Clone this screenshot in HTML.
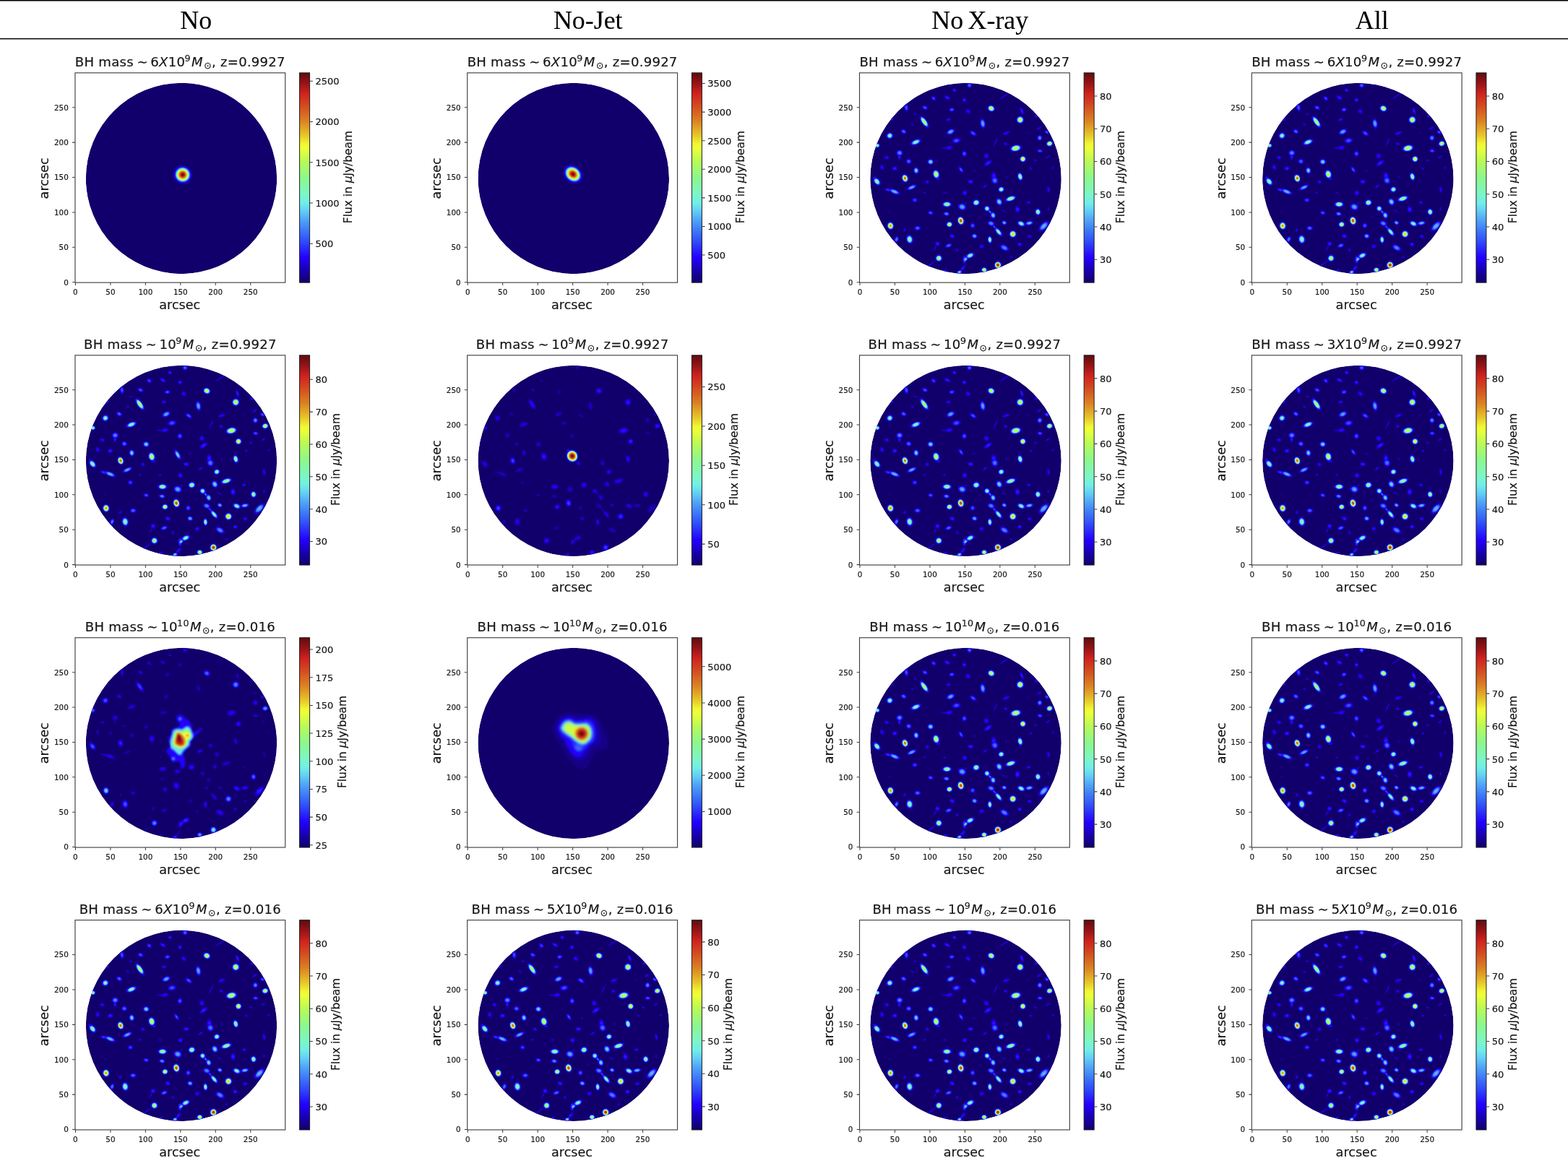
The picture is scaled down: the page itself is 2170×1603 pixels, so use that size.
<!DOCTYPE html>
<html lang="en"><head><meta charset="utf-8"><title>Simulated flux maps</title>
<style>html,body{margin:0;padding:0;background:#fff;width:2170px;height:1603px;overflow:hidden}svg{display:block;position:absolute;left:0;top:0}svg text{font-family:'DejaVu Sans','Liberation Sans',sans-serif;fill:#141414;stroke:#141414;stroke-width:0.17px;stroke-linejoin:round}svg text.hd{font-family:'Liberation Serif','DejaVu Serif',serif;fill:#000;stroke:#000;stroke-width:0.1px;word-spacing:-2.6px}</style>
</head><body>
<svg width="2170" height="1603" viewBox="0 0 2170 1603">
<defs>
<linearGradient id="cbar" x1="0" y1="1" x2="0" y2="0"><stop offset="0" stop-color="#11006c"/><stop offset="0.05" stop-color="#1700a5"/><stop offset="0.11" stop-color="#2100f5"/><stop offset="0.12" stop-color="#2300ff"/><stop offset="0.2" stop-color="#3050fa"/><stop offset="0.25" stop-color="#3e7af8"/><stop offset="0.3" stop-color="#50a5f8"/><stop offset="0.34" stop-color="#62cdf6"/><stop offset="0.38" stop-color="#70eee8"/><stop offset="0.42" stop-color="#7cf6c8"/><stop offset="0.5" stop-color="#8cf88c"/><stop offset="0.58" stop-color="#bafa56"/><stop offset="0.64" stop-color="#ecff38"/><stop offset="0.66" stop-color="#f0f834"/><stop offset="0.7" stop-color="#e8c82a"/><stop offset="0.77" stop-color="#dc8223"/><stop offset="0.85" stop-color="#d24620"/><stop offset="0.9" stop-color="#d0231e"/><stop offset="0.95" stop-color="#961416"/><stop offset="1" stop-color="#5f0c0f"/></linearGradient>
<radialGradient id="g0"><stop offset="0" stop-color="#2100f5" stop-opacity="0.36"/><stop offset="0.07" stop-color="#2100f5" stop-opacity="0.36"/><stop offset="0.14" stop-color="#2100f5" stop-opacity="0.36"/><stop offset="0.21" stop-color="#2100f5" stop-opacity="0.36"/><stop offset="0.29" stop-color="#2100f5" stop-opacity="0.36"/><stop offset="0.36" stop-color="#2100f5" stop-opacity="0.35"/><stop offset="0.43" stop-color="#2100f5" stop-opacity="0.35"/><stop offset="0.5" stop-color="#2100f5" stop-opacity="0.34"/><stop offset="0.57" stop-color="#2100f5" stop-opacity="0.32"/><stop offset="0.64" stop-color="#2100f5" stop-opacity="0.31"/><stop offset="0.71" stop-color="#2100f5" stop-opacity="0.28"/><stop offset="0.79" stop-color="#2100f5" stop-opacity="0.24"/><stop offset="0.86" stop-color="#2100f5" stop-opacity="0.18"/><stop offset="0.93" stop-color="#2100f5" stop-opacity="0.11"/><stop offset="1" stop-color="#2100f5" stop-opacity="0"/></radialGradient><radialGradient id="g1"><stop offset="0" stop-color="#2100f5" stop-opacity="0.45"/><stop offset="0.07" stop-color="#2100f5" stop-opacity="0.45"/><stop offset="0.14" stop-color="#2100f5" stop-opacity="0.45"/><stop offset="0.21" stop-color="#2100f5" stop-opacity="0.45"/><stop offset="0.29" stop-color="#2100f5" stop-opacity="0.44"/><stop offset="0.36" stop-color="#2100f5" stop-opacity="0.44"/><stop offset="0.43" stop-color="#2100f5" stop-opacity="0.42"/><stop offset="0.5" stop-color="#2100f5" stop-opacity="0.4"/><stop offset="0.57" stop-color="#2100f5" stop-opacity="0.38"/><stop offset="0.64" stop-color="#2100f5" stop-opacity="0.34"/><stop offset="0.71" stop-color="#2100f5" stop-opacity="0.3"/><stop offset="0.79" stop-color="#2100f5" stop-opacity="0.25"/><stop offset="0.86" stop-color="#2100f5" stop-opacity="0.18"/><stop offset="0.93" stop-color="#2100f5" stop-opacity="0.1"/><stop offset="1" stop-color="#2100f5" stop-opacity="0"/></radialGradient><radialGradient id="g2"><stop offset="0" stop-color="#2100f5" stop-opacity="0.55"/><stop offset="0.07" stop-color="#2100f5" stop-opacity="0.55"/><stop offset="0.14" stop-color="#2100f5" stop-opacity="0.54"/><stop offset="0.21" stop-color="#2100f5" stop-opacity="0.54"/><stop offset="0.29" stop-color="#2100f5" stop-opacity="0.53"/><stop offset="0.36" stop-color="#2100f5" stop-opacity="0.51"/><stop offset="0.43" stop-color="#2100f5" stop-opacity="0.49"/><stop offset="0.5" stop-color="#2100f5" stop-opacity="0.46"/><stop offset="0.57" stop-color="#2100f5" stop-opacity="0.43"/><stop offset="0.64" stop-color="#2100f5" stop-opacity="0.38"/><stop offset="0.71" stop-color="#2100f5" stop-opacity="0.32"/><stop offset="0.79" stop-color="#2100f5" stop-opacity="0.25"/><stop offset="0.86" stop-color="#2100f5" stop-opacity="0.17"/><stop offset="0.93" stop-color="#2100f5" stop-opacity="0.09"/><stop offset="1" stop-color="#2100f5" stop-opacity="0"/></radialGradient><radialGradient id="g3"><stop offset="0" stop-color="#2100f5" stop-opacity="0.64"/><stop offset="0.07" stop-color="#2100f5" stop-opacity="0.64"/><stop offset="0.14" stop-color="#2100f5" stop-opacity="0.63"/><stop offset="0.21" stop-color="#2100f5" stop-opacity="0.63"/><stop offset="0.29" stop-color="#2100f5" stop-opacity="0.61"/><stop offset="0.36" stop-color="#2100f5" stop-opacity="0.59"/><stop offset="0.43" stop-color="#2100f5" stop-opacity="0.56"/><stop offset="0.5" stop-color="#2100f5" stop-opacity="0.52"/><stop offset="0.57" stop-color="#2100f5" stop-opacity="0.47"/><stop offset="0.64" stop-color="#2100f5" stop-opacity="0.41"/><stop offset="0.71" stop-color="#2100f5" stop-opacity="0.34"/><stop offset="0.79" stop-color="#2100f5" stop-opacity="0.26"/><stop offset="0.86" stop-color="#2100f5" stop-opacity="0.17"/><stop offset="0.93" stop-color="#2100f5" stop-opacity="0.08"/><stop offset="1" stop-color="#2100f5" stop-opacity="0"/></radialGradient><radialGradient id="g4"><stop offset="0" stop-color="#2100f5" stop-opacity="0.73"/><stop offset="0.07" stop-color="#2100f5" stop-opacity="0.73"/><stop offset="0.14" stop-color="#2100f5" stop-opacity="0.72"/><stop offset="0.21" stop-color="#2100f5" stop-opacity="0.71"/><stop offset="0.29" stop-color="#2100f5" stop-opacity="0.7"/><stop offset="0.36" stop-color="#2100f5" stop-opacity="0.67"/><stop offset="0.43" stop-color="#2100f5" stop-opacity="0.63"/><stop offset="0.5" stop-color="#2100f5" stop-opacity="0.58"/><stop offset="0.57" stop-color="#2100f5" stop-opacity="0.52"/><stop offset="0.64" stop-color="#2100f5" stop-opacity="0.44"/><stop offset="0.71" stop-color="#2100f5" stop-opacity="0.35"/><stop offset="0.79" stop-color="#2100f5" stop-opacity="0.26"/><stop offset="0.86" stop-color="#2100f5" stop-opacity="0.17"/><stop offset="0.93" stop-color="#2100f5" stop-opacity="0.08"/><stop offset="1" stop-color="#2100f5" stop-opacity="0"/></radialGradient><radialGradient id="g5"><stop offset="0" stop-color="#2100f5" stop-opacity="0.82"/><stop offset="0.07" stop-color="#2100f5" stop-opacity="0.82"/><stop offset="0.14" stop-color="#2100f5" stop-opacity="0.81"/><stop offset="0.21" stop-color="#2100f5" stop-opacity="0.8"/><stop offset="0.29" stop-color="#2100f5" stop-opacity="0.78"/><stop offset="0.36" stop-color="#2100f5" stop-opacity="0.75"/><stop offset="0.43" stop-color="#2100f5" stop-opacity="0.7"/><stop offset="0.5" stop-color="#2100f5" stop-opacity="0.64"/><stop offset="0.57" stop-color="#2100f5" stop-opacity="0.56"/><stop offset="0.64" stop-color="#2100f5" stop-opacity="0.47"/><stop offset="0.71" stop-color="#2100f5" stop-opacity="0.37"/><stop offset="0.79" stop-color="#2100f5" stop-opacity="0.27"/><stop offset="0.86" stop-color="#2100f5" stop-opacity="0.17"/><stop offset="0.93" stop-color="#2100f5" stop-opacity="0.07"/><stop offset="1" stop-color="#2100f5" stop-opacity="0"/></radialGradient><radialGradient id="g6"><stop offset="0" stop-color="#2100f5" stop-opacity="0.91"/><stop offset="0.07" stop-color="#2100f5" stop-opacity="0.91"/><stop offset="0.14" stop-color="#2100f5" stop-opacity="0.9"/><stop offset="0.21" stop-color="#2100f5" stop-opacity="0.89"/><stop offset="0.29" stop-color="#2100f5" stop-opacity="0.86"/><stop offset="0.36" stop-color="#2100f5" stop-opacity="0.82"/><stop offset="0.43" stop-color="#2100f5" stop-opacity="0.76"/><stop offset="0.5" stop-color="#2100f5" stop-opacity="0.69"/><stop offset="0.57" stop-color="#2100f5" stop-opacity="0.6"/><stop offset="0.64" stop-color="#2100f5" stop-opacity="0.49"/><stop offset="0.71" stop-color="#2100f5" stop-opacity="0.38"/><stop offset="0.79" stop-color="#2100f5" stop-opacity="0.27"/><stop offset="0.86" stop-color="#2100f5" stop-opacity="0.16"/><stop offset="0.93" stop-color="#2100f5" stop-opacity="0.07"/><stop offset="1" stop-color="#2100f5" stop-opacity="0"/></radialGradient><radialGradient id="g7"><stop offset="0" stop-color="#2100f5"/><stop offset="0.07" stop-color="#2100f5"/><stop offset="0.14" stop-color="#2100f5" stop-opacity="0.99"/><stop offset="0.21" stop-color="#2100f5" stop-opacity="0.98"/><stop offset="0.29" stop-color="#2100f5" stop-opacity="0.95"/><stop offset="0.36" stop-color="#2100f5" stop-opacity="0.9"/><stop offset="0.43" stop-color="#2100f5" stop-opacity="0.83"/><stop offset="0.5" stop-color="#2100f5" stop-opacity="0.74"/><stop offset="0.57" stop-color="#2100f5" stop-opacity="0.64"/><stop offset="0.64" stop-color="#2100f5" stop-opacity="0.52"/><stop offset="0.71" stop-color="#2100f5" stop-opacity="0.39"/><stop offset="0.79" stop-color="#2100f5" stop-opacity="0.27"/><stop offset="0.86" stop-color="#2100f5" stop-opacity="0.16"/><stop offset="0.93" stop-color="#2100f5" stop-opacity="0.07"/><stop offset="1" stop-color="#2100f5" stop-opacity="0"/></radialGradient><radialGradient id="g8"><stop offset="0" stop-color="#2200fc"/><stop offset="0.07" stop-color="#2200fc"/><stop offset="0.14" stop-color="#2200fb"/><stop offset="0.21" stop-color="#2200fa"/><stop offset="0.29" stop-color="#2100f7"/><stop offset="0.36" stop-color="#2100f5" stop-opacity="0.97"/><stop offset="0.43" stop-color="#2100f5" stop-opacity="0.89"/><stop offset="0.5" stop-color="#2100f5" stop-opacity="0.79"/><stop offset="0.57" stop-color="#2100f5" stop-opacity="0.67"/><stop offset="0.64" stop-color="#2100f5" stop-opacity="0.54"/><stop offset="0.71" stop-color="#2100f5" stop-opacity="0.41"/><stop offset="0.79" stop-color="#2100f5" stop-opacity="0.28"/><stop offset="0.86" stop-color="#2100f5" stop-opacity="0.16"/><stop offset="0.93" stop-color="#2100f5" stop-opacity="0.07"/><stop offset="1" stop-color="#2100f5" stop-opacity="0"/></radialGradient><radialGradient id="g9"><stop offset="0" stop-color="#2405ff"/><stop offset="0.07" stop-color="#2405ff"/><stop offset="0.14" stop-color="#2404ff"/><stop offset="0.21" stop-color="#2302ff"/><stop offset="0.29" stop-color="#2300fd"/><stop offset="0.36" stop-color="#2200f8"/><stop offset="0.43" stop-color="#2100f5" stop-opacity="0.96"/><stop offset="0.5" stop-color="#2100f5" stop-opacity="0.84"/><stop offset="0.57" stop-color="#2100f5" stop-opacity="0.71"/><stop offset="0.64" stop-color="#2100f5" stop-opacity="0.57"/><stop offset="0.71" stop-color="#2100f5" stop-opacity="0.42"/><stop offset="0.79" stop-color="#2100f5" stop-opacity="0.28"/><stop offset="0.86" stop-color="#2100f5" stop-opacity="0.16"/><stop offset="0.93" stop-color="#2100f5" stop-opacity="0.06"/><stop offset="1" stop-color="#2100f5" stop-opacity="0"/></radialGradient><radialGradient id="g10"><stop offset="0" stop-color="#2610fe"/><stop offset="0.07" stop-color="#2610fe"/><stop offset="0.14" stop-color="#250ffe"/><stop offset="0.21" stop-color="#250cfe"/><stop offset="0.29" stop-color="#2407ff"/><stop offset="0.36" stop-color="#2300fe"/><stop offset="0.43" stop-color="#2100f6"/><stop offset="0.5" stop-color="#2100f5" stop-opacity="0.89"/><stop offset="0.57" stop-color="#2100f5" stop-opacity="0.75"/><stop offset="0.64" stop-color="#2100f5" stop-opacity="0.59"/><stop offset="0.71" stop-color="#2100f5" stop-opacity="0.43"/><stop offset="0.79" stop-color="#2100f5" stop-opacity="0.28"/><stop offset="0.86" stop-color="#2100f5" stop-opacity="0.15"/><stop offset="0.93" stop-color="#2100f5" stop-opacity="0.06"/><stop offset="1" stop-color="#2100f5" stop-opacity="0"/></radialGradient><radialGradient id="g11"><stop offset="0" stop-color="#271bfd"/><stop offset="0.07" stop-color="#271afd"/><stop offset="0.14" stop-color="#2719fd"/><stop offset="0.21" stop-color="#2716fe"/><stop offset="0.29" stop-color="#2610fe"/><stop offset="0.36" stop-color="#2407ff"/><stop offset="0.43" stop-color="#2200fb"/><stop offset="0.5" stop-color="#2100f5" stop-opacity="0.94"/><stop offset="0.57" stop-color="#2100f5" stop-opacity="0.78"/><stop offset="0.64" stop-color="#2100f5" stop-opacity="0.61"/><stop offset="0.71" stop-color="#2100f5" stop-opacity="0.44"/><stop offset="0.79" stop-color="#2100f5" stop-opacity="0.28"/><stop offset="0.86" stop-color="#2100f5" stop-opacity="0.15"/><stop offset="0.93" stop-color="#2100f5" stop-opacity="0.06"/><stop offset="1" stop-color="#2100f5" stop-opacity="0"/></radialGradient><radialGradient id="g12"><stop offset="0" stop-color="#2925fd"/><stop offset="0.07" stop-color="#2925fd"/><stop offset="0.14" stop-color="#2924fd"/><stop offset="0.21" stop-color="#2820fd"/><stop offset="0.29" stop-color="#271afd"/><stop offset="0.36" stop-color="#250ffe"/><stop offset="0.43" stop-color="#2301ff"/><stop offset="0.5" stop-color="#2100f5" stop-opacity="0.99"/><stop offset="0.57" stop-color="#2100f5" stop-opacity="0.82"/><stop offset="0.64" stop-color="#2100f5" stop-opacity="0.63"/><stop offset="0.71" stop-color="#2100f5" stop-opacity="0.45"/><stop offset="0.79" stop-color="#2100f5" stop-opacity="0.28"/><stop offset="0.86" stop-color="#2100f5" stop-opacity="0.15"/><stop offset="0.93" stop-color="#2100f5" stop-opacity="0.06"/><stop offset="1" stop-color="#2100f5" stop-opacity="0"/></radialGradient><radialGradient id="g13"><stop offset="0" stop-color="#2d3bfb"/><stop offset="0.07" stop-color="#2c3afb"/><stop offset="0.14" stop-color="#2c39fb"/><stop offset="0.21" stop-color="#2c35fc"/><stop offset="0.29" stop-color="#2a2dfc"/><stop offset="0.36" stop-color="#2820fd"/><stop offset="0.43" stop-color="#250ffe"/><stop offset="0.5" stop-color="#2200fb"/><stop offset="0.57" stop-color="#2100f5" stop-opacity="0.88"/><stop offset="0.64" stop-color="#2100f5" stop-opacity="0.67"/><stop offset="0.71" stop-color="#2100f5" stop-opacity="0.47"/><stop offset="0.79" stop-color="#2100f5" stop-opacity="0.29"/><stop offset="0.86" stop-color="#2100f5" stop-opacity="0.15"/><stop offset="0.93" stop-color="#2100f5" stop-opacity="0.05"/><stop offset="1" stop-color="#2100f5" stop-opacity="0"/></radialGradient><radialGradient id="g14"><stop offset="0" stop-color="#3050fa"/><stop offset="0.07" stop-color="#3050fa"/><stop offset="0.14" stop-color="#304efa"/><stop offset="0.21" stop-color="#2f49fa"/><stop offset="0.29" stop-color="#2d40fb"/><stop offset="0.36" stop-color="#2b31fc"/><stop offset="0.43" stop-color="#281dfd"/><stop offset="0.5" stop-color="#2405ff"/><stop offset="0.57" stop-color="#2100f5" stop-opacity="0.95"/><stop offset="0.64" stop-color="#2100f5" stop-opacity="0.71"/><stop offset="0.71" stop-color="#2100f5" stop-opacity="0.48"/><stop offset="0.79" stop-color="#2100f5" stop-opacity="0.29"/><stop offset="0.86" stop-color="#2100f5" stop-opacity="0.15"/><stop offset="0.93" stop-color="#2100f5" stop-opacity="0.05"/><stop offset="1" stop-color="#2100f5" stop-opacity="0"/></radialGradient><radialGradient id="g15"><stop offset="0" stop-color="#3661f9"/><stop offset="0.07" stop-color="#3661f9"/><stop offset="0.14" stop-color="#355ff9"/><stop offset="0.21" stop-color="#335afa"/><stop offset="0.29" stop-color="#3152fa"/><stop offset="0.36" stop-color="#2e42fb"/><stop offset="0.43" stop-color="#2a2bfc"/><stop offset="0.5" stop-color="#250ffe"/><stop offset="0.57" stop-color="#2100f5"/><stop offset="0.64" stop-color="#2100f5" stop-opacity="0.74"/><stop offset="0.71" stop-color="#2100f5" stop-opacity="0.5"/><stop offset="0.79" stop-color="#2100f5" stop-opacity="0.3"/><stop offset="0.86" stop-color="#2100f5" stop-opacity="0.15"/><stop offset="0.93" stop-color="#2100f5" stop-opacity="0.05"/><stop offset="1" stop-color="#2100f5" stop-opacity="0"/></radialGradient><radialGradient id="g16"><stop offset="0" stop-color="#3b72f8"/><stop offset="0.07" stop-color="#3b71f8"/><stop offset="0.14" stop-color="#3a6ff9"/><stop offset="0.21" stop-color="#396af9"/><stop offset="0.29" stop-color="#3661f9"/><stop offset="0.36" stop-color="#3152fa"/><stop offset="0.43" stop-color="#2c39fb"/><stop offset="0.5" stop-color="#271afd"/><stop offset="0.57" stop-color="#2200fa"/><stop offset="0.64" stop-color="#2100f5" stop-opacity="0.78"/><stop offset="0.71" stop-color="#2100f5" stop-opacity="0.51"/><stop offset="0.79" stop-color="#2100f5" stop-opacity="0.3"/><stop offset="0.86" stop-color="#2100f5" stop-opacity="0.14"/><stop offset="0.93" stop-color="#2100f5" stop-opacity="0.05"/><stop offset="1" stop-color="#2100f5" stop-opacity="0"/></radialGradient><radialGradient id="g17"><stop offset="0" stop-color="#4283f8"/><stop offset="0.07" stop-color="#4182f8"/><stop offset="0.14" stop-color="#4180f8"/><stop offset="0.21" stop-color="#3e7af8"/><stop offset="0.29" stop-color="#3a6ff9"/><stop offset="0.36" stop-color="#355ff9"/><stop offset="0.43" stop-color="#2e46fb"/><stop offset="0.5" stop-color="#2924fd"/><stop offset="0.57" stop-color="#2300fe"/><stop offset="0.64" stop-color="#2100f5" stop-opacity="0.81"/><stop offset="0.71" stop-color="#2100f5" stop-opacity="0.53"/><stop offset="0.79" stop-color="#2100f5" stop-opacity="0.3"/><stop offset="0.86" stop-color="#2100f5" stop-opacity="0.14"/><stop offset="0.93" stop-color="#2100f5" stop-opacity="0.05"/><stop offset="1" stop-color="#2100f5" stop-opacity="0"/></radialGradient><radialGradient id="g18"><stop offset="0" stop-color="#4994f8"/><stop offset="0.07" stop-color="#4993f8"/><stop offset="0.14" stop-color="#4891f8"/><stop offset="0.21" stop-color="#458af8"/><stop offset="0.29" stop-color="#407ef8"/><stop offset="0.36" stop-color="#396bf9"/><stop offset="0.43" stop-color="#3153fa"/><stop offset="0.5" stop-color="#2a2efc"/><stop offset="0.57" stop-color="#2405ff"/><stop offset="0.64" stop-color="#2100f5" stop-opacity="0.84"/><stop offset="0.71" stop-color="#2100f5" stop-opacity="0.54"/><stop offset="0.79" stop-color="#2100f5" stop-opacity="0.3"/><stop offset="0.86" stop-color="#2100f5" stop-opacity="0.14"/><stop offset="0.93" stop-color="#2100f5" stop-opacity="0.04"/><stop offset="1" stop-color="#2100f5" stop-opacity="0"/></radialGradient><radialGradient id="g19"><stop offset="0" stop-color="#50a5f8"/><stop offset="0.07" stop-color="#50a5f8"/><stop offset="0.14" stop-color="#4fa2f8"/><stop offset="0.21" stop-color="#4c9bf8"/><stop offset="0.29" stop-color="#468df8"/><stop offset="0.36" stop-color="#3d78f8"/><stop offset="0.43" stop-color="#345df9"/><stop offset="0.5" stop-color="#2c38fc"/><stop offset="0.57" stop-color="#250cfe"/><stop offset="0.64" stop-color="#2100f5" stop-opacity="0.87"/><stop offset="0.71" stop-color="#2100f5" stop-opacity="0.55"/><stop offset="0.79" stop-color="#2100f5" stop-opacity="0.31"/><stop offset="0.86" stop-color="#2100f5" stop-opacity="0.14"/><stop offset="0.93" stop-color="#2100f5" stop-opacity="0.04"/><stop offset="1" stop-color="#2100f5" stop-opacity="0"/></radialGradient><radialGradient id="g20"><stop offset="0" stop-color="#59b9f7"/><stop offset="0.07" stop-color="#59b8f7"/><stop offset="0.14" stop-color="#57b5f7"/><stop offset="0.21" stop-color="#53acf8"/><stop offset="0.29" stop-color="#4c9cf8"/><stop offset="0.36" stop-color="#4385f8"/><stop offset="0.43" stop-color="#3867f9"/><stop offset="0.5" stop-color="#2e41fb"/><stop offset="0.57" stop-color="#2612fe"/><stop offset="0.64" stop-color="#2100f5" stop-opacity="0.9"/><stop offset="0.71" stop-color="#2100f5" stop-opacity="0.57"/><stop offset="0.79" stop-color="#2100f5" stop-opacity="0.31"/><stop offset="0.86" stop-color="#2100f5" stop-opacity="0.14"/><stop offset="0.93" stop-color="#2100f5" stop-opacity="0.04"/><stop offset="1" stop-color="#2100f5" stop-opacity="0"/></radialGradient><radialGradient id="g21"><stop offset="0" stop-color="#66d6f2"/><stop offset="0.07" stop-color="#66d6f2"/><stop offset="0.14" stop-color="#64d2f4"/><stop offset="0.21" stop-color="#60c8f6"/><stop offset="0.29" stop-color="#57b4f7"/><stop offset="0.36" stop-color="#4b99f8"/><stop offset="0.43" stop-color="#3d77f8"/><stop offset="0.5" stop-color="#3050fa"/><stop offset="0.57" stop-color="#271bfd"/><stop offset="0.64" stop-color="#2100f5" stop-opacity="0.94"/><stop offset="0.71" stop-color="#2100f5" stop-opacity="0.58"/><stop offset="0.79" stop-color="#2100f5" stop-opacity="0.31"/><stop offset="0.86" stop-color="#2100f5" stop-opacity="0.14"/><stop offset="0.93" stop-color="#2100f5" stop-opacity="0.04"/><stop offset="1" stop-color="#2100f5" stop-opacity="0"/></radialGradient><radialGradient id="g22"><stop offset="0" stop-color="#71efe4"/><stop offset="0.07" stop-color="#71efe5"/><stop offset="0.14" stop-color="#70eee8"/><stop offset="0.21" stop-color="#6be3ed"/><stop offset="0.29" stop-color="#62cef6"/><stop offset="0.36" stop-color="#54adf8"/><stop offset="0.43" stop-color="#4386f8"/><stop offset="0.5" stop-color="#345bf9"/><stop offset="0.57" stop-color="#2924fd"/><stop offset="0.64" stop-color="#2100f5" stop-opacity="0.99"/><stop offset="0.71" stop-color="#2100f5" stop-opacity="0.6"/><stop offset="0.79" stop-color="#2100f5" stop-opacity="0.32"/><stop offset="0.86" stop-color="#2100f5" stop-opacity="0.13"/><stop offset="0.93" stop-color="#2100f5" stop-opacity="0.04"/><stop offset="1" stop-color="#2100f5" stop-opacity="0"/></radialGradient><radialGradient id="g23"><stop offset="0" stop-color="#7cf6c8"/><stop offset="0.07" stop-color="#7cf6c9"/><stop offset="0.14" stop-color="#7af5cc"/><stop offset="0.21" stop-color="#77f3d6"/><stop offset="0.29" stop-color="#70eee8"/><stop offset="0.36" stop-color="#61cbf6"/><stop offset="0.43" stop-color="#4c9af8"/><stop offset="0.5" stop-color="#3869f9"/><stop offset="0.57" stop-color="#2b30fc"/><stop offset="0.64" stop-color="#2200f8"/><stop offset="0.71" stop-color="#2100f5" stop-opacity="0.62"/><stop offset="0.79" stop-color="#2100f5" stop-opacity="0.32"/><stop offset="0.86" stop-color="#2100f5" stop-opacity="0.13"/><stop offset="0.93" stop-color="#2100f5" stop-opacity="0.04"/><stop offset="1" stop-color="#2100f5" stop-opacity="0"/></radialGradient><radialGradient id="g24"><stop offset="0" stop-color="#84f7aa"/><stop offset="0.07" stop-color="#84f7ab"/><stop offset="0.14" stop-color="#83f7af"/><stop offset="0.21" stop-color="#80f6ba"/><stop offset="0.29" stop-color="#79f4cf"/><stop offset="0.36" stop-color="#6de6eb"/><stop offset="0.43" stop-color="#55b0f7"/><stop offset="0.5" stop-color="#3d77f8"/><stop offset="0.57" stop-color="#2d3bfb"/><stop offset="0.64" stop-color="#2200fb"/><stop offset="0.71" stop-color="#2100f5" stop-opacity="0.64"/><stop offset="0.79" stop-color="#2100f5" stop-opacity="0.32"/><stop offset="0.86" stop-color="#2100f5" stop-opacity="0.13"/><stop offset="0.93" stop-color="#2100f5" stop-opacity="0.04"/><stop offset="1" stop-color="#2100f5" stop-opacity="0"/></radialGradient><radialGradient id="g25"><stop offset="0" stop-color="#8cf88c"/><stop offset="0.07" stop-color="#8cf88d"/><stop offset="0.14" stop-color="#8bf892"/><stop offset="0.21" stop-color="#87f79e"/><stop offset="0.29" stop-color="#81f7b6"/><stop offset="0.36" stop-color="#76f2d9"/><stop offset="0.43" stop-color="#5fc7f6"/><stop offset="0.5" stop-color="#4385f8"/><stop offset="0.57" stop-color="#2e46fb"/><stop offset="0.64" stop-color="#2300ff"/><stop offset="0.71" stop-color="#2100f5" stop-opacity="0.66"/><stop offset="0.79" stop-color="#2100f5" stop-opacity="0.33"/><stop offset="0.86" stop-color="#2100f5" stop-opacity="0.13"/><stop offset="0.93" stop-color="#2100f5" stop-opacity="0.03"/><stop offset="1" stop-color="#2100f5" stop-opacity="0"/></radialGradient><radialGradient id="g26"><stop offset="0" stop-color="#a9f96a"/><stop offset="0.07" stop-color="#a8f96b"/><stop offset="0.14" stop-color="#a4f970"/><stop offset="0.21" stop-color="#99f97d"/><stop offset="0.29" stop-color="#89f896"/><stop offset="0.36" stop-color="#7ef6bf"/><stop offset="0.43" stop-color="#6be2ed"/><stop offset="0.5" stop-color="#4a96f8"/><stop offset="0.57" stop-color="#3152fa"/><stop offset="0.64" stop-color="#2407ff"/><stop offset="0.71" stop-color="#2100f5" stop-opacity="0.68"/><stop offset="0.79" stop-color="#2100f5" stop-opacity="0.33"/><stop offset="0.86" stop-color="#2100f5" stop-opacity="0.13"/><stop offset="0.93" stop-color="#2100f5" stop-opacity="0.03"/><stop offset="1" stop-color="#2100f5" stop-opacity="0"/></radialGradient><radialGradient id="g27"><stop offset="0" stop-color="#cbfc4c"/><stop offset="0.07" stop-color="#cafc4d"/><stop offset="0.14" stop-color="#c3fb51"/><stop offset="0.21" stop-color="#b4fa5e"/><stop offset="0.29" stop-color="#9cf979"/><stop offset="0.36" stop-color="#86f7a4"/><stop offset="0.43" stop-color="#74f1dd"/><stop offset="0.5" stop-color="#51a8f8"/><stop offset="0.57" stop-color="#345df9"/><stop offset="0.64" stop-color="#250dfe"/><stop offset="0.71" stop-color="#2100f5" stop-opacity="0.7"/><stop offset="0.79" stop-color="#2100f5" stop-opacity="0.33"/><stop offset="0.86" stop-color="#2100f5" stop-opacity="0.13"/><stop offset="0.93" stop-color="#2100f5" stop-opacity="0.03"/><stop offset="1" stop-color="#2100f5" stop-opacity="0"/></radialGradient><radialGradient id="g28"><stop offset="0" stop-color="#eefc36"/><stop offset="0.07" stop-color="#eefc36"/><stop offset="0.14" stop-color="#ecff38"/><stop offset="0.21" stop-color="#d7fd44"/><stop offset="0.29" stop-color="#b5fa5c"/><stop offset="0.36" stop-color="#8ef889"/><stop offset="0.43" stop-color="#7cf6c9"/><stop offset="0.5" stop-color="#5abbf7"/><stop offset="0.57" stop-color="#3766f9"/><stop offset="0.64" stop-color="#2613fe"/><stop offset="0.71" stop-color="#2100f5" stop-opacity="0.72"/><stop offset="0.79" stop-color="#2100f5" stop-opacity="0.34"/><stop offset="0.86" stop-color="#2100f5" stop-opacity="0.12"/><stop offset="0.93" stop-color="#2100f5" stop-opacity="0.03"/><stop offset="1" stop-color="#2100f5" stop-opacity="0"/></radialGradient><radialGradient id="g29"><stop offset="0" stop-color="#e8c82a"/><stop offset="0.07" stop-color="#e8ca2a"/><stop offset="0.14" stop-color="#ead62d"/><stop offset="0.21" stop-color="#f0f634"/><stop offset="0.29" stop-color="#d5fd46"/><stop offset="0.36" stop-color="#a3f971"/><stop offset="0.43" stop-color="#81f7b5"/><stop offset="0.5" stop-color="#62cef6"/><stop offset="0.57" stop-color="#3b70f8"/><stop offset="0.64" stop-color="#2719fd"/><stop offset="0.71" stop-color="#2100f5" stop-opacity="0.74"/><stop offset="0.79" stop-color="#2100f5" stop-opacity="0.34"/><stop offset="0.86" stop-color="#2100f5" stop-opacity="0.12"/><stop offset="0.93" stop-color="#2100f5" stop-opacity="0.03"/><stop offset="1" stop-color="#2100f5" stop-opacity="0"/></radialGradient><radialGradient id="g30"><stop offset="0" stop-color="#df9625"/><stop offset="0.07" stop-color="#e09825"/><stop offset="0.14" stop-color="#e2a326"/><stop offset="0.21" stop-color="#e7c029"/><stop offset="0.29" stop-color="#effa35"/><stop offset="0.36" stop-color="#b7fa5a"/><stop offset="0.43" stop-color="#87f7a0"/><stop offset="0.5" stop-color="#6ae0ee"/><stop offset="0.57" stop-color="#3e79f8"/><stop offset="0.64" stop-color="#281ffd"/><stop offset="0.71" stop-color="#2100f5" stop-opacity="0.76"/><stop offset="0.79" stop-color="#2100f5" stop-opacity="0.34"/><stop offset="0.86" stop-color="#2100f5" stop-opacity="0.12"/><stop offset="0.93" stop-color="#2100f5" stop-opacity="0.03"/><stop offset="1" stop-color="#2100f5" stop-opacity="0"/></radialGradient><radialGradient id="g31"><stop offset="0" stop-color="#d86b22"/><stop offset="0.07" stop-color="#d86d22"/><stop offset="0.14" stop-color="#da7622"/><stop offset="0.21" stop-color="#df9225"/><stop offset="0.29" stop-color="#e9cd2b"/><stop offset="0.36" stop-color="#d3fc47"/><stop offset="0.43" stop-color="#8cf88c"/><stop offset="0.5" stop-color="#71efe6"/><stop offset="0.57" stop-color="#4283f8"/><stop offset="0.64" stop-color="#2925fd"/><stop offset="0.71" stop-color="#2100f5" stop-opacity="0.77"/><stop offset="0.79" stop-color="#2100f5" stop-opacity="0.34"/><stop offset="0.86" stop-color="#2100f5" stop-opacity="0.12"/><stop offset="0.93" stop-color="#2100f5" stop-opacity="0.03"/><stop offset="1" stop-color="#2100f5" stop-opacity="0"/></radialGradient><radialGradient id="g32"><stop offset="0" stop-color="#d24620"/><stop offset="0.07" stop-color="#d24720"/><stop offset="0.14" stop-color="#d45121"/><stop offset="0.21" stop-color="#d86b22"/><stop offset="0.29" stop-color="#e2a226"/><stop offset="0.36" stop-color="#edfd37"/><stop offset="0.43" stop-color="#9bf97a"/><stop offset="0.5" stop-color="#76f2d9"/><stop offset="0.57" stop-color="#458cf8"/><stop offset="0.64" stop-color="#2a2afc"/><stop offset="0.71" stop-color="#2100f5" stop-opacity="0.79"/><stop offset="0.79" stop-color="#2100f5" stop-opacity="0.35"/><stop offset="0.86" stop-color="#2100f5" stop-opacity="0.12"/><stop offset="0.93" stop-color="#2100f5" stop-opacity="0.03"/><stop offset="1" stop-color="#2100f5" stop-opacity="0"/></radialGradient><radialGradient id="g33"><stop offset="0" stop-color="#d0231e"/><stop offset="0.07" stop-color="#d0241e"/><stop offset="0.14" stop-color="#d12e1f"/><stop offset="0.21" stop-color="#d24820"/><stop offset="0.29" stop-color="#db7b23"/><stop offset="0.36" stop-color="#ece12f"/><stop offset="0.43" stop-color="#aaf968"/><stop offset="0.5" stop-color="#7af5cc"/><stop offset="0.57" stop-color="#4995f8"/><stop offset="0.64" stop-color="#2b2ffc"/><stop offset="0.71" stop-color="#2100f5" stop-opacity="0.8"/><stop offset="0.79" stop-color="#2100f5" stop-opacity="0.35"/><stop offset="0.86" stop-color="#2100f5" stop-opacity="0.12"/><stop offset="0.93" stop-color="#2100f5" stop-opacity="0.03"/><stop offset="1" stop-color="#2100f5" stop-opacity="0"/></radialGradient>
<radialGradient id="gc3"><stop offset="0" stop-color="#5f0c0f"/><stop offset="0.04" stop-color="#700e11"/><stop offset="0.08" stop-color="#821113"/><stop offset="0.12" stop-color="#9c1517"/><stop offset="0.17" stop-color="#b71c1b"/><stop offset="0.21" stop-color="#d1311f"/><stop offset="0.25" stop-color="#d45121"/><stop offset="0.29" stop-color="#d96f22"/><stop offset="0.33" stop-color="#de9024"/><stop offset="0.38" stop-color="#e5b928"/><stop offset="0.42" stop-color="#ede831"/><stop offset="0.46" stop-color="#d9fd43"/><stop offset="0.5" stop-color="#a5f96e"/><stop offset="0.54" stop-color="#86f7a4"/><stop offset="0.58" stop-color="#73f0df"/><stop offset="0.62" stop-color="#56b2f7"/><stop offset="0.67" stop-color="#3b71f8"/><stop offset="0.71" stop-color="#2b32fc"/><stop offset="0.75" stop-color="#2100f7"/><stop offset="0.79" stop-color="#2100f5" stop-opacity="0.78"/><stop offset="0.83" stop-color="#2100f5" stop-opacity="0.53"/><stop offset="0.88" stop-color="#2100f5" stop-opacity="0.34"/><stop offset="0.92" stop-color="#2100f5" stop-opacity="0.17"/><stop offset="0.96" stop-color="#2100f5" stop-opacity="0.08"/><stop offset="1" stop-color="#2100f5" stop-opacity="0"/></radialGradient>
<radialGradient id="gc4"><stop offset="0" stop-color="#5f0c0f"/><stop offset="0.04" stop-color="#6a0e10"/><stop offset="0.08" stop-color="#760f12"/><stop offset="0.12" stop-color="#831114"/><stop offset="0.17" stop-color="#9c1617"/><stop offset="0.21" stop-color="#b61c1a"/><stop offset="0.25" stop-color="#d0231e"/><stop offset="0.29" stop-color="#d13c1f"/><stop offset="0.33" stop-color="#d55521"/><stop offset="0.38" stop-color="#d96f22"/><stop offset="0.42" stop-color="#de8c24"/><stop offset="0.46" stop-color="#e4b028"/><stop offset="0.5" stop-color="#ebd92d"/><stop offset="0.54" stop-color="#edfd37"/><stop offset="0.58" stop-color="#b4fa5e"/><stop offset="0.62" stop-color="#8af894"/><stop offset="0.67" stop-color="#77f3d4"/><stop offset="0.71" stop-color="#52a9f8"/><stop offset="0.75" stop-color="#3256fa"/><stop offset="0.79" stop-color="#2200fb"/><stop offset="0.83" stop-color="#2100f5" stop-opacity="0.7"/><stop offset="0.88" stop-color="#2100f5" stop-opacity="0.43"/><stop offset="0.92" stop-color="#2100f5" stop-opacity="0.24"/><stop offset="0.96" stop-color="#2100f5" stop-opacity="0.12"/><stop offset="1" stop-color="#2100f5" stop-opacity="0"/></radialGradient>
<filter id="bl1" x="-20%" y="-20%" width="140%" height="140%"><feGaussianBlur stdDeviation="0.85"/></filter>
<filter id="bl2" x="-20%" y="-20%" width="140%" height="140%"><feGaussianBlur stdDeviation="1.5"/></filter>
<clipPath id="cc"><circle cx="147.05" cy="146.1" r="132.2"/></clipPath>
</defs>
<rect width="2170" height="1603" fill="#fff"/>
<rect x="0" y="0" width="2170" height="1.5" fill="#000"/>
<rect x="0" y="52.9" width="2170" height="1.5" fill="#000"/>
<text class="hd" x="271.25" y="40.1" font-size="35.9" text-anchor="middle">No</text>
<text class="hd" x="813.75" y="40.1" font-size="35.9" text-anchor="middle">No-Jet</text>
<text class="hd" x="1356.25" y="40.1" font-size="35.9" text-anchor="middle">No X-ray</text>
<text class="hd" x="1898.75" y="40.1" font-size="35.9" text-anchor="middle">All</text>
<g transform="translate(103.95 100.85)">
<g clip-path="url(#cc)">
<circle cx="147.05" cy="146.1" r="132.2" fill="#11006c"/>
<ellipse rx="14.6" ry="14.3" fill="url(#gc3)" transform="translate(148.87 140.98) rotate(30)"/>
</g>
<rect x="0" y="0" width="290.8" height="290.3" fill="none" stroke="#404040" stroke-width="1.15"/>
<path d="M0.48 290.3v3.9M0 289.81h-3.9M48.95 290.3v3.9M0 241.43h-3.9M97.42 290.3v3.9M0 193.05h-3.9M145.89 290.3v3.9M0 144.66h-3.9M194.35 290.3v3.9M0 96.28h-3.9M242.82 290.3v3.9M0 47.9h-3.9" stroke="#404040" stroke-width="1.05" fill="none"/>
<g font-size="10.4" text-anchor="middle">
<text x="0.48" y="306.9">0</text>
<text x="48.95" y="306.9">50</text>
<text x="97.42" y="306.9">100</text>
<text x="145.89" y="306.9">150</text>
<text x="194.35" y="306.9">200</text>
<text x="242.82" y="306.9">250</text>
</g>
<g font-size="10.4" text-anchor="end">
<text x="-9.1" y="293.71">0</text>
<text x="-9.1" y="245.33">50</text>
<text x="-9.1" y="196.95">100</text>
<text x="-9.1" y="148.56">150</text>
<text x="-9.1" y="100.18">200</text>
<text x="-9.1" y="51.8">250</text>
</g>
<text x="144.8" y="327.1" font-size="17.6" text-anchor="middle">arcsec</text>
<text font-size="17.6" text-anchor="middle" transform="translate(-36.7 146.05) rotate(-90)">arcsec</text>
<text x="145.4" y="-8.9" font-size="18.1" text-anchor="middle" letter-spacing="0.23">BH mass<tspan dx="4.6">∼</tspan><tspan dx="3.5">6</tspan><tspan font-style="italic">X</tspan>10<tspan font-size="12.67" dy="-6.6" dx="-0.6">9</tspan><tspan font-style="italic" dy="6.6" dx="1.2">M</tspan><tspan font-size="12.67" dy="2.9" dx="1.3">⊙</tspan><tspan dy="-2.9">, z=0.9927</tspan></text>
<rect x="310.65" y="0" width="14" height="290.3" fill="url(#cbar)" stroke="#161616" stroke-width="0.95"/>
<path d="M325.05 236.35h3.9M325.05 180.1h3.9M325.05 123.85h3.9M325.05 67.6h3.9M325.05 11.35h3.9" stroke="#404040" stroke-width="1.05" fill="none"/>
<g font-size="13">
<text x="332.55" y="241.25">500</text>
<text x="332.55" y="185">1000</text>
<text x="332.55" y="128.75">1500</text>
<text x="332.55" y="72.5">2000</text>
<text x="332.55" y="16.25">2500</text>
</g>
<text font-size="15.4" text-anchor="middle" transform="translate(382.85 144.25) rotate(-90)">Flux in <tspan font-style="italic">μ</tspan>Jy/beam</text>
</g>
<g transform="translate(646.73 100.85)">
<g clip-path="url(#cc)">
<circle cx="147.05" cy="146.1" r="132.2" fill="#11006c"/>
<ellipse rx="16.3" ry="13.2" fill="url(#gc3)" transform="translate(146.2 140.2) rotate(40)"/>
</g>
<rect x="0" y="0" width="290.8" height="290.3" fill="none" stroke="#404040" stroke-width="1.15"/>
<path d="M0.48 290.3v3.9M0 289.81h-3.9M48.95 290.3v3.9M0 241.43h-3.9M97.42 290.3v3.9M0 193.05h-3.9M145.89 290.3v3.9M0 144.66h-3.9M194.35 290.3v3.9M0 96.28h-3.9M242.82 290.3v3.9M0 47.9h-3.9" stroke="#404040" stroke-width="1.05" fill="none"/>
<g font-size="10.4" text-anchor="middle">
<text x="0.48" y="306.9">0</text>
<text x="48.95" y="306.9">50</text>
<text x="97.42" y="306.9">100</text>
<text x="145.89" y="306.9">150</text>
<text x="194.35" y="306.9">200</text>
<text x="242.82" y="306.9">250</text>
</g>
<g font-size="10.4" text-anchor="end">
<text x="-9.1" y="293.71">0</text>
<text x="-9.1" y="245.33">50</text>
<text x="-9.1" y="196.95">100</text>
<text x="-9.1" y="148.56">150</text>
<text x="-9.1" y="100.18">200</text>
<text x="-9.1" y="51.8">250</text>
</g>
<text x="144.8" y="327.1" font-size="17.6" text-anchor="middle">arcsec</text>
<text font-size="17.6" text-anchor="middle" transform="translate(-36.7 146.05) rotate(-90)">arcsec</text>
<text x="145.4" y="-8.9" font-size="18.1" text-anchor="middle" letter-spacing="0.23">BH mass<tspan dx="4.6">∼</tspan><tspan dx="3.5">6</tspan><tspan font-style="italic">X</tspan>10<tspan font-size="12.67" dy="-6.6" dx="-0.6">9</tspan><tspan font-style="italic" dy="6.6" dx="1.2">M</tspan><tspan font-size="12.67" dy="2.9" dx="1.3">⊙</tspan><tspan dy="-2.9">, z=0.9927</tspan></text>
<rect x="310.65" y="0" width="14" height="290.3" fill="url(#cbar)" stroke="#161616" stroke-width="0.95"/>
<path d="M325.05 252.22h3.9M325.05 212.63h3.9M325.05 173.04h3.9M325.05 133.45h3.9M325.05 93.86h3.9M325.05 54.27h3.9M325.05 14.68h3.9" stroke="#404040" stroke-width="1.05" fill="none"/>
<g font-size="13">
<text x="332.55" y="257.12">500</text>
<text x="332.55" y="217.53">1000</text>
<text x="332.55" y="177.94">1500</text>
<text x="332.55" y="138.35">2000</text>
<text x="332.55" y="98.76">2500</text>
<text x="332.55" y="59.17">3000</text>
<text x="332.55" y="19.58">3500</text>
</g>
<text font-size="15.4" text-anchor="middle" transform="translate(382.85 144.25) rotate(-90)">Flux in <tspan font-style="italic">μ</tspan>Jy/beam</text>
</g>
<g transform="translate(1189.51 100.85)">
<g clip-path="url(#cc)">
<circle cx="147.05" cy="146.1" r="132.2" fill="#11006c"/>
<ellipse cx="232.61" cy="83.22" rx="1.48" ry="1.48" fill="url(#g2)"/><ellipse cx="41.43" cy="192.52" rx="1.48" ry="1.48" fill="url(#g2)"/><ellipse rx="1.85" ry="1.48" fill="url(#g2)" transform="translate(166.82 199.54) rotate(40)"/><ellipse rx="3.08" ry="1.48" fill="url(#g3)" transform="translate(203.13 144.05) rotate(80)"/><ellipse rx="3.45" ry="1.73" fill="url(#g4)" transform="translate(76.99 57.02) rotate(10)"/><ellipse rx="3.08" ry="2.22" fill="url(#g4)" transform="translate(72.97 71.25) rotate(40)"/><ellipse cx="117.7" cy="104" rx="6.16" ry="1.48" fill="url(#g4)"/><ellipse cx="267.7" cy="131.42" rx="2.22" ry="2.22" fill="url(#g4)"/><ellipse cx="158.68" cy="136.09" rx="1.85" ry="1.85" fill="url(#g4)"/><ellipse cx="117.51" cy="165.85" rx="2.71" ry="1.97" fill="url(#g4)"/><ellipse rx="3.7" ry="1.48" fill="url(#g4)" transform="translate(146.99 180.82) rotate(-60)"/><ellipse rx="4.93" ry="1.48" fill="url(#g4)" transform="translate(199.57 191.3) rotate(30)"/><ellipse rx="3.45" ry="1.85" fill="url(#g4)" transform="translate(261.33 188.31) rotate(90)"/><ellipse cx="209.68" cy="254.75" rx="2.47" ry="2.47" fill="url(#g4)"/><ellipse rx="9.86" ry="1.48" fill="url(#g5)" transform="translate(200.32 32.23) rotate(-33)"/><ellipse rx="8.63" ry="1.48" fill="url(#g5)" transform="translate(188.16 95.86) rotate(-65)"/><ellipse rx="5.55" ry="1.48" fill="url(#g5)" transform="translate(104.6 242.58) rotate(-60)"/><ellipse rx="11.3" ry="1.51" fill="url(#g5)" transform="translate(98.98 264.57) rotate(-35)"/><ellipse rx="4.93" ry="1.48" fill="url(#g5)" transform="translate(144.83 270.65) rotate(-60)"/><ellipse rx="4.69" ry="2.22" fill="url(#g6)" transform="translate(248.51 76.67) rotate(-35)"/><ellipse rx="4.32" ry="1.73" fill="url(#g6)" transform="translate(260.68 116.44) rotate(-35)"/><ellipse cx="243.37" cy="121.12" rx="2.71" ry="1.97" fill="url(#g6)"/><ellipse cx="236.82" cy="132.35" rx="2.47" ry="2.22" fill="url(#g6)"/><ellipse rx="2.47" ry="1.85" fill="url(#g6)" transform="translate(90.09 165.57) rotate(-20)"/><ellipse rx="3.45" ry="2.71" fill="url(#g6)" transform="translate(62.49 217.5) rotate(-60)"/><ellipse rx="3.45" ry="2.22" fill="url(#g6)" transform="translate(135.2 245.39) rotate(70)"/><ellipse rx="3.08" ry="1.85" fill="url(#g8)" transform="translate(45.18 64.51) rotate(-50)"/><ellipse rx="3.08" ry="2.22" fill="url(#g8)" transform="translate(244.3 60.3) rotate(30)"/><ellipse rx="3.7" ry="2.47" fill="url(#g8)" transform="translate(202.19 98.38) rotate(30)"/><ellipse rx="3.7" ry="1.85" fill="url(#g8)" transform="translate(118.63 273.46) rotate(-10)"/><ellipse rx="4.93" ry="1.85" fill="url(#g8)" transform="translate(173.65 156.96) rotate(-35)"/><ellipse rx="5.55" ry="2.71" fill="url(#g8)" transform="translate(261.61 161.64) rotate(80)"/><ellipse rx="4.32" ry="2.71" fill="url(#g9)" transform="translate(123.03 64.79) rotate(-20)"/><ellipse rx="6.16" ry="3.7" fill="url(#g9)" transform="translate(124.25 103.62) rotate(-15)"/><ellipse rx="4.32" ry="3.08" fill="url(#g9)" transform="translate(37.69 117.19) rotate(10)"/><ellipse rx="4.93" ry="3.45" fill="url(#g9)" transform="translate(31.14 130.67) rotate(70)"/><ellipse rx="3.7" ry="2.47" fill="url(#g9)" transform="translate(21.32 145.45) rotate(20)"/><ellipse rx="4.93" ry="3.7" fill="url(#g9)" transform="translate(150.26 53.28) rotate(40)"/><ellipse rx="6.78" ry="2.71" fill="url(#g9)" transform="translate(202.94 83.41) rotate(-20)"/><ellipse rx="4.93" ry="4.32" fill="url(#g9)" transform="translate(175.53 115.04) rotate(60)"/><ellipse rx="3.7" ry="3.08" fill="url(#g9)" transform="translate(93.65 151.07) rotate(30)"/><ellipse cx="108.81" cy="146.67" rx="3.7" ry="2.47" fill="url(#g9)"/><ellipse cx="234.01" cy="179.42" rx="3.7" ry="2.71" fill="url(#g9)"/><ellipse cx="235.41" cy="226.49" rx="3.95" ry="3.08" fill="url(#g9)"/><ellipse rx="4.32" ry="3.7" fill="url(#g9)" transform="translate(168.98 240.24) rotate(-20)"/><ellipse cx="145.58" cy="166.32" rx="4.36" ry="4.36" fill="url(#g10)"/><ellipse rx="3.77" ry="3.14" fill="url(#g11)" transform="translate(131.27 23.99) rotate(30)"/><ellipse rx="6.03" ry="3.14" fill="url(#g11)" transform="translate(121.44 34.38) rotate(30)"/><ellipse cx="145.02" cy="37.56" rx="3.77" ry="3.77" fill="url(#g11)"/><ellipse cx="55.19" cy="116.44" rx="2.76" ry="5.02" fill="url(#g11)"/><ellipse rx="4.77" ry="3.77" fill="url(#g11)" transform="translate(48.73 132.35) rotate(-10)"/><ellipse rx="6.91" ry="2.76" fill="url(#g11)" transform="translate(224.65 52.81) rotate(70)"/><ellipse rx="8.16" ry="3.77" fill="url(#g11)" transform="translate(177.87 124.87) rotate(-35)"/><ellipse rx="7.53" ry="4.4" fill="url(#g11)" transform="translate(185.82 143.11) rotate(85)"/><ellipse rx="5.02" ry="3.52" fill="url(#g11)" transform="translate(128.27 226.02) rotate(25)"/><ellipse cx="107.87" cy="236.5" rx="4.4" ry="4.02" fill="url(#g11)"/><ellipse rx="5.27" ry="3.52" fill="url(#g11)" transform="translate(153.72 150.69) rotate(5)"/><ellipse rx="6.03" ry="4.4" fill="url(#g11)" transform="translate(218.57 189.06) rotate(85)"/><ellipse cx="221.66" cy="237.44" rx="4.02" ry="3.52" fill="url(#g11)"/><ellipse rx="7.53" ry="1.76" fill="url(#g11)" transform="translate(142.31 270.65) rotate(-55)"/><ellipse rx="5.11" ry="3.58" fill="url(#g13)" transform="translate(102.54 35.31) rotate(40)"/><ellipse rx="7.1" ry="2.84" fill="url(#g13)" transform="translate(40.03 162.11) rotate(15)"/><ellipse cx="76.52" cy="176.14" rx="4.9" ry="4.13" fill="url(#g13)"/><ellipse rx="7.22" ry="3.94" fill="url(#g14)" transform="translate(64.83 48.13) rotate(80)"/><ellipse rx="5.51" ry="3.68" fill="url(#g14)" transform="translate(90.56 48.13) rotate(25)"/><ellipse rx="5.25" ry="3.68" fill="url(#g14)" transform="translate(127.71 50.94) rotate(-10)"/><ellipse rx="7.88" ry="4.99" fill="url(#g14)" transform="translate(134.07 93.8) rotate(-10)"/><ellipse cx="145.02" cy="111.86" rx="4.59" ry="5.25" fill="url(#g14)"/><ellipse rx="7.22" ry="3.68" fill="url(#g14)" transform="translate(157.28 83.69) rotate(35)"/><ellipse rx="4.59" ry="3.28" fill="url(#g14)" transform="translate(259.28 82.1) rotate(30)"/><ellipse rx="5.25" ry="3.28" fill="url(#g14)" transform="translate(249.73 108.02) rotate(5)"/><ellipse rx="5.25" ry="3.68" fill="url(#g14)" transform="translate(98.33 193.74) rotate(15)"/><ellipse rx="7.88" ry="1.97" fill="url(#g14)" transform="translate(186.75 213.57) rotate(50)"/><ellipse rx="4.99" ry="4.59" fill="url(#g14)" transform="translate(156.53 211.42) rotate(90)"/><ellipse rx="5.61" ry="4.01" fill="url(#g15)" transform="translate(61.08 81.17) rotate(30)"/><ellipse rx="5.34" ry="4.67" fill="url(#g15)" transform="translate(68.1 122.53) rotate(20)"/><ellipse cx="152.13" cy="17.25" rx="4.67" ry="4.67" fill="url(#g15)"/><ellipse cx="80.27" cy="214.98" rx="6.01" ry="4.27" fill="url(#g15)"/><ellipse rx="6.68" ry="3.74" fill="url(#g15)" transform="translate(123.31 239.03) rotate(-20)"/><ellipse rx="10.69" ry="2.4" fill="url(#g15)" transform="translate(180.67 192.52) rotate(50)"/><ellipse rx="6.16" ry="3.84" fill="url(#g16)" transform="translate(51.26 230.42) rotate(-70)"/><ellipse rx="6.85" ry="6.16" fill="url(#g16)" transform="translate(187.22 149.01) rotate(60)"/><ellipse rx="5.57" ry="6.27" fill="url(#g17)" transform="translate(55.47 110.83) rotate(90)"/><ellipse rx="5.29" ry="4.87" fill="url(#g17)" transform="translate(249.45 90.06) rotate(90)"/><ellipse rx="5.85" ry="3.9" fill="url(#g17)" transform="translate(120.32 195.14) rotate(10)"/><ellipse rx="6.96" ry="4.87" fill="url(#g17)" transform="translate(182.08 208.43) rotate(20)"/><ellipse rx="9.05" ry="5.29" fill="url(#g17)" transform="translate(200.51 242.11) rotate(30)"/><ellipse rx="8.28" ry="4.99" fill="url(#g19)" transform="translate(126.12 81.54) rotate(-25)"/><ellipse rx="9.28" ry="4.99" fill="url(#g19)" transform="translate(170.57 70.12) rotate(80)"/><ellipse rx="9.7" ry="4" fill="url(#g19)" transform="translate(72.31 158.55) rotate(-25)"/><ellipse rx="7.85" ry="6.42" fill="url(#g19)" transform="translate(142.03 185.5) rotate(20)"/><ellipse rx="7.14" ry="3.57" fill="url(#g19)" transform="translate(145.3 258.49) rotate(90)"/><ellipse rx="4.99" ry="4" fill="url(#g19)" transform="translate(200.32 207.49) rotate(25)"/><ellipse rx="5.42" ry="4.57" fill="url(#g19)" transform="translate(159.15 225.93) rotate(15)"/><ellipse rx="10.7" ry="4.28" fill="url(#g20)" transform="translate(48.45 164.45) rotate(22)"/><ellipse rx="7.85" ry="4" fill="url(#g20)" transform="translate(234.95 207.96) rotate(-10)"/><ellipse rx="12.13" ry="5.99" fill="url(#g20)" transform="translate(255.06 212.17) rotate(-45)"/><ellipse rx="5.99" ry="5.42" fill="url(#g21)" transform="translate(98.33 123.18) rotate(10)"/><ellipse rx="6.42" ry="4.99" fill="url(#g21)" transform="translate(78.4 135.16) rotate(80)"/><ellipse rx="4.99" ry="3.57" fill="url(#g21)" transform="translate(138.28 275.8) rotate(-20)"/><ellipse rx="7.14" ry="5.71" fill="url(#g21)" transform="translate(193.31 178.48) rotate(60)"/><ellipse rx="6.42" ry="4.99" fill="url(#g21)" transform="translate(184.88 197.2) rotate(70)"/><ellipse rx="7.14" ry="3.57" fill="url(#g21)" transform="translate(146.99 257.55) rotate(-50)"/><ellipse rx="10.27" ry="4.99" fill="url(#g23)" transform="translate(77.93 95.86) rotate(-22)"/><ellipse rx="5.71" ry="5.42" fill="url(#g23)" transform="translate(176.46 187.84) rotate(40)"/><ellipse rx="8.56" ry="4.99" fill="url(#g23)" transform="translate(153.07 252.87) rotate(-25)"/><ellipse rx="6.42" ry="5.99" fill="url(#g23)" transform="translate(41.9 86.97) rotate(-30)"/><ellipse rx="9.99" ry="4.28" fill="url(#g23)" transform="translate(192.37 220.12) rotate(50)"/><ellipse rx="7.85" ry="4.99" fill="url(#g23)" transform="translate(223.72 208.71) rotate(25)"/><ellipse rx="8.56" ry="5.42" fill="url(#g24)" transform="translate(24.12 150.41) rotate(50)"/><ellipse rx="8.56" ry="6.42" fill="url(#g24)" transform="translate(69.32 230.42) rotate(80)"/><ellipse rx="7.14" ry="4.28" fill="url(#g24)" transform="translate(180.39 230.88) rotate(85)"/><ellipse rx="5.99" ry="5.42" fill="url(#g24)" transform="translate(196.11 161.36) rotate(-20)"/><ellipse cx="24.59" cy="100.54" rx="4.99" ry="4.28" fill="url(#g25)"/><ellipse rx="7.85" ry="4.99" fill="url(#g25)" transform="translate(222.31 143.58) rotate(75)"/><ellipse cx="120.97" cy="181.95" rx="8.85" ry="5.42" fill="url(#g25)"/><ellipse rx="10.7" ry="4.99" fill="url(#g25)" transform="translate(209.21 174.09) rotate(-18)"/><ellipse rx="6.85" ry="5.99" fill="url(#g25)" transform="translate(161.49 179.61) rotate(-15)"/><ellipse rx="6.42" ry="5.42" fill="url(#g25)" transform="translate(246.92 192.52) rotate(80)"/><ellipse rx="12.84" ry="4.99" fill="url(#g26)" transform="translate(89.62 67.78) rotate(55)"/><ellipse cx="109.74" cy="256.62" rx="6.42" ry="6.42" fill="url(#g26)"/><ellipse rx="7.14" ry="5.99" fill="url(#g27)" transform="translate(182.26 49.26) rotate(25)"/><ellipse rx="5.99" ry="5.42" fill="url(#g27)" transform="translate(124.43 209.83) rotate(-10)"/><ellipse cx="172.53" cy="272.71" rx="5.71" ry="4.99" fill="url(#g27)"/><ellipse rx="8.56" ry="6.42" fill="url(#g27)" transform="translate(106 140.3) rotate(75)"/><ellipse cx="222.31" cy="64.98" rx="7.14" ry="7.14" fill="url(#g27)"/><ellipse rx="6.42" ry="5.42" fill="url(#g27)" transform="translate(263.02 97.92) rotate(-15)"/><ellipse rx="10.7" ry="6.42" fill="url(#g27)" transform="translate(216.23 104.28) rotate(-12)"/><ellipse cx="226.06" cy="119.25" rx="5.99" ry="5.99" fill="url(#g28)"/><ellipse cx="212.21" cy="223.12" rx="6.85" ry="6.85" fill="url(#g29)"/><ellipse rx="7.42" ry="6.42" fill="url(#g30)" transform="translate(42.84 211.7) rotate(80)"/><ellipse rx="7.85" ry="5.99" fill="url(#g31)" transform="translate(62.96 145.92) rotate(70)"/><ellipse rx="8.28" ry="6.42" fill="url(#g32)" transform="translate(140.15 204.68) rotate(75)"/><ellipse cx="191.43" cy="265.98" rx="6.85" ry="7.14" fill="url(#g33)"/>
<ellipse rx="6.83" ry="3.17" fill="url(#g14)" transform="translate(140.5 134) rotate(56)"/>
</g>
<rect x="0" y="0" width="290.8" height="290.3" fill="none" stroke="#404040" stroke-width="1.15"/>
<path d="M0.48 290.3v3.9M0 289.81h-3.9M48.95 290.3v3.9M0 241.43h-3.9M97.42 290.3v3.9M0 193.05h-3.9M145.89 290.3v3.9M0 144.66h-3.9M194.35 290.3v3.9M0 96.28h-3.9M242.82 290.3v3.9M0 47.9h-3.9" stroke="#404040" stroke-width="1.05" fill="none"/>
<g font-size="10.4" text-anchor="middle">
<text x="0.48" y="306.9">0</text>
<text x="48.95" y="306.9">50</text>
<text x="97.42" y="306.9">100</text>
<text x="145.89" y="306.9">150</text>
<text x="194.35" y="306.9">200</text>
<text x="242.82" y="306.9">250</text>
</g>
<g font-size="10.4" text-anchor="end">
<text x="-9.1" y="293.71">0</text>
<text x="-9.1" y="245.33">50</text>
<text x="-9.1" y="196.95">100</text>
<text x="-9.1" y="148.56">150</text>
<text x="-9.1" y="100.18">200</text>
<text x="-9.1" y="51.8">250</text>
</g>
<text x="144.8" y="327.1" font-size="17.6" text-anchor="middle">arcsec</text>
<text font-size="17.6" text-anchor="middle" transform="translate(-36.7 146.05) rotate(-90)">arcsec</text>
<text x="145.4" y="-8.9" font-size="18.1" text-anchor="middle" letter-spacing="0.23">BH mass<tspan dx="4.6">∼</tspan><tspan dx="3.5">6</tspan><tspan font-style="italic">X</tspan>10<tspan font-size="12.67" dy="-6.6" dx="-0.6">9</tspan><tspan font-style="italic" dy="6.6" dx="1.2">M</tspan><tspan font-size="12.67" dy="2.9" dx="1.3">⊙</tspan><tspan dy="-2.9">, z=0.9927</tspan></text>
<rect x="310.65" y="0" width="14" height="290.3" fill="url(#cbar)" stroke="#161616" stroke-width="0.95"/>
<path d="M325.05 258.35h3.9M325.05 213.1h3.9M325.05 167.85h3.9M325.05 122.6h3.9M325.05 77.35h3.9M325.05 32.1h3.9" stroke="#404040" stroke-width="1.05" fill="none"/>
<g font-size="13">
<text x="332.55" y="263.25">30</text>
<text x="332.55" y="218">40</text>
<text x="332.55" y="172.75">50</text>
<text x="332.55" y="127.5">60</text>
<text x="332.55" y="82.25">70</text>
<text x="332.55" y="37">80</text>
</g>
<text font-size="15.4" text-anchor="middle" transform="translate(366.25 144.25) rotate(-90)">Flux in <tspan font-style="italic">μ</tspan>Jy/beam</text>
</g>
<g transform="translate(1732.29 100.85)">
<g clip-path="url(#cc)">
<circle cx="147.05" cy="146.1" r="132.2" fill="#11006c"/>
<ellipse cx="232.61" cy="83.22" rx="1.48" ry="1.48" fill="url(#g2)"/><ellipse cx="41.43" cy="192.52" rx="1.48" ry="1.48" fill="url(#g2)"/><ellipse rx="1.85" ry="1.48" fill="url(#g2)" transform="translate(166.82 199.54) rotate(40)"/><ellipse rx="3.08" ry="1.48" fill="url(#g3)" transform="translate(203.13 144.05) rotate(80)"/><ellipse rx="3.45" ry="1.73" fill="url(#g4)" transform="translate(76.99 57.02) rotate(10)"/><ellipse rx="3.08" ry="2.22" fill="url(#g4)" transform="translate(72.97 71.25) rotate(40)"/><ellipse cx="117.7" cy="104" rx="6.16" ry="1.48" fill="url(#g4)"/><ellipse cx="267.7" cy="131.42" rx="2.22" ry="2.22" fill="url(#g4)"/><ellipse cx="158.68" cy="136.09" rx="1.85" ry="1.85" fill="url(#g4)"/><ellipse cx="117.51" cy="165.85" rx="2.71" ry="1.97" fill="url(#g4)"/><ellipse rx="3.7" ry="1.48" fill="url(#g4)" transform="translate(146.99 180.82) rotate(-60)"/><ellipse rx="4.93" ry="1.48" fill="url(#g4)" transform="translate(199.57 191.3) rotate(30)"/><ellipse rx="3.45" ry="1.85" fill="url(#g4)" transform="translate(261.33 188.31) rotate(90)"/><ellipse cx="209.68" cy="254.75" rx="2.47" ry="2.47" fill="url(#g4)"/><ellipse rx="9.86" ry="1.48" fill="url(#g5)" transform="translate(200.32 32.23) rotate(-33)"/><ellipse rx="8.63" ry="1.48" fill="url(#g5)" transform="translate(188.16 95.86) rotate(-65)"/><ellipse rx="5.55" ry="1.48" fill="url(#g5)" transform="translate(104.6 242.58) rotate(-60)"/><ellipse rx="11.3" ry="1.51" fill="url(#g5)" transform="translate(98.98 264.57) rotate(-35)"/><ellipse rx="4.93" ry="1.48" fill="url(#g5)" transform="translate(144.83 270.65) rotate(-60)"/><ellipse rx="4.69" ry="2.22" fill="url(#g6)" transform="translate(248.51 76.67) rotate(-35)"/><ellipse rx="4.32" ry="1.73" fill="url(#g6)" transform="translate(260.68 116.44) rotate(-35)"/><ellipse cx="243.37" cy="121.12" rx="2.71" ry="1.97" fill="url(#g6)"/><ellipse cx="236.82" cy="132.35" rx="2.47" ry="2.22" fill="url(#g6)"/><ellipse rx="2.47" ry="1.85" fill="url(#g6)" transform="translate(90.09 165.57) rotate(-20)"/><ellipse rx="3.45" ry="2.71" fill="url(#g6)" transform="translate(62.49 217.5) rotate(-60)"/><ellipse rx="3.45" ry="2.22" fill="url(#g6)" transform="translate(135.2 245.39) rotate(70)"/><ellipse rx="3.08" ry="1.85" fill="url(#g8)" transform="translate(45.18 64.51) rotate(-50)"/><ellipse rx="3.08" ry="2.22" fill="url(#g8)" transform="translate(244.3 60.3) rotate(30)"/><ellipse rx="3.7" ry="2.47" fill="url(#g8)" transform="translate(202.19 98.38) rotate(30)"/><ellipse rx="3.7" ry="1.85" fill="url(#g8)" transform="translate(118.63 273.46) rotate(-10)"/><ellipse rx="4.93" ry="1.85" fill="url(#g8)" transform="translate(173.65 156.96) rotate(-35)"/><ellipse rx="5.55" ry="2.71" fill="url(#g8)" transform="translate(261.61 161.64) rotate(80)"/><ellipse rx="4.32" ry="2.71" fill="url(#g9)" transform="translate(123.03 64.79) rotate(-20)"/><ellipse rx="6.16" ry="3.7" fill="url(#g9)" transform="translate(124.25 103.62) rotate(-15)"/><ellipse rx="4.32" ry="3.08" fill="url(#g9)" transform="translate(37.69 117.19) rotate(10)"/><ellipse rx="4.93" ry="3.45" fill="url(#g9)" transform="translate(31.14 130.67) rotate(70)"/><ellipse rx="3.7" ry="2.47" fill="url(#g9)" transform="translate(21.32 145.45) rotate(20)"/><ellipse rx="4.93" ry="3.7" fill="url(#g9)" transform="translate(150.26 53.28) rotate(40)"/><ellipse rx="6.78" ry="2.71" fill="url(#g9)" transform="translate(202.94 83.41) rotate(-20)"/><ellipse rx="4.93" ry="4.32" fill="url(#g9)" transform="translate(175.53 115.04) rotate(60)"/><ellipse rx="3.7" ry="3.08" fill="url(#g9)" transform="translate(93.65 151.07) rotate(30)"/><ellipse cx="108.81" cy="146.67" rx="3.7" ry="2.47" fill="url(#g9)"/><ellipse cx="234.01" cy="179.42" rx="3.7" ry="2.71" fill="url(#g9)"/><ellipse cx="235.41" cy="226.49" rx="3.95" ry="3.08" fill="url(#g9)"/><ellipse rx="4.32" ry="3.7" fill="url(#g9)" transform="translate(168.98 240.24) rotate(-20)"/><ellipse cx="145.58" cy="166.32" rx="4.36" ry="4.36" fill="url(#g10)"/><ellipse rx="3.77" ry="3.14" fill="url(#g11)" transform="translate(131.27 23.99) rotate(30)"/><ellipse rx="6.03" ry="3.14" fill="url(#g11)" transform="translate(121.44 34.38) rotate(30)"/><ellipse cx="145.02" cy="37.56" rx="3.77" ry="3.77" fill="url(#g11)"/><ellipse cx="55.19" cy="116.44" rx="2.76" ry="5.02" fill="url(#g11)"/><ellipse rx="4.77" ry="3.77" fill="url(#g11)" transform="translate(48.73 132.35) rotate(-10)"/><ellipse rx="6.91" ry="2.76" fill="url(#g11)" transform="translate(224.65 52.81) rotate(70)"/><ellipse rx="8.16" ry="3.77" fill="url(#g11)" transform="translate(177.87 124.87) rotate(-35)"/><ellipse rx="7.53" ry="4.4" fill="url(#g11)" transform="translate(185.82 143.11) rotate(85)"/><ellipse rx="5.02" ry="3.52" fill="url(#g11)" transform="translate(128.27 226.02) rotate(25)"/><ellipse cx="107.87" cy="236.5" rx="4.4" ry="4.02" fill="url(#g11)"/><ellipse rx="5.27" ry="3.52" fill="url(#g11)" transform="translate(153.72 150.69) rotate(5)"/><ellipse rx="6.03" ry="4.4" fill="url(#g11)" transform="translate(218.57 189.06) rotate(85)"/><ellipse cx="221.66" cy="237.44" rx="4.02" ry="3.52" fill="url(#g11)"/><ellipse rx="7.53" ry="1.76" fill="url(#g11)" transform="translate(142.31 270.65) rotate(-55)"/><ellipse rx="5.11" ry="3.58" fill="url(#g13)" transform="translate(102.54 35.31) rotate(40)"/><ellipse rx="7.1" ry="2.84" fill="url(#g13)" transform="translate(40.03 162.11) rotate(15)"/><ellipse cx="76.52" cy="176.14" rx="4.9" ry="4.13" fill="url(#g13)"/><ellipse rx="7.22" ry="3.94" fill="url(#g14)" transform="translate(64.83 48.13) rotate(80)"/><ellipse rx="5.51" ry="3.68" fill="url(#g14)" transform="translate(90.56 48.13) rotate(25)"/><ellipse rx="5.25" ry="3.68" fill="url(#g14)" transform="translate(127.71 50.94) rotate(-10)"/><ellipse rx="7.88" ry="4.99" fill="url(#g14)" transform="translate(134.07 93.8) rotate(-10)"/><ellipse cx="145.02" cy="111.86" rx="4.59" ry="5.25" fill="url(#g14)"/><ellipse rx="7.22" ry="3.68" fill="url(#g14)" transform="translate(157.28 83.69) rotate(35)"/><ellipse rx="4.59" ry="3.28" fill="url(#g14)" transform="translate(259.28 82.1) rotate(30)"/><ellipse rx="5.25" ry="3.28" fill="url(#g14)" transform="translate(249.73 108.02) rotate(5)"/><ellipse rx="5.25" ry="3.68" fill="url(#g14)" transform="translate(98.33 193.74) rotate(15)"/><ellipse rx="7.88" ry="1.97" fill="url(#g14)" transform="translate(186.75 213.57) rotate(50)"/><ellipse rx="4.99" ry="4.59" fill="url(#g14)" transform="translate(156.53 211.42) rotate(90)"/><ellipse rx="5.61" ry="4.01" fill="url(#g15)" transform="translate(61.08 81.17) rotate(30)"/><ellipse rx="5.34" ry="4.67" fill="url(#g15)" transform="translate(68.1 122.53) rotate(20)"/><ellipse cx="152.13" cy="17.25" rx="4.67" ry="4.67" fill="url(#g15)"/><ellipse cx="80.27" cy="214.98" rx="6.01" ry="4.27" fill="url(#g15)"/><ellipse rx="6.68" ry="3.74" fill="url(#g15)" transform="translate(123.31 239.03) rotate(-20)"/><ellipse rx="10.69" ry="2.4" fill="url(#g15)" transform="translate(180.67 192.52) rotate(50)"/><ellipse rx="6.16" ry="3.84" fill="url(#g16)" transform="translate(51.26 230.42) rotate(-70)"/><ellipse rx="6.85" ry="6.16" fill="url(#g16)" transform="translate(187.22 149.01) rotate(60)"/><ellipse rx="5.57" ry="6.27" fill="url(#g17)" transform="translate(55.47 110.83) rotate(90)"/><ellipse rx="5.29" ry="4.87" fill="url(#g17)" transform="translate(249.45 90.06) rotate(90)"/><ellipse rx="5.85" ry="3.9" fill="url(#g17)" transform="translate(120.32 195.14) rotate(10)"/><ellipse rx="6.96" ry="4.87" fill="url(#g17)" transform="translate(182.08 208.43) rotate(20)"/><ellipse rx="9.05" ry="5.29" fill="url(#g17)" transform="translate(200.51 242.11) rotate(30)"/><ellipse rx="8.28" ry="4.99" fill="url(#g19)" transform="translate(126.12 81.54) rotate(-25)"/><ellipse rx="9.28" ry="4.99" fill="url(#g19)" transform="translate(170.57 70.12) rotate(80)"/><ellipse rx="9.7" ry="4" fill="url(#g19)" transform="translate(72.31 158.55) rotate(-25)"/><ellipse rx="7.85" ry="6.42" fill="url(#g19)" transform="translate(142.03 185.5) rotate(20)"/><ellipse rx="7.14" ry="3.57" fill="url(#g19)" transform="translate(145.3 258.49) rotate(90)"/><ellipse rx="4.99" ry="4" fill="url(#g19)" transform="translate(200.32 207.49) rotate(25)"/><ellipse rx="5.42" ry="4.57" fill="url(#g19)" transform="translate(159.15 225.93) rotate(15)"/><ellipse rx="10.7" ry="4.28" fill="url(#g20)" transform="translate(48.45 164.45) rotate(22)"/><ellipse rx="7.85" ry="4" fill="url(#g20)" transform="translate(234.95 207.96) rotate(-10)"/><ellipse rx="12.13" ry="5.99" fill="url(#g20)" transform="translate(255.06 212.17) rotate(-45)"/><ellipse rx="5.99" ry="5.42" fill="url(#g21)" transform="translate(98.33 123.18) rotate(10)"/><ellipse rx="6.42" ry="4.99" fill="url(#g21)" transform="translate(78.4 135.16) rotate(80)"/><ellipse rx="4.99" ry="3.57" fill="url(#g21)" transform="translate(138.28 275.8) rotate(-20)"/><ellipse rx="7.14" ry="5.71" fill="url(#g21)" transform="translate(193.31 178.48) rotate(60)"/><ellipse rx="6.42" ry="4.99" fill="url(#g21)" transform="translate(184.88 197.2) rotate(70)"/><ellipse rx="7.14" ry="3.57" fill="url(#g21)" transform="translate(146.99 257.55) rotate(-50)"/><ellipse rx="10.27" ry="4.99" fill="url(#g23)" transform="translate(77.93 95.86) rotate(-22)"/><ellipse rx="5.71" ry="5.42" fill="url(#g23)" transform="translate(176.46 187.84) rotate(40)"/><ellipse rx="8.56" ry="4.99" fill="url(#g23)" transform="translate(153.07 252.87) rotate(-25)"/><ellipse rx="6.42" ry="5.99" fill="url(#g23)" transform="translate(41.9 86.97) rotate(-30)"/><ellipse rx="9.99" ry="4.28" fill="url(#g23)" transform="translate(192.37 220.12) rotate(50)"/><ellipse rx="7.85" ry="4.99" fill="url(#g23)" transform="translate(223.72 208.71) rotate(25)"/><ellipse rx="8.56" ry="5.42" fill="url(#g24)" transform="translate(24.12 150.41) rotate(50)"/><ellipse rx="8.56" ry="6.42" fill="url(#g24)" transform="translate(69.32 230.42) rotate(80)"/><ellipse rx="7.14" ry="4.28" fill="url(#g24)" transform="translate(180.39 230.88) rotate(85)"/><ellipse rx="5.99" ry="5.42" fill="url(#g24)" transform="translate(196.11 161.36) rotate(-20)"/><ellipse cx="24.59" cy="100.54" rx="4.99" ry="4.28" fill="url(#g25)"/><ellipse rx="7.85" ry="4.99" fill="url(#g25)" transform="translate(222.31 143.58) rotate(75)"/><ellipse cx="120.97" cy="181.95" rx="8.85" ry="5.42" fill="url(#g25)"/><ellipse rx="10.7" ry="4.99" fill="url(#g25)" transform="translate(209.21 174.09) rotate(-18)"/><ellipse rx="6.85" ry="5.99" fill="url(#g25)" transform="translate(161.49 179.61) rotate(-15)"/><ellipse rx="6.42" ry="5.42" fill="url(#g25)" transform="translate(246.92 192.52) rotate(80)"/><ellipse rx="12.84" ry="4.99" fill="url(#g26)" transform="translate(89.62 67.78) rotate(55)"/><ellipse cx="109.74" cy="256.62" rx="6.42" ry="6.42" fill="url(#g26)"/><ellipse rx="7.14" ry="5.99" fill="url(#g27)" transform="translate(182.26 49.26) rotate(25)"/><ellipse rx="5.99" ry="5.42" fill="url(#g27)" transform="translate(124.43 209.83) rotate(-10)"/><ellipse cx="172.53" cy="272.71" rx="5.71" ry="4.99" fill="url(#g27)"/><ellipse rx="8.56" ry="6.42" fill="url(#g27)" transform="translate(106 140.3) rotate(75)"/><ellipse cx="222.31" cy="64.98" rx="7.14" ry="7.14" fill="url(#g27)"/><ellipse rx="6.42" ry="5.42" fill="url(#g27)" transform="translate(263.02 97.92) rotate(-15)"/><ellipse rx="10.7" ry="6.42" fill="url(#g27)" transform="translate(216.23 104.28) rotate(-12)"/><ellipse cx="226.06" cy="119.25" rx="5.99" ry="5.99" fill="url(#g28)"/><ellipse cx="212.21" cy="223.12" rx="6.85" ry="6.85" fill="url(#g29)"/><ellipse rx="7.42" ry="6.42" fill="url(#g30)" transform="translate(42.84 211.7) rotate(80)"/><ellipse rx="7.85" ry="5.99" fill="url(#g31)" transform="translate(62.96 145.92) rotate(70)"/><ellipse rx="8.28" ry="6.42" fill="url(#g32)" transform="translate(140.15 204.68) rotate(75)"/><ellipse cx="191.43" cy="265.98" rx="6.85" ry="7.14" fill="url(#g33)"/>
<ellipse rx="6.83" ry="3.17" fill="url(#g14)" transform="translate(140.5 134) rotate(56)"/>
</g>
<rect x="0" y="0" width="290.8" height="290.3" fill="none" stroke="#404040" stroke-width="1.15"/>
<path d="M0.48 290.3v3.9M0 289.81h-3.9M48.95 290.3v3.9M0 241.43h-3.9M97.42 290.3v3.9M0 193.05h-3.9M145.89 290.3v3.9M0 144.66h-3.9M194.35 290.3v3.9M0 96.28h-3.9M242.82 290.3v3.9M0 47.9h-3.9" stroke="#404040" stroke-width="1.05" fill="none"/>
<g font-size="10.4" text-anchor="middle">
<text x="0.48" y="306.9">0</text>
<text x="48.95" y="306.9">50</text>
<text x="97.42" y="306.9">100</text>
<text x="145.89" y="306.9">150</text>
<text x="194.35" y="306.9">200</text>
<text x="242.82" y="306.9">250</text>
</g>
<g font-size="10.4" text-anchor="end">
<text x="-9.1" y="293.71">0</text>
<text x="-9.1" y="245.33">50</text>
<text x="-9.1" y="196.95">100</text>
<text x="-9.1" y="148.56">150</text>
<text x="-9.1" y="100.18">200</text>
<text x="-9.1" y="51.8">250</text>
</g>
<text x="144.8" y="327.1" font-size="17.6" text-anchor="middle">arcsec</text>
<text font-size="17.6" text-anchor="middle" transform="translate(-36.7 146.05) rotate(-90)">arcsec</text>
<text x="145.4" y="-8.9" font-size="18.1" text-anchor="middle" letter-spacing="0.23">BH mass<tspan dx="4.6">∼</tspan><tspan dx="3.5">6</tspan><tspan font-style="italic">X</tspan>10<tspan font-size="12.67" dy="-6.6" dx="-0.6">9</tspan><tspan font-style="italic" dy="6.6" dx="1.2">M</tspan><tspan font-size="12.67" dy="2.9" dx="1.3">⊙</tspan><tspan dy="-2.9">, z=0.9927</tspan></text>
<rect x="310.65" y="0" width="14" height="290.3" fill="url(#cbar)" stroke="#161616" stroke-width="0.95"/>
<path d="M325.05 258.35h3.9M325.05 213.1h3.9M325.05 167.85h3.9M325.05 122.6h3.9M325.05 77.35h3.9M325.05 32.1h3.9" stroke="#404040" stroke-width="1.05" fill="none"/>
<g font-size="13">
<text x="332.55" y="263.25">30</text>
<text x="332.55" y="218">40</text>
<text x="332.55" y="172.75">50</text>
<text x="332.55" y="127.5">60</text>
<text x="332.55" y="82.25">70</text>
<text x="332.55" y="37">80</text>
</g>
<text font-size="15.4" text-anchor="middle" transform="translate(366.25 144.25) rotate(-90)">Flux in <tspan font-style="italic">μ</tspan>Jy/beam</text>
</g>
<g transform="translate(103.95 491.8)">
<g clip-path="url(#cc)">
<circle cx="147.05" cy="146.1" r="132.2" fill="#11006c"/>
<ellipse cx="232.61" cy="83.22" rx="1.48" ry="1.48" fill="url(#g2)"/><ellipse cx="41.43" cy="192.52" rx="1.48" ry="1.48" fill="url(#g2)"/><ellipse rx="1.85" ry="1.48" fill="url(#g2)" transform="translate(166.82 199.54) rotate(40)"/><ellipse rx="3.08" ry="1.48" fill="url(#g3)" transform="translate(203.13 144.05) rotate(80)"/><ellipse rx="3.45" ry="1.73" fill="url(#g4)" transform="translate(76.99 57.02) rotate(10)"/><ellipse rx="3.08" ry="2.22" fill="url(#g4)" transform="translate(72.97 71.25) rotate(40)"/><ellipse cx="117.7" cy="104" rx="6.16" ry="1.48" fill="url(#g4)"/><ellipse cx="267.7" cy="131.42" rx="2.22" ry="2.22" fill="url(#g4)"/><ellipse cx="158.68" cy="136.09" rx="1.85" ry="1.85" fill="url(#g4)"/><ellipse cx="117.51" cy="165.85" rx="2.71" ry="1.97" fill="url(#g4)"/><ellipse rx="3.7" ry="1.48" fill="url(#g4)" transform="translate(146.99 180.82) rotate(-60)"/><ellipse rx="4.93" ry="1.48" fill="url(#g4)" transform="translate(199.57 191.3) rotate(30)"/><ellipse rx="3.45" ry="1.85" fill="url(#g4)" transform="translate(261.33 188.31) rotate(90)"/><ellipse cx="209.68" cy="254.75" rx="2.47" ry="2.47" fill="url(#g4)"/><ellipse rx="9.86" ry="1.48" fill="url(#g5)" transform="translate(200.32 32.23) rotate(-33)"/><ellipse rx="8.63" ry="1.48" fill="url(#g5)" transform="translate(188.16 95.86) rotate(-65)"/><ellipse rx="5.55" ry="1.48" fill="url(#g5)" transform="translate(104.6 242.58) rotate(-60)"/><ellipse rx="11.3" ry="1.51" fill="url(#g5)" transform="translate(98.98 264.57) rotate(-35)"/><ellipse rx="4.93" ry="1.48" fill="url(#g5)" transform="translate(144.83 270.65) rotate(-60)"/><ellipse rx="4.69" ry="2.22" fill="url(#g6)" transform="translate(248.51 76.67) rotate(-35)"/><ellipse rx="4.32" ry="1.73" fill="url(#g6)" transform="translate(260.68 116.44) rotate(-35)"/><ellipse cx="243.37" cy="121.12" rx="2.71" ry="1.97" fill="url(#g6)"/><ellipse cx="236.82" cy="132.35" rx="2.47" ry="2.22" fill="url(#g6)"/><ellipse rx="2.47" ry="1.85" fill="url(#g6)" transform="translate(90.09 165.57) rotate(-20)"/><ellipse rx="3.45" ry="2.71" fill="url(#g6)" transform="translate(62.49 217.5) rotate(-60)"/><ellipse rx="3.45" ry="2.22" fill="url(#g6)" transform="translate(135.2 245.39) rotate(70)"/><ellipse rx="3.08" ry="1.85" fill="url(#g8)" transform="translate(45.18 64.51) rotate(-50)"/><ellipse rx="3.08" ry="2.22" fill="url(#g8)" transform="translate(244.3 60.3) rotate(30)"/><ellipse rx="3.7" ry="2.47" fill="url(#g8)" transform="translate(202.19 98.38) rotate(30)"/><ellipse rx="3.7" ry="1.85" fill="url(#g8)" transform="translate(118.63 273.46) rotate(-10)"/><ellipse rx="4.93" ry="1.85" fill="url(#g8)" transform="translate(173.65 156.96) rotate(-35)"/><ellipse rx="5.55" ry="2.71" fill="url(#g8)" transform="translate(261.61 161.64) rotate(80)"/><ellipse rx="4.32" ry="2.71" fill="url(#g9)" transform="translate(123.03 64.79) rotate(-20)"/><ellipse rx="6.16" ry="3.7" fill="url(#g9)" transform="translate(124.25 103.62) rotate(-15)"/><ellipse rx="4.32" ry="3.08" fill="url(#g9)" transform="translate(37.69 117.19) rotate(10)"/><ellipse rx="4.93" ry="3.45" fill="url(#g9)" transform="translate(31.14 130.67) rotate(70)"/><ellipse rx="3.7" ry="2.47" fill="url(#g9)" transform="translate(21.32 145.45) rotate(20)"/><ellipse rx="4.93" ry="3.7" fill="url(#g9)" transform="translate(150.26 53.28) rotate(40)"/><ellipse rx="6.78" ry="2.71" fill="url(#g9)" transform="translate(202.94 83.41) rotate(-20)"/><ellipse rx="4.93" ry="4.32" fill="url(#g9)" transform="translate(175.53 115.04) rotate(60)"/><ellipse rx="3.7" ry="3.08" fill="url(#g9)" transform="translate(93.65 151.07) rotate(30)"/><ellipse cx="108.81" cy="146.67" rx="3.7" ry="2.47" fill="url(#g9)"/><ellipse cx="234.01" cy="179.42" rx="3.7" ry="2.71" fill="url(#g9)"/><ellipse cx="235.41" cy="226.49" rx="3.95" ry="3.08" fill="url(#g9)"/><ellipse rx="4.32" ry="3.7" fill="url(#g9)" transform="translate(168.98 240.24) rotate(-20)"/><ellipse cx="145.58" cy="166.32" rx="4.36" ry="4.36" fill="url(#g10)"/><ellipse rx="3.77" ry="3.14" fill="url(#g11)" transform="translate(131.27 23.99) rotate(30)"/><ellipse rx="6.03" ry="3.14" fill="url(#g11)" transform="translate(121.44 34.38) rotate(30)"/><ellipse cx="145.02" cy="37.56" rx="3.77" ry="3.77" fill="url(#g11)"/><ellipse cx="55.19" cy="116.44" rx="2.76" ry="5.02" fill="url(#g11)"/><ellipse rx="4.77" ry="3.77" fill="url(#g11)" transform="translate(48.73 132.35) rotate(-10)"/><ellipse rx="6.91" ry="2.76" fill="url(#g11)" transform="translate(224.65 52.81) rotate(70)"/><ellipse rx="8.16" ry="3.77" fill="url(#g11)" transform="translate(177.87 124.87) rotate(-35)"/><ellipse rx="7.53" ry="4.4" fill="url(#g11)" transform="translate(185.82 143.11) rotate(85)"/><ellipse rx="5.02" ry="3.52" fill="url(#g11)" transform="translate(128.27 226.02) rotate(25)"/><ellipse cx="107.87" cy="236.5" rx="4.4" ry="4.02" fill="url(#g11)"/><ellipse rx="5.27" ry="3.52" fill="url(#g11)" transform="translate(153.72 150.69) rotate(5)"/><ellipse rx="6.03" ry="4.4" fill="url(#g11)" transform="translate(218.57 189.06) rotate(85)"/><ellipse cx="221.66" cy="237.44" rx="4.02" ry="3.52" fill="url(#g11)"/><ellipse rx="7.53" ry="1.76" fill="url(#g11)" transform="translate(142.31 270.65) rotate(-55)"/><ellipse rx="5.11" ry="3.58" fill="url(#g13)" transform="translate(102.54 35.31) rotate(40)"/><ellipse rx="7.1" ry="2.84" fill="url(#g13)" transform="translate(40.03 162.11) rotate(15)"/><ellipse cx="76.52" cy="176.14" rx="4.9" ry="4.13" fill="url(#g13)"/><ellipse rx="7.22" ry="3.94" fill="url(#g14)" transform="translate(64.83 48.13) rotate(80)"/><ellipse rx="5.51" ry="3.68" fill="url(#g14)" transform="translate(90.56 48.13) rotate(25)"/><ellipse rx="5.25" ry="3.68" fill="url(#g14)" transform="translate(127.71 50.94) rotate(-10)"/><ellipse rx="7.88" ry="4.99" fill="url(#g14)" transform="translate(134.07 93.8) rotate(-10)"/><ellipse cx="145.02" cy="111.86" rx="4.59" ry="5.25" fill="url(#g14)"/><ellipse rx="7.22" ry="3.68" fill="url(#g14)" transform="translate(157.28 83.69) rotate(35)"/><ellipse rx="4.59" ry="3.28" fill="url(#g14)" transform="translate(259.28 82.1) rotate(30)"/><ellipse rx="5.25" ry="3.28" fill="url(#g14)" transform="translate(249.73 108.02) rotate(5)"/><ellipse rx="5.25" ry="3.68" fill="url(#g14)" transform="translate(98.33 193.74) rotate(15)"/><ellipse rx="7.88" ry="1.97" fill="url(#g14)" transform="translate(186.75 213.57) rotate(50)"/><ellipse rx="4.99" ry="4.59" fill="url(#g14)" transform="translate(156.53 211.42) rotate(90)"/><ellipse rx="5.61" ry="4.01" fill="url(#g15)" transform="translate(61.08 81.17) rotate(30)"/><ellipse rx="5.34" ry="4.67" fill="url(#g15)" transform="translate(68.1 122.53) rotate(20)"/><ellipse cx="152.13" cy="17.25" rx="4.67" ry="4.67" fill="url(#g15)"/><ellipse cx="80.27" cy="214.98" rx="6.01" ry="4.27" fill="url(#g15)"/><ellipse rx="6.68" ry="3.74" fill="url(#g15)" transform="translate(123.31 239.03) rotate(-20)"/><ellipse rx="10.69" ry="2.4" fill="url(#g15)" transform="translate(180.67 192.52) rotate(50)"/><ellipse rx="6.16" ry="3.84" fill="url(#g16)" transform="translate(51.26 230.42) rotate(-70)"/><ellipse rx="6.85" ry="6.16" fill="url(#g16)" transform="translate(187.22 149.01) rotate(60)"/><ellipse rx="5.57" ry="6.27" fill="url(#g17)" transform="translate(55.47 110.83) rotate(90)"/><ellipse rx="5.29" ry="4.87" fill="url(#g17)" transform="translate(249.45 90.06) rotate(90)"/><ellipse rx="5.85" ry="3.9" fill="url(#g17)" transform="translate(120.32 195.14) rotate(10)"/><ellipse rx="6.96" ry="4.87" fill="url(#g17)" transform="translate(182.08 208.43) rotate(20)"/><ellipse rx="9.05" ry="5.29" fill="url(#g17)" transform="translate(200.51 242.11) rotate(30)"/><ellipse rx="8.28" ry="4.99" fill="url(#g19)" transform="translate(126.12 81.54) rotate(-25)"/><ellipse rx="9.28" ry="4.99" fill="url(#g19)" transform="translate(170.57 70.12) rotate(80)"/><ellipse rx="9.7" ry="4" fill="url(#g19)" transform="translate(72.31 158.55) rotate(-25)"/><ellipse rx="7.85" ry="6.42" fill="url(#g19)" transform="translate(142.03 185.5) rotate(20)"/><ellipse rx="7.14" ry="3.57" fill="url(#g19)" transform="translate(145.3 258.49) rotate(90)"/><ellipse rx="4.99" ry="4" fill="url(#g19)" transform="translate(200.32 207.49) rotate(25)"/><ellipse rx="5.42" ry="4.57" fill="url(#g19)" transform="translate(159.15 225.93) rotate(15)"/><ellipse rx="10.7" ry="4.28" fill="url(#g20)" transform="translate(48.45 164.45) rotate(22)"/><ellipse rx="7.85" ry="4" fill="url(#g20)" transform="translate(234.95 207.96) rotate(-10)"/><ellipse rx="12.13" ry="5.99" fill="url(#g20)" transform="translate(255.06 212.17) rotate(-45)"/><ellipse rx="5.99" ry="5.42" fill="url(#g21)" transform="translate(98.33 123.18) rotate(10)"/><ellipse rx="6.42" ry="4.99" fill="url(#g21)" transform="translate(78.4 135.16) rotate(80)"/><ellipse rx="4.99" ry="3.57" fill="url(#g21)" transform="translate(138.28 275.8) rotate(-20)"/><ellipse rx="7.14" ry="5.71" fill="url(#g21)" transform="translate(193.31 178.48) rotate(60)"/><ellipse rx="6.42" ry="4.99" fill="url(#g21)" transform="translate(184.88 197.2) rotate(70)"/><ellipse rx="7.14" ry="3.57" fill="url(#g21)" transform="translate(146.99 257.55) rotate(-50)"/><ellipse rx="10.27" ry="4.99" fill="url(#g23)" transform="translate(77.93 95.86) rotate(-22)"/><ellipse rx="5.71" ry="5.42" fill="url(#g23)" transform="translate(176.46 187.84) rotate(40)"/><ellipse rx="8.56" ry="4.99" fill="url(#g23)" transform="translate(153.07 252.87) rotate(-25)"/><ellipse rx="6.42" ry="5.99" fill="url(#g23)" transform="translate(41.9 86.97) rotate(-30)"/><ellipse rx="9.99" ry="4.28" fill="url(#g23)" transform="translate(192.37 220.12) rotate(50)"/><ellipse rx="7.85" ry="4.99" fill="url(#g23)" transform="translate(223.72 208.71) rotate(25)"/><ellipse rx="8.56" ry="5.42" fill="url(#g24)" transform="translate(24.12 150.41) rotate(50)"/><ellipse rx="8.56" ry="6.42" fill="url(#g24)" transform="translate(69.32 230.42) rotate(80)"/><ellipse rx="7.14" ry="4.28" fill="url(#g24)" transform="translate(180.39 230.88) rotate(85)"/><ellipse rx="5.99" ry="5.42" fill="url(#g24)" transform="translate(196.11 161.36) rotate(-20)"/><ellipse cx="24.59" cy="100.54" rx="4.99" ry="4.28" fill="url(#g25)"/><ellipse rx="7.85" ry="4.99" fill="url(#g25)" transform="translate(222.31 143.58) rotate(75)"/><ellipse cx="120.97" cy="181.95" rx="8.85" ry="5.42" fill="url(#g25)"/><ellipse rx="10.7" ry="4.99" fill="url(#g25)" transform="translate(209.21 174.09) rotate(-18)"/><ellipse rx="6.85" ry="5.99" fill="url(#g25)" transform="translate(161.49 179.61) rotate(-15)"/><ellipse rx="6.42" ry="5.42" fill="url(#g25)" transform="translate(246.92 192.52) rotate(80)"/><ellipse rx="12.84" ry="4.99" fill="url(#g26)" transform="translate(89.62 67.78) rotate(55)"/><ellipse cx="109.74" cy="256.62" rx="6.42" ry="6.42" fill="url(#g26)"/><ellipse rx="7.14" ry="5.99" fill="url(#g27)" transform="translate(182.26 49.26) rotate(25)"/><ellipse rx="5.99" ry="5.42" fill="url(#g27)" transform="translate(124.43 209.83) rotate(-10)"/><ellipse cx="172.53" cy="272.71" rx="5.71" ry="4.99" fill="url(#g27)"/><ellipse rx="8.56" ry="6.42" fill="url(#g27)" transform="translate(106 140.3) rotate(75)"/><ellipse cx="222.31" cy="64.98" rx="7.14" ry="7.14" fill="url(#g27)"/><ellipse rx="6.42" ry="5.42" fill="url(#g27)" transform="translate(263.02 97.92) rotate(-15)"/><ellipse rx="10.7" ry="6.42" fill="url(#g27)" transform="translate(216.23 104.28) rotate(-12)"/><ellipse cx="226.06" cy="119.25" rx="5.99" ry="5.99" fill="url(#g28)"/><ellipse cx="212.21" cy="223.12" rx="6.85" ry="6.85" fill="url(#g29)"/><ellipse rx="7.42" ry="6.42" fill="url(#g30)" transform="translate(42.84 211.7) rotate(80)"/><ellipse rx="7.85" ry="5.99" fill="url(#g31)" transform="translate(62.96 145.92) rotate(70)"/><ellipse rx="8.28" ry="6.42" fill="url(#g32)" transform="translate(140.15 204.68) rotate(75)"/><ellipse cx="191.43" cy="265.98" rx="6.85" ry="7.14" fill="url(#g33)"/>
<ellipse rx="10.25" ry="4.27" fill="url(#g21)" transform="translate(141.9 137.6) rotate(61)"/>
</g>
<rect x="0" y="0" width="290.8" height="290.3" fill="none" stroke="#404040" stroke-width="1.15"/>
<path d="M0.48 290.3v3.9M0 289.81h-3.9M48.95 290.3v3.9M0 241.43h-3.9M97.42 290.3v3.9M0 193.05h-3.9M145.89 290.3v3.9M0 144.66h-3.9M194.35 290.3v3.9M0 96.28h-3.9M242.82 290.3v3.9M0 47.9h-3.9" stroke="#404040" stroke-width="1.05" fill="none"/>
<g font-size="10.4" text-anchor="middle">
<text x="0.48" y="306.9">0</text>
<text x="48.95" y="306.9">50</text>
<text x="97.42" y="306.9">100</text>
<text x="145.89" y="306.9">150</text>
<text x="194.35" y="306.9">200</text>
<text x="242.82" y="306.9">250</text>
</g>
<g font-size="10.4" text-anchor="end">
<text x="-9.1" y="293.71">0</text>
<text x="-9.1" y="245.33">50</text>
<text x="-9.1" y="196.95">100</text>
<text x="-9.1" y="148.56">150</text>
<text x="-9.1" y="100.18">200</text>
<text x="-9.1" y="51.8">250</text>
</g>
<text x="144.8" y="327.1" font-size="17.6" text-anchor="middle">arcsec</text>
<text font-size="17.6" text-anchor="middle" transform="translate(-36.7 146.05) rotate(-90)">arcsec</text>
<text x="145.4" y="-8.9" font-size="18.1" text-anchor="middle" letter-spacing="0.23">BH mass<tspan dx="4.6">∼</tspan><tspan dx="3.5">10</tspan><tspan font-size="12.67" dy="-6.6" dx="-0.6">9</tspan><tspan font-style="italic" dy="6.6" dx="1.2">M</tspan><tspan font-size="12.67" dy="2.9" dx="1.3">⊙</tspan><tspan dy="-2.9">, z=0.9927</tspan></text>
<rect x="310.65" y="0" width="14" height="290.3" fill="url(#cbar)" stroke="#161616" stroke-width="0.95"/>
<path d="M325.05 257.75h3.9M325.05 212.9h3.9M325.05 168.05h3.9M325.05 123.2h3.9M325.05 78.35h3.9M325.05 33.5h3.9" stroke="#404040" stroke-width="1.05" fill="none"/>
<g font-size="13">
<text x="332.55" y="262.65">30</text>
<text x="332.55" y="217.8">40</text>
<text x="332.55" y="172.95">50</text>
<text x="332.55" y="128.1">60</text>
<text x="332.55" y="83.25">70</text>
<text x="332.55" y="38.4">80</text>
</g>
<text font-size="15.4" text-anchor="middle" transform="translate(366.25 144.25) rotate(-90)">Flux in <tspan font-style="italic">μ</tspan>Jy/beam</text>
</g>
<g transform="translate(646.73 491.8)">
<g clip-path="url(#cc)">
<circle cx="147.05" cy="146.1" r="132.2" fill="#11006c"/>
<ellipse rx="2.85" ry="1.99" fill="url(#g0)" transform="translate(102.54 35.31) rotate(40)"/><ellipse rx="4" ry="1.6" fill="url(#g0)" transform="translate(40.03 162.11) rotate(15)"/><ellipse cx="76.52" cy="176.14" rx="2.77" ry="2.33" fill="url(#g0)"/><ellipse rx="4.39" ry="2.4" fill="url(#g1)" transform="translate(64.83 48.13) rotate(80)"/><ellipse rx="3.36" ry="2.24" fill="url(#g1)" transform="translate(90.56 48.13) rotate(25)"/><ellipse rx="3.2" ry="2.24" fill="url(#g1)" transform="translate(127.71 50.94) rotate(-10)"/><ellipse rx="4.79" ry="3.04" fill="url(#g1)" transform="translate(134.07 93.8) rotate(-10)"/><ellipse cx="145.02" cy="111.86" rx="2.8" ry="3.2" fill="url(#g1)"/><ellipse rx="4.39" ry="2.24" fill="url(#g1)" transform="translate(157.28 83.69) rotate(35)"/><ellipse rx="2.8" ry="2" fill="url(#g1)" transform="translate(259.28 82.1) rotate(30)"/><ellipse rx="3.2" ry="2" fill="url(#g1)" transform="translate(249.73 108.02) rotate(5)"/><ellipse rx="3.2" ry="2.24" fill="url(#g1)" transform="translate(98.33 193.74) rotate(15)"/><ellipse rx="4.79" ry="1.2" fill="url(#g1)" transform="translate(186.75 213.57) rotate(50)"/><ellipse rx="3.04" ry="2.8" fill="url(#g1)" transform="translate(156.53 211.42) rotate(90)"/><ellipse rx="3.59" ry="2.57" fill="url(#g1)" transform="translate(61.08 81.17) rotate(30)"/><ellipse rx="3.42" ry="2.99" fill="url(#g1)" transform="translate(68.1 122.53) rotate(20)"/><ellipse cx="152.13" cy="17.25" rx="2.99" ry="2.99" fill="url(#g1)"/><ellipse cx="80.27" cy="214.98" rx="3.85" ry="2.74" fill="url(#g1)"/><ellipse rx="4.28" ry="2.39" fill="url(#g1)" transform="translate(123.31 239.03) rotate(-20)"/><ellipse rx="6.84" ry="1.54" fill="url(#g1)" transform="translate(180.67 192.52) rotate(50)"/><ellipse rx="4.16" ry="2.59" fill="url(#g2)" transform="translate(51.26 230.42) rotate(-70)"/><ellipse rx="4.62" ry="4.16" fill="url(#g2)" transform="translate(187.22 149.01) rotate(60)"/><ellipse rx="3.85" ry="4.34" fill="url(#g2)" transform="translate(55.47 110.83) rotate(90)"/><ellipse rx="3.66" ry="3.37" fill="url(#g2)" transform="translate(249.45 90.06) rotate(90)"/><ellipse rx="4.05" ry="2.7" fill="url(#g2)" transform="translate(120.32 195.14) rotate(10)"/><ellipse rx="4.82" ry="3.37" fill="url(#g2)" transform="translate(182.08 208.43) rotate(20)"/><ellipse rx="6.26" ry="3.66" fill="url(#g2)" transform="translate(200.51 242.11) rotate(30)"/><ellipse rx="5.9" ry="3.56" fill="url(#g3)" transform="translate(126.12 81.54) rotate(-25)"/><ellipse rx="6.61" ry="3.56" fill="url(#g3)" transform="translate(170.57 70.12) rotate(80)"/><ellipse rx="6.91" ry="2.85" fill="url(#g3)" transform="translate(72.31 158.55) rotate(-25)"/><ellipse rx="5.59" ry="4.58" fill="url(#g3)" transform="translate(142.03 185.5) rotate(20)"/><ellipse rx="5.08" ry="2.54" fill="url(#g3)" transform="translate(145.3 258.49) rotate(90)"/><ellipse rx="3.56" ry="2.85" fill="url(#g3)" transform="translate(200.32 207.49) rotate(25)"/><ellipse rx="3.86" ry="3.25" fill="url(#g3)" transform="translate(159.15 225.93) rotate(15)"/><ellipse rx="7.75" ry="3.1" fill="url(#g3)" transform="translate(48.45 164.45) rotate(22)"/><ellipse rx="5.68" ry="2.89" fill="url(#g3)" transform="translate(234.95 207.96) rotate(-10)"/><ellipse rx="8.78" ry="4.34" fill="url(#g3)" transform="translate(255.06 212.17) rotate(-45)"/><ellipse rx="4.42" ry="4" fill="url(#g4)" transform="translate(98.33 123.18) rotate(10)"/><ellipse rx="4.74" ry="3.69" fill="url(#g4)" transform="translate(78.4 135.16) rotate(80)"/><ellipse rx="3.69" ry="2.63" fill="url(#g4)" transform="translate(138.28 275.8) rotate(-20)"/><ellipse rx="5.26" ry="4.21" fill="url(#g4)" transform="translate(193.31 178.48) rotate(60)"/><ellipse rx="4.74" ry="3.69" fill="url(#g4)" transform="translate(184.88 197.2) rotate(70)"/><ellipse rx="5.26" ry="2.63" fill="url(#g4)" transform="translate(146.99 257.55) rotate(-50)"/><ellipse rx="7.77" ry="3.78" fill="url(#g5)" transform="translate(77.93 95.86) rotate(-22)"/><ellipse rx="4.32" ry="4.1" fill="url(#g5)" transform="translate(176.46 187.84) rotate(40)"/><ellipse rx="6.48" ry="3.78" fill="url(#g5)" transform="translate(153.07 252.87) rotate(-25)"/><ellipse rx="4.9" ry="4.57" fill="url(#g6)" transform="translate(41.9 86.97) rotate(-30)"/><ellipse rx="7.62" ry="3.26" fill="url(#g6)" transform="translate(192.37 220.12) rotate(50)"/><ellipse rx="5.98" ry="3.81" fill="url(#g6)" transform="translate(223.72 208.71) rotate(25)"/><ellipse rx="6.6" ry="4.18" fill="url(#g6)" transform="translate(24.12 150.41) rotate(50)"/><ellipse rx="6.6" ry="4.95" fill="url(#g6)" transform="translate(69.32 230.42) rotate(80)"/><ellipse rx="5.5" ry="3.3" fill="url(#g6)" transform="translate(180.39 230.88) rotate(85)"/><ellipse rx="4.66" ry="4.22" fill="url(#g7)" transform="translate(196.11 161.36) rotate(-20)"/><ellipse cx="24.59" cy="100.54" rx="3.9" ry="3.35" fill="url(#g8)"/><ellipse rx="6.14" ry="3.9" fill="url(#g8)" transform="translate(222.31 143.58) rotate(75)"/><ellipse cx="120.97" cy="181.95" rx="6.92" ry="4.24" fill="url(#g8)"/><ellipse rx="8.37" ry="3.9" fill="url(#g8)" transform="translate(209.21 174.09) rotate(-18)"/><ellipse rx="5.35" ry="4.68" fill="url(#g8)" transform="translate(161.49 179.61) rotate(-15)"/><ellipse rx="5.02" ry="4.24" fill="url(#g8)" transform="translate(246.92 192.52) rotate(80)"/><ellipse rx="10.16" ry="3.95" fill="url(#g9)" transform="translate(89.62 67.78) rotate(55)"/><ellipse cx="109.74" cy="256.62" rx="5.08" ry="5.08" fill="url(#g9)"/><ellipse rx="5.7" ry="4.79" fill="url(#g10)" transform="translate(182.26 49.26) rotate(25)"/><ellipse rx="4.79" ry="4.33" fill="url(#g10)" transform="translate(124.43 209.83) rotate(-10)"/><ellipse cx="172.53" cy="272.71" rx="4.56" ry="3.99" fill="url(#g10)"/><ellipse rx="6.86" ry="5.15" fill="url(#g10)" transform="translate(106 140.3) rotate(75)"/><ellipse cx="222.31" cy="64.98" rx="5.72" ry="5.72" fill="url(#g10)"/><ellipse rx="5.15" ry="4.35" fill="url(#g10)" transform="translate(263.02 97.92) rotate(-15)"/><ellipse rx="8.58" ry="5.15" fill="url(#g10)" transform="translate(216.23 104.28) rotate(-12)"/><ellipse cx="226.06" cy="119.25" rx="4.83" ry="4.83" fill="url(#g11)"/><ellipse cx="212.21" cy="223.12" rx="5.57" ry="5.57" fill="url(#g12)"/><ellipse rx="6.06" ry="5.24" fill="url(#g13)" transform="translate(42.84 211.7) rotate(80)"/><ellipse rx="6.43" ry="4.91" fill="url(#g13)" transform="translate(62.96 145.92) rotate(70)"/><ellipse rx="6.72" ry="5.22" fill="url(#g13)" transform="translate(140.15 204.68) rotate(75)"/><ellipse cx="191.43" cy="265.98" rx="5.5" ry="5.73" fill="url(#g13)"/><ellipse rx="4.15" ry="3.17" fill="url(#g5)" transform="translate(153.6 149.6) rotate(45)"/><ellipse rx="3.9" ry="3.42" fill="url(#g7)" transform="translate(140 132.2) rotate(45)"/><ellipse rx="10.3" ry="9.5" fill="url(#gc4)" transform="translate(145.2 139.5) rotate(60)"/>
</g>
<rect x="0" y="0" width="290.8" height="290.3" fill="none" stroke="#404040" stroke-width="1.15"/>
<path d="M0.48 290.3v3.9M0 289.81h-3.9M48.95 290.3v3.9M0 241.43h-3.9M97.42 290.3v3.9M0 193.05h-3.9M145.89 290.3v3.9M0 144.66h-3.9M194.35 290.3v3.9M0 96.28h-3.9M242.82 290.3v3.9M0 47.9h-3.9" stroke="#404040" stroke-width="1.05" fill="none"/>
<g font-size="10.4" text-anchor="middle">
<text x="0.48" y="306.9">0</text>
<text x="48.95" y="306.9">50</text>
<text x="97.42" y="306.9">100</text>
<text x="145.89" y="306.9">150</text>
<text x="194.35" y="306.9">200</text>
<text x="242.82" y="306.9">250</text>
</g>
<g font-size="10.4" text-anchor="end">
<text x="-9.1" y="293.71">0</text>
<text x="-9.1" y="245.33">50</text>
<text x="-9.1" y="196.95">100</text>
<text x="-9.1" y="148.56">150</text>
<text x="-9.1" y="100.18">200</text>
<text x="-9.1" y="51.8">250</text>
</g>
<text x="144.8" y="327.1" font-size="17.6" text-anchor="middle">arcsec</text>
<text font-size="17.6" text-anchor="middle" transform="translate(-36.7 146.05) rotate(-90)">arcsec</text>
<text x="145.4" y="-8.9" font-size="18.1" text-anchor="middle" letter-spacing="0.23">BH mass<tspan dx="4.6">∼</tspan><tspan dx="3.5">10</tspan><tspan font-size="12.67" dy="-6.6" dx="-0.6">9</tspan><tspan font-style="italic" dy="6.6" dx="1.2">M</tspan><tspan font-size="12.67" dy="2.9" dx="1.3">⊙</tspan><tspan dy="-2.9">, z=0.9927</tspan></text>
<rect x="310.65" y="0" width="14" height="290.3" fill="url(#cbar)" stroke="#161616" stroke-width="0.95"/>
<path d="M325.05 261.31h3.9M325.05 206.91h3.9M325.05 152.51h3.9M325.05 98.11h3.9M325.05 43.71h3.9" stroke="#404040" stroke-width="1.05" fill="none"/>
<g font-size="13">
<text x="332.55" y="266.21">50</text>
<text x="332.55" y="211.81">100</text>
<text x="332.55" y="157.41">150</text>
<text x="332.55" y="103.01">200</text>
<text x="332.55" y="48.61">250</text>
</g>
<text font-size="15.4" text-anchor="middle" transform="translate(374.55 144.25) rotate(-90)">Flux in <tspan font-style="italic">μ</tspan>Jy/beam</text>
</g>
<g transform="translate(1189.51 491.8)">
<g clip-path="url(#cc)">
<circle cx="147.05" cy="146.1" r="132.2" fill="#11006c"/>
<ellipse cx="232.61" cy="83.22" rx="1.48" ry="1.48" fill="url(#g2)"/><ellipse cx="41.43" cy="192.52" rx="1.48" ry="1.48" fill="url(#g2)"/><ellipse rx="1.85" ry="1.48" fill="url(#g2)" transform="translate(166.82 199.54) rotate(40)"/><ellipse rx="3.08" ry="1.48" fill="url(#g3)" transform="translate(203.13 144.05) rotate(80)"/><ellipse rx="3.45" ry="1.73" fill="url(#g4)" transform="translate(76.99 57.02) rotate(10)"/><ellipse rx="3.08" ry="2.22" fill="url(#g4)" transform="translate(72.97 71.25) rotate(40)"/><ellipse cx="117.7" cy="104" rx="6.16" ry="1.48" fill="url(#g4)"/><ellipse cx="267.7" cy="131.42" rx="2.22" ry="2.22" fill="url(#g4)"/><ellipse cx="158.68" cy="136.09" rx="1.85" ry="1.85" fill="url(#g4)"/><ellipse cx="117.51" cy="165.85" rx="2.71" ry="1.97" fill="url(#g4)"/><ellipse rx="3.7" ry="1.48" fill="url(#g4)" transform="translate(146.99 180.82) rotate(-60)"/><ellipse rx="4.93" ry="1.48" fill="url(#g4)" transform="translate(199.57 191.3) rotate(30)"/><ellipse rx="3.45" ry="1.85" fill="url(#g4)" transform="translate(261.33 188.31) rotate(90)"/><ellipse cx="209.68" cy="254.75" rx="2.47" ry="2.47" fill="url(#g4)"/><ellipse rx="9.86" ry="1.48" fill="url(#g5)" transform="translate(200.32 32.23) rotate(-33)"/><ellipse rx="8.63" ry="1.48" fill="url(#g5)" transform="translate(188.16 95.86) rotate(-65)"/><ellipse rx="5.55" ry="1.48" fill="url(#g5)" transform="translate(104.6 242.58) rotate(-60)"/><ellipse rx="11.3" ry="1.51" fill="url(#g5)" transform="translate(98.98 264.57) rotate(-35)"/><ellipse rx="4.93" ry="1.48" fill="url(#g5)" transform="translate(144.83 270.65) rotate(-60)"/><ellipse rx="4.69" ry="2.22" fill="url(#g6)" transform="translate(248.51 76.67) rotate(-35)"/><ellipse rx="4.32" ry="1.73" fill="url(#g6)" transform="translate(260.68 116.44) rotate(-35)"/><ellipse cx="243.37" cy="121.12" rx="2.71" ry="1.97" fill="url(#g6)"/><ellipse cx="236.82" cy="132.35" rx="2.47" ry="2.22" fill="url(#g6)"/><ellipse rx="2.47" ry="1.85" fill="url(#g6)" transform="translate(90.09 165.57) rotate(-20)"/><ellipse rx="3.45" ry="2.71" fill="url(#g6)" transform="translate(62.49 217.5) rotate(-60)"/><ellipse rx="3.45" ry="2.22" fill="url(#g6)" transform="translate(135.2 245.39) rotate(70)"/><ellipse rx="3.08" ry="1.85" fill="url(#g8)" transform="translate(45.18 64.51) rotate(-50)"/><ellipse rx="3.08" ry="2.22" fill="url(#g8)" transform="translate(244.3 60.3) rotate(30)"/><ellipse rx="3.7" ry="2.47" fill="url(#g8)" transform="translate(202.19 98.38) rotate(30)"/><ellipse rx="3.7" ry="1.85" fill="url(#g8)" transform="translate(118.63 273.46) rotate(-10)"/><ellipse rx="4.93" ry="1.85" fill="url(#g8)" transform="translate(173.65 156.96) rotate(-35)"/><ellipse rx="5.55" ry="2.71" fill="url(#g8)" transform="translate(261.61 161.64) rotate(80)"/><ellipse rx="4.32" ry="2.71" fill="url(#g9)" transform="translate(123.03 64.79) rotate(-20)"/><ellipse rx="6.16" ry="3.7" fill="url(#g9)" transform="translate(124.25 103.62) rotate(-15)"/><ellipse rx="4.32" ry="3.08" fill="url(#g9)" transform="translate(37.69 117.19) rotate(10)"/><ellipse rx="4.93" ry="3.45" fill="url(#g9)" transform="translate(31.14 130.67) rotate(70)"/><ellipse rx="3.7" ry="2.47" fill="url(#g9)" transform="translate(21.32 145.45) rotate(20)"/><ellipse rx="4.93" ry="3.7" fill="url(#g9)" transform="translate(150.26 53.28) rotate(40)"/><ellipse rx="6.78" ry="2.71" fill="url(#g9)" transform="translate(202.94 83.41) rotate(-20)"/><ellipse rx="4.93" ry="4.32" fill="url(#g9)" transform="translate(175.53 115.04) rotate(60)"/><ellipse rx="3.7" ry="3.08" fill="url(#g9)" transform="translate(93.65 151.07) rotate(30)"/><ellipse cx="108.81" cy="146.67" rx="3.7" ry="2.47" fill="url(#g9)"/><ellipse cx="234.01" cy="179.42" rx="3.7" ry="2.71" fill="url(#g9)"/><ellipse cx="235.41" cy="226.49" rx="3.95" ry="3.08" fill="url(#g9)"/><ellipse rx="4.32" ry="3.7" fill="url(#g9)" transform="translate(168.98 240.24) rotate(-20)"/><ellipse cx="145.58" cy="166.32" rx="4.36" ry="4.36" fill="url(#g10)"/><ellipse rx="3.77" ry="3.14" fill="url(#g11)" transform="translate(131.27 23.99) rotate(30)"/><ellipse rx="6.03" ry="3.14" fill="url(#g11)" transform="translate(121.44 34.38) rotate(30)"/><ellipse cx="145.02" cy="37.56" rx="3.77" ry="3.77" fill="url(#g11)"/><ellipse cx="55.19" cy="116.44" rx="2.76" ry="5.02" fill="url(#g11)"/><ellipse rx="4.77" ry="3.77" fill="url(#g11)" transform="translate(48.73 132.35) rotate(-10)"/><ellipse rx="6.91" ry="2.76" fill="url(#g11)" transform="translate(224.65 52.81) rotate(70)"/><ellipse rx="8.16" ry="3.77" fill="url(#g11)" transform="translate(177.87 124.87) rotate(-35)"/><ellipse rx="7.53" ry="4.4" fill="url(#g11)" transform="translate(185.82 143.11) rotate(85)"/><ellipse rx="5.02" ry="3.52" fill="url(#g11)" transform="translate(128.27 226.02) rotate(25)"/><ellipse cx="107.87" cy="236.5" rx="4.4" ry="4.02" fill="url(#g11)"/><ellipse rx="5.27" ry="3.52" fill="url(#g11)" transform="translate(153.72 150.69) rotate(5)"/><ellipse rx="6.03" ry="4.4" fill="url(#g11)" transform="translate(218.57 189.06) rotate(85)"/><ellipse cx="221.66" cy="237.44" rx="4.02" ry="3.52" fill="url(#g11)"/><ellipse rx="7.53" ry="1.76" fill="url(#g11)" transform="translate(142.31 270.65) rotate(-55)"/><ellipse rx="5.11" ry="3.58" fill="url(#g13)" transform="translate(102.54 35.31) rotate(40)"/><ellipse rx="7.1" ry="2.84" fill="url(#g13)" transform="translate(40.03 162.11) rotate(15)"/><ellipse cx="76.52" cy="176.14" rx="4.9" ry="4.13" fill="url(#g13)"/><ellipse rx="7.22" ry="3.94" fill="url(#g14)" transform="translate(64.83 48.13) rotate(80)"/><ellipse rx="5.51" ry="3.68" fill="url(#g14)" transform="translate(90.56 48.13) rotate(25)"/><ellipse rx="5.25" ry="3.68" fill="url(#g14)" transform="translate(127.71 50.94) rotate(-10)"/><ellipse rx="7.88" ry="4.99" fill="url(#g14)" transform="translate(134.07 93.8) rotate(-10)"/><ellipse cx="145.02" cy="111.86" rx="4.59" ry="5.25" fill="url(#g14)"/><ellipse rx="7.22" ry="3.68" fill="url(#g14)" transform="translate(157.28 83.69) rotate(35)"/><ellipse rx="4.59" ry="3.28" fill="url(#g14)" transform="translate(259.28 82.1) rotate(30)"/><ellipse rx="5.25" ry="3.28" fill="url(#g14)" transform="translate(249.73 108.02) rotate(5)"/><ellipse rx="5.25" ry="3.68" fill="url(#g14)" transform="translate(98.33 193.74) rotate(15)"/><ellipse rx="7.88" ry="1.97" fill="url(#g14)" transform="translate(186.75 213.57) rotate(50)"/><ellipse rx="4.99" ry="4.59" fill="url(#g14)" transform="translate(156.53 211.42) rotate(90)"/><ellipse rx="5.61" ry="4.01" fill="url(#g15)" transform="translate(61.08 81.17) rotate(30)"/><ellipse rx="5.34" ry="4.67" fill="url(#g15)" transform="translate(68.1 122.53) rotate(20)"/><ellipse cx="152.13" cy="17.25" rx="4.67" ry="4.67" fill="url(#g15)"/><ellipse cx="80.27" cy="214.98" rx="6.01" ry="4.27" fill="url(#g15)"/><ellipse rx="6.68" ry="3.74" fill="url(#g15)" transform="translate(123.31 239.03) rotate(-20)"/><ellipse rx="10.69" ry="2.4" fill="url(#g15)" transform="translate(180.67 192.52) rotate(50)"/><ellipse rx="6.16" ry="3.84" fill="url(#g16)" transform="translate(51.26 230.42) rotate(-70)"/><ellipse rx="6.85" ry="6.16" fill="url(#g16)" transform="translate(187.22 149.01) rotate(60)"/><ellipse rx="5.57" ry="6.27" fill="url(#g17)" transform="translate(55.47 110.83) rotate(90)"/><ellipse rx="5.29" ry="4.87" fill="url(#g17)" transform="translate(249.45 90.06) rotate(90)"/><ellipse rx="5.85" ry="3.9" fill="url(#g17)" transform="translate(120.32 195.14) rotate(10)"/><ellipse rx="6.96" ry="4.87" fill="url(#g17)" transform="translate(182.08 208.43) rotate(20)"/><ellipse rx="9.05" ry="5.29" fill="url(#g17)" transform="translate(200.51 242.11) rotate(30)"/><ellipse rx="8.28" ry="4.99" fill="url(#g19)" transform="translate(126.12 81.54) rotate(-25)"/><ellipse rx="9.28" ry="4.99" fill="url(#g19)" transform="translate(170.57 70.12) rotate(80)"/><ellipse rx="9.7" ry="4" fill="url(#g19)" transform="translate(72.31 158.55) rotate(-25)"/><ellipse rx="7.85" ry="6.42" fill="url(#g19)" transform="translate(142.03 185.5) rotate(20)"/><ellipse rx="7.14" ry="3.57" fill="url(#g19)" transform="translate(145.3 258.49) rotate(90)"/><ellipse rx="4.99" ry="4" fill="url(#g19)" transform="translate(200.32 207.49) rotate(25)"/><ellipse rx="5.42" ry="4.57" fill="url(#g19)" transform="translate(159.15 225.93) rotate(15)"/><ellipse rx="10.7" ry="4.28" fill="url(#g20)" transform="translate(48.45 164.45) rotate(22)"/><ellipse rx="7.85" ry="4" fill="url(#g20)" transform="translate(234.95 207.96) rotate(-10)"/><ellipse rx="12.13" ry="5.99" fill="url(#g20)" transform="translate(255.06 212.17) rotate(-45)"/><ellipse rx="5.99" ry="5.42" fill="url(#g21)" transform="translate(98.33 123.18) rotate(10)"/><ellipse rx="6.42" ry="4.99" fill="url(#g21)" transform="translate(78.4 135.16) rotate(80)"/><ellipse rx="4.99" ry="3.57" fill="url(#g21)" transform="translate(138.28 275.8) rotate(-20)"/><ellipse rx="7.14" ry="5.71" fill="url(#g21)" transform="translate(193.31 178.48) rotate(60)"/><ellipse rx="6.42" ry="4.99" fill="url(#g21)" transform="translate(184.88 197.2) rotate(70)"/><ellipse rx="7.14" ry="3.57" fill="url(#g21)" transform="translate(146.99 257.55) rotate(-50)"/><ellipse rx="10.27" ry="4.99" fill="url(#g23)" transform="translate(77.93 95.86) rotate(-22)"/><ellipse rx="5.71" ry="5.42" fill="url(#g23)" transform="translate(176.46 187.84) rotate(40)"/><ellipse rx="8.56" ry="4.99" fill="url(#g23)" transform="translate(153.07 252.87) rotate(-25)"/><ellipse rx="6.42" ry="5.99" fill="url(#g23)" transform="translate(41.9 86.97) rotate(-30)"/><ellipse rx="9.99" ry="4.28" fill="url(#g23)" transform="translate(192.37 220.12) rotate(50)"/><ellipse rx="7.85" ry="4.99" fill="url(#g23)" transform="translate(223.72 208.71) rotate(25)"/><ellipse rx="8.56" ry="5.42" fill="url(#g24)" transform="translate(24.12 150.41) rotate(50)"/><ellipse rx="8.56" ry="6.42" fill="url(#g24)" transform="translate(69.32 230.42) rotate(80)"/><ellipse rx="7.14" ry="4.28" fill="url(#g24)" transform="translate(180.39 230.88) rotate(85)"/><ellipse rx="5.99" ry="5.42" fill="url(#g24)" transform="translate(196.11 161.36) rotate(-20)"/><ellipse cx="24.59" cy="100.54" rx="4.99" ry="4.28" fill="url(#g25)"/><ellipse rx="7.85" ry="4.99" fill="url(#g25)" transform="translate(222.31 143.58) rotate(75)"/><ellipse cx="120.97" cy="181.95" rx="8.85" ry="5.42" fill="url(#g25)"/><ellipse rx="10.7" ry="4.99" fill="url(#g25)" transform="translate(209.21 174.09) rotate(-18)"/><ellipse rx="6.85" ry="5.99" fill="url(#g25)" transform="translate(161.49 179.61) rotate(-15)"/><ellipse rx="6.42" ry="5.42" fill="url(#g25)" transform="translate(246.92 192.52) rotate(80)"/><ellipse rx="12.84" ry="4.99" fill="url(#g26)" transform="translate(89.62 67.78) rotate(55)"/><ellipse cx="109.74" cy="256.62" rx="6.42" ry="6.42" fill="url(#g26)"/><ellipse rx="7.14" ry="5.99" fill="url(#g27)" transform="translate(182.26 49.26) rotate(25)"/><ellipse rx="5.99" ry="5.42" fill="url(#g27)" transform="translate(124.43 209.83) rotate(-10)"/><ellipse cx="172.53" cy="272.71" rx="5.71" ry="4.99" fill="url(#g27)"/><ellipse rx="8.56" ry="6.42" fill="url(#g27)" transform="translate(106 140.3) rotate(75)"/><ellipse cx="222.31" cy="64.98" rx="7.14" ry="7.14" fill="url(#g27)"/><ellipse rx="6.42" ry="5.42" fill="url(#g27)" transform="translate(263.02 97.92) rotate(-15)"/><ellipse rx="10.7" ry="6.42" fill="url(#g27)" transform="translate(216.23 104.28) rotate(-12)"/><ellipse cx="226.06" cy="119.25" rx="5.99" ry="5.99" fill="url(#g28)"/><ellipse cx="212.21" cy="223.12" rx="6.85" ry="6.85" fill="url(#g29)"/><ellipse rx="7.42" ry="6.42" fill="url(#g30)" transform="translate(42.84 211.7) rotate(80)"/><ellipse rx="7.85" ry="5.99" fill="url(#g31)" transform="translate(62.96 145.92) rotate(70)"/><ellipse rx="8.28" ry="6.42" fill="url(#g32)" transform="translate(140.15 204.68) rotate(75)"/><ellipse cx="191.43" cy="265.98" rx="6.85" ry="7.14" fill="url(#g33)"/>
<ellipse rx="6.83" ry="3.17" fill="url(#g14)" transform="translate(140.5 134) rotate(56)"/>
</g>
<rect x="0" y="0" width="290.8" height="290.3" fill="none" stroke="#404040" stroke-width="1.15"/>
<path d="M0.48 290.3v3.9M0 289.81h-3.9M48.95 290.3v3.9M0 241.43h-3.9M97.42 290.3v3.9M0 193.05h-3.9M145.89 290.3v3.9M0 144.66h-3.9M194.35 290.3v3.9M0 96.28h-3.9M242.82 290.3v3.9M0 47.9h-3.9" stroke="#404040" stroke-width="1.05" fill="none"/>
<g font-size="10.4" text-anchor="middle">
<text x="0.48" y="306.9">0</text>
<text x="48.95" y="306.9">50</text>
<text x="97.42" y="306.9">100</text>
<text x="145.89" y="306.9">150</text>
<text x="194.35" y="306.9">200</text>
<text x="242.82" y="306.9">250</text>
</g>
<g font-size="10.4" text-anchor="end">
<text x="-9.1" y="293.71">0</text>
<text x="-9.1" y="245.33">50</text>
<text x="-9.1" y="196.95">100</text>
<text x="-9.1" y="148.56">150</text>
<text x="-9.1" y="100.18">200</text>
<text x="-9.1" y="51.8">250</text>
</g>
<text x="144.8" y="327.1" font-size="17.6" text-anchor="middle">arcsec</text>
<text font-size="17.6" text-anchor="middle" transform="translate(-36.7 146.05) rotate(-90)">arcsec</text>
<text x="145.4" y="-8.9" font-size="18.1" text-anchor="middle" letter-spacing="0.23">BH mass<tspan dx="4.6">∼</tspan><tspan dx="3.5">10</tspan><tspan font-size="12.67" dy="-6.6" dx="-0.6">9</tspan><tspan font-style="italic" dy="6.6" dx="1.2">M</tspan><tspan font-size="12.67" dy="2.9" dx="1.3">⊙</tspan><tspan dy="-2.9">, z=0.9927</tspan></text>
<rect x="310.65" y="0" width="14" height="290.3" fill="url(#cbar)" stroke="#161616" stroke-width="0.95"/>
<path d="M325.05 258.35h3.9M325.05 213.1h3.9M325.05 167.85h3.9M325.05 122.6h3.9M325.05 77.35h3.9M325.05 32.1h3.9" stroke="#404040" stroke-width="1.05" fill="none"/>
<g font-size="13">
<text x="332.55" y="263.25">30</text>
<text x="332.55" y="218">40</text>
<text x="332.55" y="172.75">50</text>
<text x="332.55" y="127.5">60</text>
<text x="332.55" y="82.25">70</text>
<text x="332.55" y="37">80</text>
</g>
<text font-size="15.4" text-anchor="middle" transform="translate(366.25 144.25) rotate(-90)">Flux in <tspan font-style="italic">μ</tspan>Jy/beam</text>
</g>
<g transform="translate(1732.29 491.8)">
<g clip-path="url(#cc)">
<circle cx="147.05" cy="146.1" r="132.2" fill="#11006c"/>
<ellipse cx="232.61" cy="83.22" rx="1.48" ry="1.48" fill="url(#g2)"/><ellipse cx="41.43" cy="192.52" rx="1.48" ry="1.48" fill="url(#g2)"/><ellipse rx="1.85" ry="1.48" fill="url(#g2)" transform="translate(166.82 199.54) rotate(40)"/><ellipse rx="3.08" ry="1.48" fill="url(#g3)" transform="translate(203.13 144.05) rotate(80)"/><ellipse rx="3.45" ry="1.73" fill="url(#g4)" transform="translate(76.99 57.02) rotate(10)"/><ellipse rx="3.08" ry="2.22" fill="url(#g4)" transform="translate(72.97 71.25) rotate(40)"/><ellipse cx="117.7" cy="104" rx="6.16" ry="1.48" fill="url(#g4)"/><ellipse cx="267.7" cy="131.42" rx="2.22" ry="2.22" fill="url(#g4)"/><ellipse cx="158.68" cy="136.09" rx="1.85" ry="1.85" fill="url(#g4)"/><ellipse cx="117.51" cy="165.85" rx="2.71" ry="1.97" fill="url(#g4)"/><ellipse rx="3.7" ry="1.48" fill="url(#g4)" transform="translate(146.99 180.82) rotate(-60)"/><ellipse rx="4.93" ry="1.48" fill="url(#g4)" transform="translate(199.57 191.3) rotate(30)"/><ellipse rx="3.45" ry="1.85" fill="url(#g4)" transform="translate(261.33 188.31) rotate(90)"/><ellipse cx="209.68" cy="254.75" rx="2.47" ry="2.47" fill="url(#g4)"/><ellipse rx="9.86" ry="1.48" fill="url(#g5)" transform="translate(200.32 32.23) rotate(-33)"/><ellipse rx="8.63" ry="1.48" fill="url(#g5)" transform="translate(188.16 95.86) rotate(-65)"/><ellipse rx="5.55" ry="1.48" fill="url(#g5)" transform="translate(104.6 242.58) rotate(-60)"/><ellipse rx="11.3" ry="1.51" fill="url(#g5)" transform="translate(98.98 264.57) rotate(-35)"/><ellipse rx="4.93" ry="1.48" fill="url(#g5)" transform="translate(144.83 270.65) rotate(-60)"/><ellipse rx="4.69" ry="2.22" fill="url(#g6)" transform="translate(248.51 76.67) rotate(-35)"/><ellipse rx="4.32" ry="1.73" fill="url(#g6)" transform="translate(260.68 116.44) rotate(-35)"/><ellipse cx="243.37" cy="121.12" rx="2.71" ry="1.97" fill="url(#g6)"/><ellipse cx="236.82" cy="132.35" rx="2.47" ry="2.22" fill="url(#g6)"/><ellipse rx="2.47" ry="1.85" fill="url(#g6)" transform="translate(90.09 165.57) rotate(-20)"/><ellipse rx="3.45" ry="2.71" fill="url(#g6)" transform="translate(62.49 217.5) rotate(-60)"/><ellipse rx="3.45" ry="2.22" fill="url(#g6)" transform="translate(135.2 245.39) rotate(70)"/><ellipse rx="3.08" ry="1.85" fill="url(#g8)" transform="translate(45.18 64.51) rotate(-50)"/><ellipse rx="3.08" ry="2.22" fill="url(#g8)" transform="translate(244.3 60.3) rotate(30)"/><ellipse rx="3.7" ry="2.47" fill="url(#g8)" transform="translate(202.19 98.38) rotate(30)"/><ellipse rx="3.7" ry="1.85" fill="url(#g8)" transform="translate(118.63 273.46) rotate(-10)"/><ellipse rx="4.93" ry="1.85" fill="url(#g8)" transform="translate(173.65 156.96) rotate(-35)"/><ellipse rx="5.55" ry="2.71" fill="url(#g8)" transform="translate(261.61 161.64) rotate(80)"/><ellipse rx="4.32" ry="2.71" fill="url(#g9)" transform="translate(123.03 64.79) rotate(-20)"/><ellipse rx="6.16" ry="3.7" fill="url(#g9)" transform="translate(124.25 103.62) rotate(-15)"/><ellipse rx="4.32" ry="3.08" fill="url(#g9)" transform="translate(37.69 117.19) rotate(10)"/><ellipse rx="4.93" ry="3.45" fill="url(#g9)" transform="translate(31.14 130.67) rotate(70)"/><ellipse rx="3.7" ry="2.47" fill="url(#g9)" transform="translate(21.32 145.45) rotate(20)"/><ellipse rx="4.93" ry="3.7" fill="url(#g9)" transform="translate(150.26 53.28) rotate(40)"/><ellipse rx="6.78" ry="2.71" fill="url(#g9)" transform="translate(202.94 83.41) rotate(-20)"/><ellipse rx="4.93" ry="4.32" fill="url(#g9)" transform="translate(175.53 115.04) rotate(60)"/><ellipse rx="3.7" ry="3.08" fill="url(#g9)" transform="translate(93.65 151.07) rotate(30)"/><ellipse cx="108.81" cy="146.67" rx="3.7" ry="2.47" fill="url(#g9)"/><ellipse cx="234.01" cy="179.42" rx="3.7" ry="2.71" fill="url(#g9)"/><ellipse cx="235.41" cy="226.49" rx="3.95" ry="3.08" fill="url(#g9)"/><ellipse rx="4.32" ry="3.7" fill="url(#g9)" transform="translate(168.98 240.24) rotate(-20)"/><ellipse cx="145.58" cy="166.32" rx="4.36" ry="4.36" fill="url(#g10)"/><ellipse rx="3.77" ry="3.14" fill="url(#g11)" transform="translate(131.27 23.99) rotate(30)"/><ellipse rx="6.03" ry="3.14" fill="url(#g11)" transform="translate(121.44 34.38) rotate(30)"/><ellipse cx="145.02" cy="37.56" rx="3.77" ry="3.77" fill="url(#g11)"/><ellipse cx="55.19" cy="116.44" rx="2.76" ry="5.02" fill="url(#g11)"/><ellipse rx="4.77" ry="3.77" fill="url(#g11)" transform="translate(48.73 132.35) rotate(-10)"/><ellipse rx="6.91" ry="2.76" fill="url(#g11)" transform="translate(224.65 52.81) rotate(70)"/><ellipse rx="8.16" ry="3.77" fill="url(#g11)" transform="translate(177.87 124.87) rotate(-35)"/><ellipse rx="7.53" ry="4.4" fill="url(#g11)" transform="translate(185.82 143.11) rotate(85)"/><ellipse rx="5.02" ry="3.52" fill="url(#g11)" transform="translate(128.27 226.02) rotate(25)"/><ellipse cx="107.87" cy="236.5" rx="4.4" ry="4.02" fill="url(#g11)"/><ellipse rx="5.27" ry="3.52" fill="url(#g11)" transform="translate(153.72 150.69) rotate(5)"/><ellipse rx="6.03" ry="4.4" fill="url(#g11)" transform="translate(218.57 189.06) rotate(85)"/><ellipse cx="221.66" cy="237.44" rx="4.02" ry="3.52" fill="url(#g11)"/><ellipse rx="7.53" ry="1.76" fill="url(#g11)" transform="translate(142.31 270.65) rotate(-55)"/><ellipse rx="5.11" ry="3.58" fill="url(#g13)" transform="translate(102.54 35.31) rotate(40)"/><ellipse rx="7.1" ry="2.84" fill="url(#g13)" transform="translate(40.03 162.11) rotate(15)"/><ellipse cx="76.52" cy="176.14" rx="4.9" ry="4.13" fill="url(#g13)"/><ellipse rx="7.22" ry="3.94" fill="url(#g14)" transform="translate(64.83 48.13) rotate(80)"/><ellipse rx="5.51" ry="3.68" fill="url(#g14)" transform="translate(90.56 48.13) rotate(25)"/><ellipse rx="5.25" ry="3.68" fill="url(#g14)" transform="translate(127.71 50.94) rotate(-10)"/><ellipse rx="7.88" ry="4.99" fill="url(#g14)" transform="translate(134.07 93.8) rotate(-10)"/><ellipse cx="145.02" cy="111.86" rx="4.59" ry="5.25" fill="url(#g14)"/><ellipse rx="7.22" ry="3.68" fill="url(#g14)" transform="translate(157.28 83.69) rotate(35)"/><ellipse rx="4.59" ry="3.28" fill="url(#g14)" transform="translate(259.28 82.1) rotate(30)"/><ellipse rx="5.25" ry="3.28" fill="url(#g14)" transform="translate(249.73 108.02) rotate(5)"/><ellipse rx="5.25" ry="3.68" fill="url(#g14)" transform="translate(98.33 193.74) rotate(15)"/><ellipse rx="7.88" ry="1.97" fill="url(#g14)" transform="translate(186.75 213.57) rotate(50)"/><ellipse rx="4.99" ry="4.59" fill="url(#g14)" transform="translate(156.53 211.42) rotate(90)"/><ellipse rx="5.61" ry="4.01" fill="url(#g15)" transform="translate(61.08 81.17) rotate(30)"/><ellipse rx="5.34" ry="4.67" fill="url(#g15)" transform="translate(68.1 122.53) rotate(20)"/><ellipse cx="152.13" cy="17.25" rx="4.67" ry="4.67" fill="url(#g15)"/><ellipse cx="80.27" cy="214.98" rx="6.01" ry="4.27" fill="url(#g15)"/><ellipse rx="6.68" ry="3.74" fill="url(#g15)" transform="translate(123.31 239.03) rotate(-20)"/><ellipse rx="10.69" ry="2.4" fill="url(#g15)" transform="translate(180.67 192.52) rotate(50)"/><ellipse rx="6.16" ry="3.84" fill="url(#g16)" transform="translate(51.26 230.42) rotate(-70)"/><ellipse rx="6.85" ry="6.16" fill="url(#g16)" transform="translate(187.22 149.01) rotate(60)"/><ellipse rx="5.57" ry="6.27" fill="url(#g17)" transform="translate(55.47 110.83) rotate(90)"/><ellipse rx="5.29" ry="4.87" fill="url(#g17)" transform="translate(249.45 90.06) rotate(90)"/><ellipse rx="5.85" ry="3.9" fill="url(#g17)" transform="translate(120.32 195.14) rotate(10)"/><ellipse rx="6.96" ry="4.87" fill="url(#g17)" transform="translate(182.08 208.43) rotate(20)"/><ellipse rx="9.05" ry="5.29" fill="url(#g17)" transform="translate(200.51 242.11) rotate(30)"/><ellipse rx="8.28" ry="4.99" fill="url(#g19)" transform="translate(126.12 81.54) rotate(-25)"/><ellipse rx="9.28" ry="4.99" fill="url(#g19)" transform="translate(170.57 70.12) rotate(80)"/><ellipse rx="9.7" ry="4" fill="url(#g19)" transform="translate(72.31 158.55) rotate(-25)"/><ellipse rx="7.85" ry="6.42" fill="url(#g19)" transform="translate(142.03 185.5) rotate(20)"/><ellipse rx="7.14" ry="3.57" fill="url(#g19)" transform="translate(145.3 258.49) rotate(90)"/><ellipse rx="4.99" ry="4" fill="url(#g19)" transform="translate(200.32 207.49) rotate(25)"/><ellipse rx="5.42" ry="4.57" fill="url(#g19)" transform="translate(159.15 225.93) rotate(15)"/><ellipse rx="10.7" ry="4.28" fill="url(#g20)" transform="translate(48.45 164.45) rotate(22)"/><ellipse rx="7.85" ry="4" fill="url(#g20)" transform="translate(234.95 207.96) rotate(-10)"/><ellipse rx="12.13" ry="5.99" fill="url(#g20)" transform="translate(255.06 212.17) rotate(-45)"/><ellipse rx="5.99" ry="5.42" fill="url(#g21)" transform="translate(98.33 123.18) rotate(10)"/><ellipse rx="6.42" ry="4.99" fill="url(#g21)" transform="translate(78.4 135.16) rotate(80)"/><ellipse rx="4.99" ry="3.57" fill="url(#g21)" transform="translate(138.28 275.8) rotate(-20)"/><ellipse rx="7.14" ry="5.71" fill="url(#g21)" transform="translate(193.31 178.48) rotate(60)"/><ellipse rx="6.42" ry="4.99" fill="url(#g21)" transform="translate(184.88 197.2) rotate(70)"/><ellipse rx="7.14" ry="3.57" fill="url(#g21)" transform="translate(146.99 257.55) rotate(-50)"/><ellipse rx="10.27" ry="4.99" fill="url(#g23)" transform="translate(77.93 95.86) rotate(-22)"/><ellipse rx="5.71" ry="5.42" fill="url(#g23)" transform="translate(176.46 187.84) rotate(40)"/><ellipse rx="8.56" ry="4.99" fill="url(#g23)" transform="translate(153.07 252.87) rotate(-25)"/><ellipse rx="6.42" ry="5.99" fill="url(#g23)" transform="translate(41.9 86.97) rotate(-30)"/><ellipse rx="9.99" ry="4.28" fill="url(#g23)" transform="translate(192.37 220.12) rotate(50)"/><ellipse rx="7.85" ry="4.99" fill="url(#g23)" transform="translate(223.72 208.71) rotate(25)"/><ellipse rx="8.56" ry="5.42" fill="url(#g24)" transform="translate(24.12 150.41) rotate(50)"/><ellipse rx="8.56" ry="6.42" fill="url(#g24)" transform="translate(69.32 230.42) rotate(80)"/><ellipse rx="7.14" ry="4.28" fill="url(#g24)" transform="translate(180.39 230.88) rotate(85)"/><ellipse rx="5.99" ry="5.42" fill="url(#g24)" transform="translate(196.11 161.36) rotate(-20)"/><ellipse cx="24.59" cy="100.54" rx="4.99" ry="4.28" fill="url(#g25)"/><ellipse rx="7.85" ry="4.99" fill="url(#g25)" transform="translate(222.31 143.58) rotate(75)"/><ellipse cx="120.97" cy="181.95" rx="8.85" ry="5.42" fill="url(#g25)"/><ellipse rx="10.7" ry="4.99" fill="url(#g25)" transform="translate(209.21 174.09) rotate(-18)"/><ellipse rx="6.85" ry="5.99" fill="url(#g25)" transform="translate(161.49 179.61) rotate(-15)"/><ellipse rx="6.42" ry="5.42" fill="url(#g25)" transform="translate(246.92 192.52) rotate(80)"/><ellipse rx="12.84" ry="4.99" fill="url(#g26)" transform="translate(89.62 67.78) rotate(55)"/><ellipse cx="109.74" cy="256.62" rx="6.42" ry="6.42" fill="url(#g26)"/><ellipse rx="7.14" ry="5.99" fill="url(#g27)" transform="translate(182.26 49.26) rotate(25)"/><ellipse rx="5.99" ry="5.42" fill="url(#g27)" transform="translate(124.43 209.83) rotate(-10)"/><ellipse cx="172.53" cy="272.71" rx="5.71" ry="4.99" fill="url(#g27)"/><ellipse rx="8.56" ry="6.42" fill="url(#g27)" transform="translate(106 140.3) rotate(75)"/><ellipse cx="222.31" cy="64.98" rx="7.14" ry="7.14" fill="url(#g27)"/><ellipse rx="6.42" ry="5.42" fill="url(#g27)" transform="translate(263.02 97.92) rotate(-15)"/><ellipse rx="10.7" ry="6.42" fill="url(#g27)" transform="translate(216.23 104.28) rotate(-12)"/><ellipse cx="226.06" cy="119.25" rx="5.99" ry="5.99" fill="url(#g28)"/><ellipse cx="212.21" cy="223.12" rx="6.85" ry="6.85" fill="url(#g29)"/><ellipse rx="7.42" ry="6.42" fill="url(#g30)" transform="translate(42.84 211.7) rotate(80)"/><ellipse rx="7.85" ry="5.99" fill="url(#g31)" transform="translate(62.96 145.92) rotate(70)"/><ellipse rx="8.28" ry="6.42" fill="url(#g32)" transform="translate(140.15 204.68) rotate(75)"/><ellipse cx="191.43" cy="265.98" rx="6.85" ry="7.14" fill="url(#g33)"/>
<ellipse rx="6.83" ry="3.17" fill="url(#g14)" transform="translate(140.5 134) rotate(56)"/>
</g>
<rect x="0" y="0" width="290.8" height="290.3" fill="none" stroke="#404040" stroke-width="1.15"/>
<path d="M0.48 290.3v3.9M0 289.81h-3.9M48.95 290.3v3.9M0 241.43h-3.9M97.42 290.3v3.9M0 193.05h-3.9M145.89 290.3v3.9M0 144.66h-3.9M194.35 290.3v3.9M0 96.28h-3.9M242.82 290.3v3.9M0 47.9h-3.9" stroke="#404040" stroke-width="1.05" fill="none"/>
<g font-size="10.4" text-anchor="middle">
<text x="0.48" y="306.9">0</text>
<text x="48.95" y="306.9">50</text>
<text x="97.42" y="306.9">100</text>
<text x="145.89" y="306.9">150</text>
<text x="194.35" y="306.9">200</text>
<text x="242.82" y="306.9">250</text>
</g>
<g font-size="10.4" text-anchor="end">
<text x="-9.1" y="293.71">0</text>
<text x="-9.1" y="245.33">50</text>
<text x="-9.1" y="196.95">100</text>
<text x="-9.1" y="148.56">150</text>
<text x="-9.1" y="100.18">200</text>
<text x="-9.1" y="51.8">250</text>
</g>
<text x="144.8" y="327.1" font-size="17.6" text-anchor="middle">arcsec</text>
<text font-size="17.6" text-anchor="middle" transform="translate(-36.7 146.05) rotate(-90)">arcsec</text>
<text x="145.4" y="-8.9" font-size="18.1" text-anchor="middle" letter-spacing="0.23">BH mass<tspan dx="4.6">∼</tspan><tspan dx="3.5">3</tspan><tspan font-style="italic">X</tspan>10<tspan font-size="12.67" dy="-6.6" dx="-0.6">9</tspan><tspan font-style="italic" dy="6.6" dx="1.2">M</tspan><tspan font-size="12.67" dy="2.9" dx="1.3">⊙</tspan><tspan dy="-2.9">, z=0.9927</tspan></text>
<rect x="310.65" y="0" width="14" height="290.3" fill="url(#cbar)" stroke="#161616" stroke-width="0.95"/>
<path d="M325.05 258.35h3.9M325.05 213.1h3.9M325.05 167.85h3.9M325.05 122.6h3.9M325.05 77.35h3.9M325.05 32.1h3.9" stroke="#404040" stroke-width="1.05" fill="none"/>
<g font-size="13">
<text x="332.55" y="263.25">30</text>
<text x="332.55" y="218">40</text>
<text x="332.55" y="172.75">50</text>
<text x="332.55" y="127.5">60</text>
<text x="332.55" y="82.25">70</text>
<text x="332.55" y="37">80</text>
</g>
<text font-size="15.4" text-anchor="middle" transform="translate(366.25 144.25) rotate(-90)">Flux in <tspan font-style="italic">μ</tspan>Jy/beam</text>
</g>
<g transform="translate(103.95 882.75)">
<g clip-path="url(#cc)">
<circle cx="147.05" cy="146.1" r="132.2" fill="#11006c"/>
<ellipse cx="267.7" cy="131.42" rx="1.5" ry="1.5" fill="url(#g0)"/><ellipse rx="2.33" ry="1.25" fill="url(#g0)" transform="translate(261.33 188.31) rotate(90)"/><ellipse cx="209.68" cy="254.75" rx="1.66" ry="1.66" fill="url(#g0)"/><ellipse rx="6.51" ry="0.98" fill="url(#g0)" transform="translate(200.32 32.23) rotate(-33)"/><ellipse rx="7.46" ry="0.99" fill="url(#g0)" transform="translate(98.98 264.57) rotate(-35)"/><ellipse rx="3.26" ry="0.98" fill="url(#g0)" transform="translate(144.83 270.65) rotate(-60)"/><ellipse rx="3.3" ry="1.56" fill="url(#g1)" transform="translate(248.51 76.67) rotate(-35)"/><ellipse rx="3.04" ry="1.21" fill="url(#g1)" transform="translate(260.68 116.44) rotate(-35)"/><ellipse rx="2.32" ry="1.82" fill="url(#g0)" transform="translate(62.49 217.5) rotate(-60)"/><ellipse rx="2.34" ry="1.4" fill="url(#g1)" transform="translate(45.18 64.51) rotate(-50)"/><ellipse rx="2.34" ry="1.68" fill="url(#g1)" transform="translate(244.3 60.3) rotate(30)"/><ellipse rx="2.8" ry="1.4" fill="url(#g1)" transform="translate(118.63 273.46) rotate(-10)"/><ellipse rx="4.18" ry="2.05" fill="url(#g1)" transform="translate(261.61 161.64) rotate(80)"/><ellipse rx="3.3" ry="2.36" fill="url(#g2)" transform="translate(37.69 117.19) rotate(10)"/><ellipse rx="3.82" ry="2.67" fill="url(#g2)" transform="translate(31.14 130.67) rotate(70)"/><ellipse rx="2.87" ry="1.91" fill="url(#g2)" transform="translate(21.32 145.45) rotate(20)"/><ellipse cx="234.01" cy="179.42" rx="2.18" ry="1.6" fill="url(#g0)"/><ellipse cx="235.41" cy="226.49" rx="3.06" ry="2.39" fill="url(#g2)"/><ellipse rx="2.56" ry="2.2" fill="url(#g0)" transform="translate(168.98 240.24) rotate(-20)"/><ellipse rx="3.02" ry="2.51" fill="url(#g3)" transform="translate(131.27 23.99) rotate(30)"/><ellipse rx="4.8" ry="2.5" fill="url(#g3)" transform="translate(121.44 34.38) rotate(30)"/><ellipse cx="145.02" cy="37.56" rx="2.91" ry="2.91" fill="url(#g2)"/><ellipse cx="55.19" cy="116.44" rx="1.8" ry="3.28" fill="url(#g1)"/><ellipse rx="3.29" ry="2.6" fill="url(#g1)" transform="translate(48.73 132.35) rotate(-10)"/><ellipse rx="5.53" ry="2.21" fill="url(#g3)" transform="translate(224.65 52.81) rotate(70)"/><ellipse cx="107.87" cy="236.5" rx="2.99" ry="2.73" fill="url(#g1)"/><ellipse cx="221.66" cy="237.44" rx="3.22" ry="2.82" fill="url(#g3)"/><ellipse rx="6.03" ry="1.41" fill="url(#g3)" transform="translate(142.31 270.65) rotate(-55)"/><ellipse rx="4.19" ry="2.93" fill="url(#g4)" transform="translate(102.54 35.31) rotate(40)"/><ellipse rx="5.67" ry="2.27" fill="url(#g3)" transform="translate(40.03 162.11) rotate(15)"/><ellipse rx="6.05" ry="3.3" fill="url(#g5)" transform="translate(64.83 48.13) rotate(80)"/><ellipse rx="4.58" ry="3.05" fill="url(#g5)" transform="translate(90.56 48.13) rotate(25)"/><ellipse rx="3.86" ry="2.7" fill="url(#g2)" transform="translate(127.71 50.94) rotate(-10)"/><ellipse rx="3.85" ry="2.75" fill="url(#g5)" transform="translate(259.28 82.1) rotate(30)"/><ellipse rx="4.3" ry="2.69" fill="url(#g5)" transform="translate(249.73 108.02) rotate(5)"/><ellipse rx="4.61" ry="3.3" fill="url(#g5)" transform="translate(61.08 81.17) rotate(30)"/><ellipse rx="2.88" ry="2.52" fill="url(#g0)" transform="translate(68.1 122.53) rotate(20)"/><ellipse cx="152.13" cy="17.25" rx="3.96" ry="3.96" fill="url(#g6)"/><ellipse cx="80.27" cy="214.98" rx="4.45" ry="3.17" fill="url(#g3)"/><ellipse rx="4.95" ry="2.77" fill="url(#g3)" transform="translate(123.31 239.03) rotate(-20)"/><ellipse rx="5.29" ry="3.29" fill="url(#g7)" transform="translate(51.26 230.42) rotate(-70)"/><ellipse rx="3.57" ry="3.21" fill="url(#g0)" transform="translate(187.22 149.01) rotate(60)"/><ellipse rx="4.4" ry="4.95" fill="url(#g5)" transform="translate(55.47 110.83) rotate(90)"/><ellipse rx="4.57" ry="4.21" fill="url(#g8)" transform="translate(249.45 90.06) rotate(90)"/><ellipse rx="3.04" ry="2.03" fill="url(#g0)" transform="translate(120.32 195.14) rotate(10)"/><ellipse rx="3.62" ry="2.53" fill="url(#g0)" transform="translate(182.08 208.43) rotate(20)"/><ellipse rx="7.69" ry="4.5" fill="url(#g8)" transform="translate(200.51 242.11) rotate(30)"/><ellipse rx="4.67" ry="2.82" fill="url(#g1)" transform="translate(126.12 81.54) rotate(-25)"/><ellipse rx="5.68" ry="3.06" fill="url(#g1)" transform="translate(170.57 70.12) rotate(80)"/><ellipse rx="5.59" ry="2.3" fill="url(#g1)" transform="translate(72.31 158.55) rotate(-25)"/><ellipse rx="4.43" ry="3.62" fill="url(#g1)" transform="translate(142.03 185.5) rotate(20)"/><ellipse rx="6.16" ry="3.08" fill="url(#g9)" transform="translate(145.3 258.49) rotate(90)"/><ellipse rx="3.16" ry="2.53" fill="url(#g1)" transform="translate(200.32 207.49) rotate(25)"/><ellipse rx="3.4" ry="2.86" fill="url(#g1)" transform="translate(159.15 225.93) rotate(15)"/><ellipse rx="8.8" ry="3.52" fill="url(#g7)" transform="translate(48.45 164.45) rotate(22)"/><ellipse rx="6.71" ry="3.42" fill="url(#g9)" transform="translate(234.95 207.96) rotate(-10)"/><ellipse rx="10.61" ry="5.24" fill="url(#g11)" transform="translate(255.06 212.17) rotate(-45)"/><ellipse rx="3.68" ry="3.33" fill="url(#g1)" transform="translate(98.33 123.18) rotate(10)"/><ellipse rx="3.94" ry="3.06" fill="url(#g1)" transform="translate(78.4 135.16) rotate(80)"/><ellipse rx="4.4" ry="3.14" fill="url(#g12)" transform="translate(138.28 275.8) rotate(-20)"/><ellipse rx="4.38" ry="3.5" fill="url(#g1)" transform="translate(193.31 178.48) rotate(60)"/><ellipse rx="3.94" ry="3.06" fill="url(#g1)" transform="translate(184.88 197.2) rotate(70)"/><ellipse rx="6.22" ry="3.11" fill="url(#g11)" transform="translate(146.99 257.55) rotate(-50)"/><ellipse rx="7.54" ry="3.67" fill="url(#g4)" transform="translate(77.93 95.86) rotate(-22)"/><ellipse rx="3.69" ry="3.51" fill="url(#g2)" transform="translate(176.46 187.84) rotate(40)"/><ellipse rx="7.43" ry="4.33" fill="url(#g12)" transform="translate(153.07 252.87) rotate(-25)"/><ellipse rx="5.71" ry="5.33" fill="url(#g14)" transform="translate(41.9 86.97) rotate(-30)"/><ellipse rx="7.52" ry="3.22" fill="url(#g5)" transform="translate(192.37 220.12) rotate(50)"/><ellipse rx="6.57" ry="4.18" fill="url(#g10)" transform="translate(223.72 208.71) rotate(25)"/><ellipse rx="7.64" ry="4.84" fill="url(#g14)" transform="translate(24.12 150.41) rotate(50)"/><ellipse rx="7.62" ry="5.72" fill="url(#g14)" transform="translate(69.32 230.42) rotate(80)"/><ellipse rx="5.67" ry="3.4" fill="url(#g8)" transform="translate(180.39 230.88) rotate(85)"/><ellipse rx="4.09" ry="3.7" fill="url(#g3)" transform="translate(196.11 161.36) rotate(-20)"/><ellipse cx="24.59" cy="100.54" rx="4.48" ry="3.84" fill="url(#g15)"/><ellipse rx="5.45" ry="3.47" fill="url(#g4)" transform="translate(222.31 143.58) rotate(75)"/><ellipse cx="120.97" cy="181.95" rx="6.1" ry="3.74" fill="url(#g4)"/><ellipse rx="7.38" ry="3.45" fill="url(#g4)" transform="translate(209.21 174.09) rotate(-18)"/><ellipse rx="4.73" ry="4.14" fill="url(#g4)" transform="translate(161.49 179.61) rotate(-15)"/><ellipse rx="5.7" ry="4.81" fill="url(#g15)" transform="translate(246.92 192.52) rotate(80)"/><ellipse rx="10.87" ry="4.23" fill="url(#g13)" transform="translate(89.62 67.78) rotate(55)"/><ellipse cx="109.74" cy="256.62" rx="5.78" ry="5.78" fill="url(#g17)"/><ellipse rx="6.25" ry="5.25" fill="url(#g15)" transform="translate(182.26 49.26) rotate(25)"/><ellipse rx="4.3" ry="3.89" fill="url(#g5)" transform="translate(124.43 209.83) rotate(-10)"/><ellipse cx="172.53" cy="272.71" rx="5.16" ry="4.52" fill="url(#g18)"/><ellipse rx="6.18" ry="4.64" fill="url(#g5)" transform="translate(106 140.3) rotate(75)"/><ellipse cx="222.31" cy="64.98" rx="6.4" ry="6.4" fill="url(#g17)"/><ellipse rx="5.81" ry="4.91" fill="url(#g18)" transform="translate(263.02 97.92) rotate(-15)"/><ellipse rx="8.07" ry="4.84" fill="url(#g7)" transform="translate(216.23 104.28) rotate(-12)"/><ellipse cx="226.06" cy="119.25" rx="4.65" ry="4.65" fill="url(#g9)"/><ellipse cx="212.21" cy="223.12" rx="6.01" ry="6.01" fill="url(#g17)"/><ellipse rx="6.76" ry="5.85" fill="url(#g21)" transform="translate(42.84 211.7) rotate(80)"/><ellipse rx="6.25" ry="4.77" fill="url(#g11)" transform="translate(62.96 145.92) rotate(70)"/><ellipse rx="6.27" ry="4.87" fill="url(#g9)" transform="translate(140.15 204.68) rotate(75)"/><ellipse cx="191.43" cy="265.98" rx="6.18" ry="6.44" fill="url(#g22)"/><ellipse rx="6.85" ry="2.4" fill="url(#g2)" transform="translate(122.02 103.71) rotate(-8)"/><ellipse rx="3.08" ry="4.11" fill="url(#g8)" transform="translate(106.3 140.2) rotate(80)"/><ellipse rx="3.42" ry="2.74" fill="url(#g2)" transform="translate(187.71 149.75) rotate(20)"/><ellipse rx="5.14" ry="3.08" fill="url(#g6)" transform="translate(172.83 157.04) rotate(-25)"/><ellipse cx="161.04" cy="178.94" rx="5.14" ry="4.45" fill="url(#g9)"/><ellipse rx="4.79" ry="2.74" fill="url(#g8)" transform="translate(121.74 181.19) rotate(5)"/><ellipse cx="141.11" cy="184.84" rx="4.11" ry="3.42" fill="url(#g4)"/><ellipse cx="118.09" cy="165.19" rx="2.05" ry="1.71" fill="url(#g0)"/><ellipse cx="193.32" cy="178.66" rx="2.05" ry="2.74" fill="url(#g2)"/><g filter="url(#bl1)"><path d="M140.54 108.48C141.29 107.54 143.07 106.33 144.47 106.23C145.88 106.14 147.47 106.98 148.97 107.92C150.46 108.85 151.96 110.54 153.46 111.85C154.95 113.16 156.73 114.47 157.95 115.78C159.17 117.09 160.10 118.30 160.76 119.71C161.41 121.11 161.50 122.70 161.88 124.20C162.25 125.70 162.35 127.66 163.00 128.69C163.66 129.72 164.59 130.52 165.81 130.38C167.03 130.24 168.85 128.74 170.30 127.85C171.75 126.96 173.58 125.32 174.51 125.04C175.45 124.76 176.43 125.18 175.92 126.16C175.40 127.15 172.92 129.39 171.42 130.94C169.93 132.48 168.15 134.02 166.93 135.43C165.72 136.83 165.15 138.05 164.12 139.36C163.10 140.67 161.41 141.89 160.76 143.29C160.10 144.69 160.48 146.47 160.19 147.78C159.91 149.09 160.01 150.03 159.07 151.15C158.14 152.27 155.80 153.39 154.58 154.52C153.36 155.64 152.52 156.67 151.77 157.89C151.02 159.10 150.09 160.23 150.09 161.82C150.09 163.41 151.40 165.09 151.77 167.43C152.15 169.77 152.62 173.70 152.33 175.85C152.05 178.00 150.98 179.41 150.09 180.34C149.20 181.28 147.70 182.03 147.00 181.47C146.30 180.91 146.30 178.47 145.88 176.98C145.46 175.48 145.46 173.37 144.47 172.48C143.49 171.59 141.48 171.64 139.98 171.64C138.49 171.64 136.80 172.91 135.49 172.48C134.18 172.06 132.78 170.43 132.12 169.12C131.47 167.81 132.22 166.03 131.56 164.62C130.91 163.22 129.13 162.00 128.19 160.69C127.26 159.38 125.95 157.98 125.95 156.76C125.95 155.55 127.16 154.42 128.19 153.39C129.22 152.37 131.56 151.71 132.12 150.59C132.68 149.46 132.12 147.87 131.56 146.66C131.00 145.44 129.13 144.60 128.75 143.29C128.38 141.98 128.66 140.39 129.32 138.80C129.97 137.21 132.03 135.43 132.68 133.74C133.34 132.06 132.40 130.19 133.25 128.69C134.09 127.19 136.05 125.70 137.74 124.76C139.42 123.83 142.13 123.92 143.35 123.08C144.57 122.23 145.41 120.92 145.04 119.71C144.66 118.49 141.95 117.09 141.11 115.78C140.26 114.47 140.08 113.06 139.98 111.85C139.89 110.63 139.80 109.41 140.54 108.48Z" fill="#2200fa"/><path d="M135.49 127.57C136.80 126.59 140.17 125.84 142.23 125.60C144.29 125.37 146.25 126.49 147.84 126.16C149.43 125.84 150.42 124.34 151.77 123.64C153.13 122.94 154.58 121.67 155.98 121.95C157.39 122.23 159.21 123.83 160.19 125.32C161.18 126.82 161.32 129.25 161.88 130.94C162.44 132.62 163.56 133.84 163.56 135.43C163.56 137.02 162.63 139.08 161.88 140.48C161.13 141.89 159.63 142.54 159.07 143.85C158.51 145.16 159.12 146.98 158.51 148.34C157.90 149.70 156.59 150.82 155.42 151.99C154.25 153.16 152.57 154.19 151.49 155.36C150.42 156.53 149.76 157.75 148.97 159.01C148.17 160.27 147.75 162.47 146.72 162.94C145.69 163.41 144.29 162.80 142.79 161.82C141.29 160.83 139.37 158.40 137.74 157.04C136.10 155.69 134.09 155.22 132.96 153.68C131.84 152.13 131.23 149.70 131.00 147.78C130.77 145.86 131.19 144.04 131.56 142.17C131.94 140.29 132.78 138.33 133.25 136.55C133.71 134.77 133.99 133.00 134.37 131.50C134.74 130.00 134.18 128.55 135.49 127.57Z" fill="#3050fa"/><path d="M137.18 128.69C138.30 127.85 140.45 127.19 142.23 127.01C144.01 126.82 146.25 127.85 147.84 127.57C149.43 127.29 150.46 125.98 151.77 125.32C153.08 124.67 154.49 123.45 155.70 123.64C156.92 123.83 158.23 125.23 159.07 126.45C159.91 127.66 160.19 129.44 160.76 130.94C161.32 132.43 162.44 133.93 162.44 135.43C162.44 136.93 161.50 138.61 160.76 139.92C160.01 141.23 158.51 141.98 157.95 143.29C157.39 144.60 157.95 146.47 157.39 147.78C156.83 149.09 155.70 150.03 154.58 151.15C153.46 152.27 151.77 153.39 150.65 154.52C149.53 155.64 148.69 156.76 147.84 157.89C147.00 159.01 146.53 160.88 145.60 161.25C144.66 161.63 143.54 161.07 142.23 160.13C140.92 159.20 139.14 156.86 137.74 155.64C136.33 154.42 134.74 154.14 133.81 152.83C132.87 151.52 132.31 149.56 132.12 147.78C131.94 146.00 132.31 144.04 132.68 142.17C133.06 140.29 133.90 138.24 134.37 136.55C134.84 134.87 135.02 133.37 135.49 132.06C135.96 130.75 136.05 129.53 137.18 128.69Z" fill="#6ae0ee"/><path d="M138.86 130.38C139.89 129.53 141.76 129.35 143.35 129.25C144.94 129.16 146.81 130.19 148.40 129.81C150.00 129.44 151.59 127.66 152.90 127.01C154.21 126.35 155.33 125.51 156.26 125.88C157.20 126.26 157.86 127.85 158.51 129.25C159.17 130.66 160.01 132.71 160.19 134.31C160.38 135.90 160.19 137.49 159.63 138.80C159.07 140.11 157.48 140.86 156.83 142.17C156.17 143.48 156.36 145.35 155.70 146.66C155.05 147.97 154.02 149.00 152.90 150.03C151.77 151.06 150.37 152.18 148.97 152.83C147.56 153.49 145.97 153.96 144.47 153.96C142.98 153.96 141.39 153.58 139.98 152.83C138.58 152.08 136.89 150.77 136.05 149.46C135.21 148.15 134.93 146.66 134.93 144.97C134.93 143.29 135.68 141.14 136.05 139.36C136.43 137.58 136.71 135.80 137.18 134.31C137.64 132.81 137.83 131.22 138.86 130.38Z" fill="#98f87e"/><path d="M139.98 131.50C140.73 130.80 142.04 130.56 143.35 130.66C144.66 130.75 146.35 132.01 147.84 132.06C149.34 132.11 151.02 131.22 152.33 130.94C153.64 130.66 154.67 130.00 155.70 130.38C156.73 130.75 158.00 132.15 158.51 133.18C159.03 134.21 159.17 135.43 158.79 136.55C158.42 137.67 157.06 138.98 156.26 139.92C155.47 140.86 154.49 141.04 154.02 142.17C153.55 143.29 153.93 145.35 153.46 146.66C152.99 147.97 152.33 149.23 151.21 150.03C150.09 150.82 148.22 151.29 146.72 151.43C145.22 151.57 143.63 151.38 142.23 150.87C140.82 150.35 139.19 149.42 138.30 148.34C137.41 147.27 136.99 145.91 136.89 144.41C136.80 142.91 137.41 140.95 137.74 139.36C138.06 137.77 138.49 136.18 138.86 134.87C139.23 133.56 139.23 132.20 139.98 131.50Z" fill="#ecff38"/><path d="M140.43 132.06C141.13 131.15 142.26 130.99 143.35 131.11C144.45 131.22 145.88 132.01 147.00 132.73C148.12 133.45 149.20 134.42 150.09 135.43C150.98 136.44 151.89 137.39 152.33 138.80C152.78 140.20 152.83 142.31 152.78 143.85C152.74 145.39 152.69 146.96 152.05 148.06C151.42 149.17 150.23 150.04 148.97 150.48C147.70 150.92 145.90 150.92 144.47 150.70C143.05 150.48 141.55 149.93 140.43 149.18C139.31 148.44 138.17 147.47 137.74 146.21C137.31 144.94 137.62 143.21 137.85 141.60C138.08 139.99 138.71 138.14 139.14 136.55C139.57 134.96 139.73 132.97 140.43 132.06Z" fill="#e5b428"/><path d="M140.82 132.73C141.40 131.92 142.39 131.78 143.35 131.95C144.32 132.12 145.63 132.84 146.61 133.74C147.59 134.65 148.48 136.27 149.25 137.39C150.01 138.52 150.81 139.36 151.21 140.48C151.61 141.60 151.68 142.96 151.66 144.13C151.64 145.30 151.60 146.61 151.10 147.50C150.60 148.39 149.79 149.09 148.69 149.46C147.58 149.84 145.78 149.93 144.47 149.75C143.16 149.56 141.78 148.97 140.82 148.34C139.87 147.71 139.09 147.11 138.75 145.98C138.40 144.86 138.56 143.13 138.75 141.60C138.93 140.08 139.52 138.31 139.87 136.83C140.22 135.35 140.24 133.55 140.82 132.73Z" fill="#d86b22"/><path d="M141.39 133.74C142.04 133.00 143.02 132.90 143.91 133.18C144.80 133.46 145.88 134.31 146.72 135.43C147.56 136.55 148.40 138.42 148.97 139.92C149.53 141.42 150.00 143.10 150.09 144.41C150.18 145.72 150.09 147.03 149.53 147.78C148.97 148.53 147.84 148.81 146.72 148.90C145.60 149.00 143.91 148.81 142.79 148.34C141.67 147.87 140.59 147.13 139.98 146.10C139.37 145.07 139.14 143.57 139.14 142.17C139.14 140.76 139.61 139.08 139.98 137.67C140.36 136.27 140.73 134.49 141.39 133.74Z" fill="#d1311f"/><path d="M142.12 134.59C142.67 133.65 143.44 133.93 144.14 134.31C144.83 134.68 145.67 135.71 146.27 136.83C146.87 137.95 147.38 139.83 147.73 141.04C148.09 142.26 148.43 143.24 148.40 144.13C148.38 145.02 148.12 145.91 147.56 146.38C147.00 146.84 145.83 147.00 145.04 146.94C144.24 146.87 143.44 146.59 142.79 145.98C142.13 145.38 141.43 144.30 141.11 143.29C140.78 142.28 140.66 141.37 140.82 139.92C140.99 138.47 141.56 135.52 142.12 134.59Z" fill="#ad1a19"/><path d="M142.79 135.43C143.16 134.68 143.96 134.87 144.47 135.43C144.99 135.99 145.60 137.67 145.88 138.80C146.16 139.92 146.30 141.23 146.16 142.17C146.02 143.10 145.50 144.22 145.04 144.41C144.57 144.60 143.82 144.04 143.35 143.29C142.88 142.54 142.32 141.23 142.23 139.92C142.13 138.61 142.42 136.18 142.79 135.43Z" fill="#6a0e10"/></g><g filter="url(#bl1)"><path d="M157.11 135.43C157.11 135.83 156.89 136.34 156.61 136.62C156.33 136.90 155.82 137.11 155.42 137.11C155.03 137.11 154.51 136.90 154.23 136.62C153.95 136.34 153.74 135.83 153.74 135.43C153.74 135.03 153.95 134.52 154.23 134.24C154.51 133.96 155.03 133.74 155.42 133.74C155.82 133.74 156.33 133.96 156.61 134.24C156.89 134.52 157.11 135.03 157.11 135.43Z" fill="#de8c24"/><path d="M147.67 112.41C147.67 112.96 147.38 113.68 146.98 114.08C146.59 114.47 145.87 114.77 145.32 114.77C144.76 114.77 144.04 114.47 143.65 114.08C143.26 113.68 142.96 112.96 142.96 112.41C142.96 111.85 143.26 111.13 143.65 110.74C144.04 110.35 144.76 110.05 145.32 110.05C145.87 110.05 146.59 110.35 146.98 110.74C147.38 111.13 147.67 111.85 147.67 112.41Z" fill="#3b72f8"/><path d="M138.41 167.43C138.41 167.99 138.11 168.71 137.72 169.10C137.33 169.49 136.61 169.79 136.05 169.79C135.50 169.79 134.78 169.49 134.39 169.10C133.99 168.71 133.69 167.99 133.69 167.43C133.69 166.88 133.99 166.16 134.39 165.76C134.78 165.37 135.50 165.07 136.05 165.07C136.61 165.07 137.33 165.37 137.72 165.76C138.11 166.16 138.41 166.88 138.41 167.43Z" fill="#4283f8"/></g>
</g>
<rect x="0" y="0" width="290.8" height="290.3" fill="none" stroke="#404040" stroke-width="1.15"/>
<path d="M0.48 290.3v3.9M0 289.81h-3.9M48.95 290.3v3.9M0 241.43h-3.9M97.42 290.3v3.9M0 193.05h-3.9M145.89 290.3v3.9M0 144.66h-3.9M194.35 290.3v3.9M0 96.28h-3.9M242.82 290.3v3.9M0 47.9h-3.9" stroke="#404040" stroke-width="1.05" fill="none"/>
<g font-size="10.4" text-anchor="middle">
<text x="0.48" y="306.9">0</text>
<text x="48.95" y="306.9">50</text>
<text x="97.42" y="306.9">100</text>
<text x="145.89" y="306.9">150</text>
<text x="194.35" y="306.9">200</text>
<text x="242.82" y="306.9">250</text>
</g>
<g font-size="10.4" text-anchor="end">
<text x="-9.1" y="293.71">0</text>
<text x="-9.1" y="245.33">50</text>
<text x="-9.1" y="196.95">100</text>
<text x="-9.1" y="148.56">150</text>
<text x="-9.1" y="100.18">200</text>
<text x="-9.1" y="51.8">250</text>
</g>
<text x="144.8" y="327.1" font-size="17.6" text-anchor="middle">arcsec</text>
<text font-size="17.6" text-anchor="middle" transform="translate(-36.7 146.05) rotate(-90)">arcsec</text>
<text x="145.4" y="-8.9" font-size="18.1" text-anchor="middle" letter-spacing="0.23">BH mass<tspan dx="4.6">∼</tspan><tspan dx="3.5">10</tspan><tspan font-size="12.67" dy="-6.6" dx="-0.6">10</tspan><tspan font-style="italic" dy="6.6" dx="1.2">M</tspan><tspan font-size="12.67" dy="2.9" dx="1.3">⊙</tspan><tspan dy="-2.9">, z=0.016</tspan></text>
<rect x="310.65" y="0" width="14" height="290.3" fill="url(#cbar)" stroke="#161616" stroke-width="0.95"/>
<path d="M325.05 287.06h3.9M325.05 248.38h3.9M325.05 209.7h3.9M325.05 171.02h3.9M325.05 132.34h3.9M325.05 93.66h3.9M325.05 54.98h3.9M325.05 16.3h3.9" stroke="#404040" stroke-width="1.05" fill="none"/>
<g font-size="13">
<text x="332.55" y="291.96">25</text>
<text x="332.55" y="253.28">50</text>
<text x="332.55" y="214.6">75</text>
<text x="332.55" y="175.92">100</text>
<text x="332.55" y="137.24">125</text>
<text x="332.55" y="98.56">150</text>
<text x="332.55" y="59.88">175</text>
<text x="332.55" y="21.2">200</text>
</g>
<text font-size="15.4" text-anchor="middle" transform="translate(374.55 144.25) rotate(-90)">Flux in <tspan font-style="italic">μ</tspan>Jy/beam</text>
</g>
<g transform="translate(646.73 882.75)">
<g clip-path="url(#cc)">
<circle cx="147.05" cy="146.1" r="132.2" fill="#11006c"/>
<g filter="url(#bl2)"><path d="M119.71 119.17C121.21 115.55 123.70 110.56 127.20 107.94C130.69 105.32 135.93 103.83 140.67 103.45C145.41 103.08 150.65 105.20 155.64 105.70C160.63 106.20 166.25 105.20 170.62 106.45C174.98 107.69 178.97 110.31 181.84 113.18C184.71 116.05 185.96 119.67 187.83 123.66C189.70 127.66 191.70 133.27 193.07 137.14C194.45 141.01 196.32 144.12 196.07 146.87C195.82 149.61 193.95 151.98 191.58 153.61C189.21 155.23 184.71 154.98 181.84 156.60C178.97 158.22 176.48 160.34 174.36 163.34C172.24 166.33 171.24 171.45 169.12 174.57C167.00 177.69 164.38 181.18 161.63 182.05C158.89 182.93 155.39 181.30 152.65 179.81C149.90 178.31 147.66 175.19 145.16 173.07C142.67 170.95 139.67 169.58 137.68 167.08C135.68 164.59 134.68 161.22 133.19 158.10C131.69 154.98 130.57 151.61 128.69 148.37C126.82 145.12 123.70 141.75 121.96 138.63C120.21 135.52 118.59 132.90 118.21 129.65C117.84 126.41 118.21 122.79 119.71 119.17Z" fill="#130083"/><path d="M123.45 119.92C124.76 117.30 127.20 112.37 130.19 110.19C133.19 108.00 137.80 106.82 141.42 106.82C145.04 106.82 148.28 109.75 151.90 110.19C155.52 110.62 159.89 109.69 163.13 109.44C166.37 109.19 168.62 107.69 171.36 108.69C174.11 109.69 177.73 112.68 179.60 115.43C181.47 118.17 181.72 121.79 182.59 125.16C183.47 128.53 184.46 132.40 184.84 135.64C185.21 138.88 185.96 142.25 184.84 144.62C183.72 146.99 180.47 148.24 178.10 149.86C175.73 151.49 172.61 152.11 170.62 154.36C168.62 156.60 168.00 160.84 166.12 163.34C164.25 165.83 161.76 168.33 159.39 169.33C157.02 170.33 154.27 170.20 151.90 169.33C149.53 168.45 147.28 166.21 145.16 164.09C143.04 161.97 140.80 159.22 139.17 156.60C137.55 153.98 136.80 150.99 135.43 148.37C134.06 145.75 132.81 143.50 130.94 140.88C129.07 138.26 125.64 135.14 124.20 132.65C122.77 130.15 122.46 128.03 122.33 125.91C122.21 123.79 122.14 122.54 123.45 119.92Z" fill="#1700a5"/><path d="M127.20 119.17C128.44 117.30 130.69 113.93 133.19 112.43C135.68 110.94 139.42 109.94 142.17 110.19C144.91 110.44 146.79 113.43 149.65 113.93C152.52 114.43 156.14 113.43 159.39 113.18C162.63 112.93 166.37 111.69 169.12 112.43C171.86 113.18 174.36 115.43 175.86 117.67C177.35 119.92 177.60 123.16 178.10 125.91C178.60 128.65 179.10 131.52 178.85 134.14C178.60 136.76 177.98 139.26 176.60 141.63C175.23 144.00 172.61 146.25 170.62 148.37C168.62 150.49 166.25 152.36 164.63 154.36C163.00 156.35 162.38 158.60 160.88 160.34C159.39 162.09 157.52 164.21 155.64 164.84C153.77 165.46 151.65 165.21 149.65 164.09C147.66 162.96 145.41 160.34 143.67 158.10C141.92 155.85 140.42 153.11 139.17 150.61C137.93 148.12 137.55 145.37 136.18 143.13C134.81 140.88 132.56 139.38 130.94 137.14C129.32 134.89 127.32 131.90 126.45 129.65C125.58 127.41 125.58 125.41 125.70 123.66C125.82 121.92 125.95 121.04 127.20 119.17Z" fill="#2200fa"/><path d="M129.07 121.04C130.12 118.88 131.90 115.87 134.08 114.46C136.27 113.05 139.64 112.27 142.17 112.58C144.70 112.90 146.60 115.77 149.28 116.33C151.96 116.89 155.21 116.08 158.26 115.95C161.32 115.83 165.06 114.77 167.62 115.58C170.18 116.39 172.26 118.63 173.61 120.82C174.96 123.00 175.33 126.08 175.71 128.68C176.08 131.27 176.11 133.98 175.86 136.39C175.61 138.80 175.33 141.44 174.21 143.13C173.09 144.81 170.84 145.12 169.12 146.50C167.40 147.87 165.38 149.93 163.88 151.36C162.38 152.80 161.63 154.04 160.14 155.10C158.64 156.16 156.64 157.72 154.90 157.72C153.15 157.72 151.15 156.54 149.65 155.10C148.16 153.67 146.91 151.36 145.91 149.12C144.91 146.87 145.16 143.63 143.67 141.63C142.17 139.63 138.95 138.57 136.93 137.14C134.91 135.70 133.06 134.64 131.54 133.02C130.02 131.40 128.21 129.40 127.80 127.41C127.38 125.41 128.02 123.20 129.07 121.04Z" fill="#2925fd"/></g><g filter="url(#bl2)"><path d="M159.99 150.99C159.99 152.01 159.53 153.24 158.84 154.07C158.15 154.90 156.96 155.65 155.85 155.97C154.73 156.29 153.26 156.29 152.15 155.97C151.03 155.65 149.84 154.90 149.15 154.07C148.46 153.24 148.01 152.01 148.01 150.99C148.01 149.96 148.46 148.74 149.15 147.91C149.84 147.08 151.03 146.32 152.15 146.00C153.26 145.69 154.73 145.69 155.85 146.00C156.96 146.32 158.15 147.08 158.84 147.91C159.53 148.74 159.99 149.96 159.99 150.99Z" fill="#3050fa"/><path d="M157.07 153.23C157.07 153.89 156.81 154.68 156.42 155.21C156.03 155.75 155.37 156.23 154.74 156.44C154.11 156.64 153.28 156.64 152.66 156.44C152.03 156.23 151.36 155.75 150.97 155.21C150.58 154.68 150.33 153.89 150.33 153.23C150.33 152.57 150.58 151.79 150.97 151.25C151.36 150.72 152.03 150.23 152.66 150.03C153.28 149.82 154.11 149.82 154.74 150.03C155.37 150.23 156.03 150.72 156.42 151.25C156.81 151.79 157.07 152.57 157.07 153.23Z" fill="#3869f9"/></g><g filter="url(#bl2)"><path d="M130.19 122.17C131.06 120.54 132.69 117.42 134.68 116.18C136.68 114.93 139.80 114.31 142.17 114.68C144.54 115.05 146.41 117.80 148.91 118.42C151.40 119.05 154.27 118.42 157.14 118.42C160.01 118.42 163.75 117.55 166.12 118.42C168.49 119.30 170.18 121.54 171.36 123.66C172.55 125.78 173.11 128.65 173.24 131.15C173.36 133.64 173.05 136.39 172.11 138.63C171.18 140.88 169.37 143.00 167.62 144.62C165.87 146.25 163.63 147.87 161.63 148.37C159.64 148.87 157.64 148.37 155.64 147.62C153.65 146.87 151.65 145.37 149.65 143.88C147.66 142.38 145.79 140.26 143.67 138.63C141.55 137.01 138.93 135.64 136.93 134.14C134.93 132.65 132.94 131.02 131.69 129.65C130.44 128.28 129.69 127.16 129.44 125.91C129.19 124.66 129.32 123.79 130.19 122.17Z" fill="#5ec3f6"/><path d="M132.44 122.91C133.12 121.67 134.56 119.42 136.18 118.42C137.80 117.42 140.17 116.68 142.17 116.93C144.17 117.18 145.91 119.30 148.16 119.92C150.40 120.54 152.90 120.54 155.64 120.67C158.39 120.79 162.32 119.92 164.63 120.67C166.94 121.42 168.43 123.29 169.49 125.16C170.55 127.03 170.93 129.78 170.99 131.90C171.05 134.02 170.68 136.01 169.87 137.89C169.06 139.76 167.62 141.75 166.12 143.13C164.63 144.50 162.63 145.81 160.88 146.12C159.14 146.43 157.39 145.75 155.64 145.00C153.90 144.25 152.27 142.94 150.40 141.63C148.53 140.32 146.41 138.63 144.41 137.14C142.42 135.64 140.17 134.02 138.43 132.65C136.68 131.27 134.99 130.03 133.93 128.90C132.87 127.78 132.31 126.91 132.06 125.91C131.81 124.91 131.75 124.16 132.44 122.91Z" fill="#8cf88c"/><path d="M134.68 123.66C134.93 122.35 136.43 120.98 137.68 120.29C138.93 119.61 140.55 119.23 142.17 119.55C143.79 119.86 145.41 121.60 147.41 122.17C149.41 122.73 151.53 122.79 154.15 122.91C156.77 123.04 160.88 122.29 163.13 122.91C165.38 123.54 166.69 125.16 167.62 126.66C168.56 128.15 168.74 130.15 168.74 131.90C168.74 133.64 168.37 135.52 167.62 137.14C166.87 138.76 165.50 140.51 164.25 141.63C163.00 142.75 161.57 143.69 160.14 143.88C158.70 144.06 157.14 143.50 155.64 142.75C154.15 142.00 152.77 140.57 151.15 139.38C149.53 138.20 147.66 137.01 145.91 135.64C144.17 134.27 142.29 132.40 140.67 131.15C139.05 129.90 137.18 129.40 136.18 128.15C135.18 126.91 134.43 124.97 134.68 123.66Z" fill="#cbfc4c"/><path d="M148.16 125.53C149.26 124.29 151.90 124.04 154.15 123.81C156.39 123.59 159.64 123.56 161.63 124.19C163.63 124.81 165.19 126.15 166.12 127.56C167.06 128.97 167.25 130.92 167.25 132.65C167.25 134.37 166.94 136.39 166.12 137.89C165.31 139.38 163.75 140.88 162.38 141.63C161.01 142.38 159.39 142.60 157.89 142.38C156.39 142.15 154.75 141.25 153.40 140.28C152.05 139.31 150.78 138.04 149.80 136.54C148.83 135.04 147.83 133.13 147.56 131.30C147.28 129.46 147.06 126.78 148.16 125.53Z" fill="#eeec31"/><path d="M167.62 132.80C167.62 134.36 167.15 136.12 166.37 137.47C165.59 138.83 164.29 140.12 162.94 140.90C161.59 141.68 159.82 142.15 158.26 142.15C156.70 142.15 154.94 141.68 153.59 140.90C152.23 140.12 150.94 138.83 150.16 137.47C149.38 136.12 148.91 134.36 148.91 132.80C148.91 131.24 149.38 129.47 150.16 128.12C150.94 126.77 152.23 125.47 153.59 124.69C154.94 123.91 156.70 123.44 158.26 123.44C159.82 123.44 161.59 123.91 162.94 124.69C164.29 125.47 165.59 126.77 166.37 128.12C167.15 129.47 167.62 131.24 167.62 132.80Z" fill="#df9625"/><path d="M166.35 132.80C166.35 134.14 165.94 135.67 165.27 136.84C164.59 138.01 163.47 139.12 162.31 139.80C161.14 140.47 159.61 140.88 158.26 140.88C156.92 140.88 155.39 140.47 154.22 139.80C153.05 139.12 151.94 138.01 151.26 136.84C150.59 135.67 150.18 134.14 150.18 132.80C150.18 131.45 150.59 129.92 151.26 128.75C151.94 127.59 153.05 126.47 154.22 125.79C155.39 125.12 156.92 124.71 158.26 124.71C159.61 124.71 161.14 125.12 162.31 125.79C163.47 126.47 164.59 127.59 165.27 128.75C165.94 129.92 166.35 131.45 166.35 132.80Z" fill="#d76422"/><path d="M165.15 132.80C165.15 133.94 164.80 135.25 164.23 136.24C163.65 137.23 162.70 138.19 161.71 138.76C160.71 139.33 159.41 139.68 158.26 139.68C157.12 139.68 155.81 139.33 154.82 138.76C153.83 138.19 152.87 137.23 152.30 136.24C151.73 135.25 151.38 133.94 151.38 132.80C151.38 131.65 151.73 130.35 152.30 129.35C152.87 128.36 153.83 127.41 154.82 126.83C155.81 126.26 157.12 125.91 158.26 125.91C159.41 125.91 160.71 126.26 161.71 126.83C162.70 127.41 163.65 128.36 164.23 129.35C164.80 130.35 165.15 131.65 165.15 132.80Z" fill="#d1381f"/><path d="M163.65 132.80C163.65 133.69 163.38 134.71 162.93 135.49C162.48 136.27 161.74 137.01 160.96 137.46C160.18 137.91 159.16 138.19 158.26 138.19C157.37 138.19 156.35 137.91 155.57 137.46C154.79 137.01 154.05 136.27 153.60 135.49C153.15 134.71 152.87 133.69 152.87 132.80C152.87 131.90 153.15 130.88 153.60 130.10C154.05 129.32 154.79 128.58 155.57 128.13C156.35 127.68 157.37 127.41 158.26 127.41C159.16 127.41 160.18 127.68 160.96 128.13C161.74 128.58 162.48 129.32 162.93 130.10C163.38 130.88 163.65 131.90 163.65 132.80Z" fill="#b91d1b"/><path d="M162.16 132.87C162.16 133.52 161.96 134.26 161.63 134.82C161.31 135.38 160.77 135.92 160.21 136.24C159.65 136.57 158.91 136.76 158.26 136.76C157.61 136.76 156.88 136.57 156.32 136.24C155.76 135.92 155.22 135.38 154.89 134.82C154.57 134.26 154.37 133.52 154.37 132.87C154.37 132.22 154.57 131.49 154.89 130.92C155.22 130.36 155.76 129.82 156.32 129.50C156.88 129.18 157.61 128.98 158.26 128.98C158.91 128.98 159.65 129.18 160.21 129.50C160.77 129.82 161.31 130.36 161.63 130.92C161.96 131.49 162.16 132.22 162.16 132.87Z" fill="#8b1215"/><path d="M160.81 132.95C160.81 133.37 160.68 133.85 160.47 134.22C160.26 134.59 159.90 134.94 159.54 135.15C159.17 135.36 158.69 135.49 158.26 135.49C157.84 135.49 157.36 135.36 156.99 135.15C156.62 134.94 156.27 134.59 156.06 134.22C155.85 133.85 155.72 133.37 155.72 132.95C155.72 132.52 155.85 132.04 156.06 131.67C156.27 131.31 156.62 130.95 156.99 130.74C157.36 130.53 157.84 130.40 158.26 130.40C158.69 130.40 159.17 130.53 159.54 130.74C159.90 130.95 160.26 131.31 160.47 131.67C160.68 132.04 160.81 132.52 160.81 132.95Z" fill="#5f0c0f"/></g>
</g>
<rect x="0" y="0" width="290.8" height="290.3" fill="none" stroke="#404040" stroke-width="1.15"/>
<path d="M0.48 290.3v3.9M0 289.81h-3.9M48.95 290.3v3.9M0 241.43h-3.9M97.42 290.3v3.9M0 193.05h-3.9M145.89 290.3v3.9M0 144.66h-3.9M194.35 290.3v3.9M0 96.28h-3.9M242.82 290.3v3.9M0 47.9h-3.9" stroke="#404040" stroke-width="1.05" fill="none"/>
<g font-size="10.4" text-anchor="middle">
<text x="0.48" y="306.9">0</text>
<text x="48.95" y="306.9">50</text>
<text x="97.42" y="306.9">100</text>
<text x="145.89" y="306.9">150</text>
<text x="194.35" y="306.9">200</text>
<text x="242.82" y="306.9">250</text>
</g>
<g font-size="10.4" text-anchor="end">
<text x="-9.1" y="293.71">0</text>
<text x="-9.1" y="245.33">50</text>
<text x="-9.1" y="196.95">100</text>
<text x="-9.1" y="148.56">150</text>
<text x="-9.1" y="100.18">200</text>
<text x="-9.1" y="51.8">250</text>
</g>
<text x="144.8" y="327.1" font-size="17.6" text-anchor="middle">arcsec</text>
<text font-size="17.6" text-anchor="middle" transform="translate(-36.7 146.05) rotate(-90)">arcsec</text>
<text x="145.4" y="-8.9" font-size="18.1" text-anchor="middle" letter-spacing="0.23">BH mass<tspan dx="4.6">∼</tspan><tspan dx="3.5">10</tspan><tspan font-size="12.67" dy="-6.6" dx="-0.6">10</tspan><tspan font-style="italic" dy="6.6" dx="1.2">M</tspan><tspan font-size="12.67" dy="2.9" dx="1.3">⊙</tspan><tspan dy="-2.9">, z=0.016</tspan></text>
<rect x="310.65" y="0" width="14" height="290.3" fill="url(#cbar)" stroke="#161616" stroke-width="0.95"/>
<path d="M325.05 240.69h3.9M325.05 190.54h3.9M325.05 140.39h3.9M325.05 90.24h3.9M325.05 40.09h3.9" stroke="#404040" stroke-width="1.05" fill="none"/>
<g font-size="13">
<text x="332.55" y="245.59">1000</text>
<text x="332.55" y="195.44">2000</text>
<text x="332.55" y="145.29">3000</text>
<text x="332.55" y="95.14">4000</text>
<text x="332.55" y="44.99">5000</text>
</g>
<text font-size="15.4" text-anchor="middle" transform="translate(382.85 144.25) rotate(-90)">Flux in <tspan font-style="italic">μ</tspan>Jy/beam</text>
</g>
<g transform="translate(1189.51 882.75)">
<g clip-path="url(#cc)">
<circle cx="147.05" cy="146.1" r="132.2" fill="#11006c"/>
<ellipse cx="232.61" cy="83.22" rx="1.48" ry="1.48" fill="url(#g2)"/><ellipse cx="41.43" cy="192.52" rx="1.48" ry="1.48" fill="url(#g2)"/><ellipse rx="1.85" ry="1.48" fill="url(#g2)" transform="translate(166.82 199.54) rotate(40)"/><ellipse rx="3.08" ry="1.48" fill="url(#g3)" transform="translate(203.13 144.05) rotate(80)"/><ellipse rx="3.45" ry="1.73" fill="url(#g4)" transform="translate(76.99 57.02) rotate(10)"/><ellipse rx="3.08" ry="2.22" fill="url(#g4)" transform="translate(72.97 71.25) rotate(40)"/><ellipse cx="117.7" cy="104" rx="6.16" ry="1.48" fill="url(#g4)"/><ellipse cx="267.7" cy="131.42" rx="2.22" ry="2.22" fill="url(#g4)"/><ellipse cx="158.68" cy="136.09" rx="1.85" ry="1.85" fill="url(#g4)"/><ellipse cx="117.51" cy="165.85" rx="2.71" ry="1.97" fill="url(#g4)"/><ellipse rx="3.7" ry="1.48" fill="url(#g4)" transform="translate(146.99 180.82) rotate(-60)"/><ellipse rx="4.93" ry="1.48" fill="url(#g4)" transform="translate(199.57 191.3) rotate(30)"/><ellipse rx="3.45" ry="1.85" fill="url(#g4)" transform="translate(261.33 188.31) rotate(90)"/><ellipse cx="209.68" cy="254.75" rx="2.47" ry="2.47" fill="url(#g4)"/><ellipse rx="9.86" ry="1.48" fill="url(#g5)" transform="translate(200.32 32.23) rotate(-33)"/><ellipse rx="8.63" ry="1.48" fill="url(#g5)" transform="translate(188.16 95.86) rotate(-65)"/><ellipse rx="5.55" ry="1.48" fill="url(#g5)" transform="translate(104.6 242.58) rotate(-60)"/><ellipse rx="11.3" ry="1.51" fill="url(#g5)" transform="translate(98.98 264.57) rotate(-35)"/><ellipse rx="4.93" ry="1.48" fill="url(#g5)" transform="translate(144.83 270.65) rotate(-60)"/><ellipse rx="4.69" ry="2.22" fill="url(#g6)" transform="translate(248.51 76.67) rotate(-35)"/><ellipse rx="4.32" ry="1.73" fill="url(#g6)" transform="translate(260.68 116.44) rotate(-35)"/><ellipse cx="243.37" cy="121.12" rx="2.71" ry="1.97" fill="url(#g6)"/><ellipse cx="236.82" cy="132.35" rx="2.47" ry="2.22" fill="url(#g6)"/><ellipse rx="2.47" ry="1.85" fill="url(#g6)" transform="translate(90.09 165.57) rotate(-20)"/><ellipse rx="3.45" ry="2.71" fill="url(#g6)" transform="translate(62.49 217.5) rotate(-60)"/><ellipse rx="3.45" ry="2.22" fill="url(#g6)" transform="translate(135.2 245.39) rotate(70)"/><ellipse rx="3.08" ry="1.85" fill="url(#g8)" transform="translate(45.18 64.51) rotate(-50)"/><ellipse rx="3.08" ry="2.22" fill="url(#g8)" transform="translate(244.3 60.3) rotate(30)"/><ellipse rx="3.7" ry="2.47" fill="url(#g8)" transform="translate(202.19 98.38) rotate(30)"/><ellipse rx="3.7" ry="1.85" fill="url(#g8)" transform="translate(118.63 273.46) rotate(-10)"/><ellipse rx="4.93" ry="1.85" fill="url(#g8)" transform="translate(173.65 156.96) rotate(-35)"/><ellipse rx="5.55" ry="2.71" fill="url(#g8)" transform="translate(261.61 161.64) rotate(80)"/><ellipse rx="4.32" ry="2.71" fill="url(#g9)" transform="translate(123.03 64.79) rotate(-20)"/><ellipse rx="6.16" ry="3.7" fill="url(#g9)" transform="translate(124.25 103.62) rotate(-15)"/><ellipse rx="4.32" ry="3.08" fill="url(#g9)" transform="translate(37.69 117.19) rotate(10)"/><ellipse rx="4.93" ry="3.45" fill="url(#g9)" transform="translate(31.14 130.67) rotate(70)"/><ellipse rx="3.7" ry="2.47" fill="url(#g9)" transform="translate(21.32 145.45) rotate(20)"/><ellipse rx="4.93" ry="3.7" fill="url(#g9)" transform="translate(150.26 53.28) rotate(40)"/><ellipse rx="6.78" ry="2.71" fill="url(#g9)" transform="translate(202.94 83.41) rotate(-20)"/><ellipse rx="4.93" ry="4.32" fill="url(#g9)" transform="translate(175.53 115.04) rotate(60)"/><ellipse rx="3.7" ry="3.08" fill="url(#g9)" transform="translate(93.65 151.07) rotate(30)"/><ellipse cx="108.81" cy="146.67" rx="3.7" ry="2.47" fill="url(#g9)"/><ellipse cx="234.01" cy="179.42" rx="3.7" ry="2.71" fill="url(#g9)"/><ellipse cx="235.41" cy="226.49" rx="3.95" ry="3.08" fill="url(#g9)"/><ellipse rx="4.32" ry="3.7" fill="url(#g9)" transform="translate(168.98 240.24) rotate(-20)"/><ellipse cx="145.58" cy="166.32" rx="4.36" ry="4.36" fill="url(#g10)"/><ellipse rx="3.77" ry="3.14" fill="url(#g11)" transform="translate(131.27 23.99) rotate(30)"/><ellipse rx="6.03" ry="3.14" fill="url(#g11)" transform="translate(121.44 34.38) rotate(30)"/><ellipse cx="145.02" cy="37.56" rx="3.77" ry="3.77" fill="url(#g11)"/><ellipse cx="55.19" cy="116.44" rx="2.76" ry="5.02" fill="url(#g11)"/><ellipse rx="4.77" ry="3.77" fill="url(#g11)" transform="translate(48.73 132.35) rotate(-10)"/><ellipse rx="6.91" ry="2.76" fill="url(#g11)" transform="translate(224.65 52.81) rotate(70)"/><ellipse rx="8.16" ry="3.77" fill="url(#g11)" transform="translate(177.87 124.87) rotate(-35)"/><ellipse rx="7.53" ry="4.4" fill="url(#g11)" transform="translate(185.82 143.11) rotate(85)"/><ellipse rx="5.02" ry="3.52" fill="url(#g11)" transform="translate(128.27 226.02) rotate(25)"/><ellipse cx="107.87" cy="236.5" rx="4.4" ry="4.02" fill="url(#g11)"/><ellipse rx="5.27" ry="3.52" fill="url(#g11)" transform="translate(153.72 150.69) rotate(5)"/><ellipse rx="6.03" ry="4.4" fill="url(#g11)" transform="translate(218.57 189.06) rotate(85)"/><ellipse cx="221.66" cy="237.44" rx="4.02" ry="3.52" fill="url(#g11)"/><ellipse rx="7.53" ry="1.76" fill="url(#g11)" transform="translate(142.31 270.65) rotate(-55)"/><ellipse rx="5.11" ry="3.58" fill="url(#g13)" transform="translate(102.54 35.31) rotate(40)"/><ellipse rx="7.1" ry="2.84" fill="url(#g13)" transform="translate(40.03 162.11) rotate(15)"/><ellipse cx="76.52" cy="176.14" rx="4.9" ry="4.13" fill="url(#g13)"/><ellipse rx="7.22" ry="3.94" fill="url(#g14)" transform="translate(64.83 48.13) rotate(80)"/><ellipse rx="5.51" ry="3.68" fill="url(#g14)" transform="translate(90.56 48.13) rotate(25)"/><ellipse rx="5.25" ry="3.68" fill="url(#g14)" transform="translate(127.71 50.94) rotate(-10)"/><ellipse rx="7.88" ry="4.99" fill="url(#g14)" transform="translate(134.07 93.8) rotate(-10)"/><ellipse cx="145.02" cy="111.86" rx="4.59" ry="5.25" fill="url(#g14)"/><ellipse rx="7.22" ry="3.68" fill="url(#g14)" transform="translate(157.28 83.69) rotate(35)"/><ellipse rx="4.59" ry="3.28" fill="url(#g14)" transform="translate(259.28 82.1) rotate(30)"/><ellipse rx="5.25" ry="3.28" fill="url(#g14)" transform="translate(249.73 108.02) rotate(5)"/><ellipse rx="5.25" ry="3.68" fill="url(#g14)" transform="translate(98.33 193.74) rotate(15)"/><ellipse rx="7.88" ry="1.97" fill="url(#g14)" transform="translate(186.75 213.57) rotate(50)"/><ellipse rx="4.99" ry="4.59" fill="url(#g14)" transform="translate(156.53 211.42) rotate(90)"/><ellipse rx="5.61" ry="4.01" fill="url(#g15)" transform="translate(61.08 81.17) rotate(30)"/><ellipse rx="5.34" ry="4.67" fill="url(#g15)" transform="translate(68.1 122.53) rotate(20)"/><ellipse cx="152.13" cy="17.25" rx="4.67" ry="4.67" fill="url(#g15)"/><ellipse cx="80.27" cy="214.98" rx="6.01" ry="4.27" fill="url(#g15)"/><ellipse rx="6.68" ry="3.74" fill="url(#g15)" transform="translate(123.31 239.03) rotate(-20)"/><ellipse rx="10.69" ry="2.4" fill="url(#g15)" transform="translate(180.67 192.52) rotate(50)"/><ellipse rx="6.16" ry="3.84" fill="url(#g16)" transform="translate(51.26 230.42) rotate(-70)"/><ellipse rx="6.85" ry="6.16" fill="url(#g16)" transform="translate(187.22 149.01) rotate(60)"/><ellipse rx="5.57" ry="6.27" fill="url(#g17)" transform="translate(55.47 110.83) rotate(90)"/><ellipse rx="5.29" ry="4.87" fill="url(#g17)" transform="translate(249.45 90.06) rotate(90)"/><ellipse rx="5.85" ry="3.9" fill="url(#g17)" transform="translate(120.32 195.14) rotate(10)"/><ellipse rx="6.96" ry="4.87" fill="url(#g17)" transform="translate(182.08 208.43) rotate(20)"/><ellipse rx="9.05" ry="5.29" fill="url(#g17)" transform="translate(200.51 242.11) rotate(30)"/><ellipse rx="8.28" ry="4.99" fill="url(#g19)" transform="translate(126.12 81.54) rotate(-25)"/><ellipse rx="9.28" ry="4.99" fill="url(#g19)" transform="translate(170.57 70.12) rotate(80)"/><ellipse rx="9.7" ry="4" fill="url(#g19)" transform="translate(72.31 158.55) rotate(-25)"/><ellipse rx="7.85" ry="6.42" fill="url(#g19)" transform="translate(142.03 185.5) rotate(20)"/><ellipse rx="7.14" ry="3.57" fill="url(#g19)" transform="translate(145.3 258.49) rotate(90)"/><ellipse rx="4.99" ry="4" fill="url(#g19)" transform="translate(200.32 207.49) rotate(25)"/><ellipse rx="5.42" ry="4.57" fill="url(#g19)" transform="translate(159.15 225.93) rotate(15)"/><ellipse rx="10.7" ry="4.28" fill="url(#g20)" transform="translate(48.45 164.45) rotate(22)"/><ellipse rx="7.85" ry="4" fill="url(#g20)" transform="translate(234.95 207.96) rotate(-10)"/><ellipse rx="12.13" ry="5.99" fill="url(#g20)" transform="translate(255.06 212.17) rotate(-45)"/><ellipse rx="5.99" ry="5.42" fill="url(#g21)" transform="translate(98.33 123.18) rotate(10)"/><ellipse rx="6.42" ry="4.99" fill="url(#g21)" transform="translate(78.4 135.16) rotate(80)"/><ellipse rx="4.99" ry="3.57" fill="url(#g21)" transform="translate(138.28 275.8) rotate(-20)"/><ellipse rx="7.14" ry="5.71" fill="url(#g21)" transform="translate(193.31 178.48) rotate(60)"/><ellipse rx="6.42" ry="4.99" fill="url(#g21)" transform="translate(184.88 197.2) rotate(70)"/><ellipse rx="7.14" ry="3.57" fill="url(#g21)" transform="translate(146.99 257.55) rotate(-50)"/><ellipse rx="10.27" ry="4.99" fill="url(#g23)" transform="translate(77.93 95.86) rotate(-22)"/><ellipse rx="5.71" ry="5.42" fill="url(#g23)" transform="translate(176.46 187.84) rotate(40)"/><ellipse rx="8.56" ry="4.99" fill="url(#g23)" transform="translate(153.07 252.87) rotate(-25)"/><ellipse rx="6.42" ry="5.99" fill="url(#g23)" transform="translate(41.9 86.97) rotate(-30)"/><ellipse rx="9.99" ry="4.28" fill="url(#g23)" transform="translate(192.37 220.12) rotate(50)"/><ellipse rx="7.85" ry="4.99" fill="url(#g23)" transform="translate(223.72 208.71) rotate(25)"/><ellipse rx="8.56" ry="5.42" fill="url(#g24)" transform="translate(24.12 150.41) rotate(50)"/><ellipse rx="8.56" ry="6.42" fill="url(#g24)" transform="translate(69.32 230.42) rotate(80)"/><ellipse rx="7.14" ry="4.28" fill="url(#g24)" transform="translate(180.39 230.88) rotate(85)"/><ellipse rx="5.99" ry="5.42" fill="url(#g24)" transform="translate(196.11 161.36) rotate(-20)"/><ellipse cx="24.59" cy="100.54" rx="4.99" ry="4.28" fill="url(#g25)"/><ellipse rx="7.85" ry="4.99" fill="url(#g25)" transform="translate(222.31 143.58) rotate(75)"/><ellipse cx="120.97" cy="181.95" rx="8.85" ry="5.42" fill="url(#g25)"/><ellipse rx="10.7" ry="4.99" fill="url(#g25)" transform="translate(209.21 174.09) rotate(-18)"/><ellipse rx="6.85" ry="5.99" fill="url(#g25)" transform="translate(161.49 179.61) rotate(-15)"/><ellipse rx="6.42" ry="5.42" fill="url(#g25)" transform="translate(246.92 192.52) rotate(80)"/><ellipse rx="12.84" ry="4.99" fill="url(#g26)" transform="translate(89.62 67.78) rotate(55)"/><ellipse cx="109.74" cy="256.62" rx="6.42" ry="6.42" fill="url(#g26)"/><ellipse rx="7.14" ry="5.99" fill="url(#g27)" transform="translate(182.26 49.26) rotate(25)"/><ellipse rx="5.99" ry="5.42" fill="url(#g27)" transform="translate(124.43 209.83) rotate(-10)"/><ellipse cx="172.53" cy="272.71" rx="5.71" ry="4.99" fill="url(#g27)"/><ellipse rx="8.56" ry="6.42" fill="url(#g27)" transform="translate(106 140.3) rotate(75)"/><ellipse cx="222.31" cy="64.98" rx="7.14" ry="7.14" fill="url(#g27)"/><ellipse rx="6.42" ry="5.42" fill="url(#g27)" transform="translate(263.02 97.92) rotate(-15)"/><ellipse rx="10.7" ry="6.42" fill="url(#g27)" transform="translate(216.23 104.28) rotate(-12)"/><ellipse cx="226.06" cy="119.25" rx="5.99" ry="5.99" fill="url(#g28)"/><ellipse cx="212.21" cy="223.12" rx="6.85" ry="6.85" fill="url(#g29)"/><ellipse rx="7.42" ry="6.42" fill="url(#g30)" transform="translate(42.84 211.7) rotate(80)"/><ellipse rx="7.85" ry="5.99" fill="url(#g31)" transform="translate(62.96 145.92) rotate(70)"/><ellipse rx="8.28" ry="6.42" fill="url(#g32)" transform="translate(140.15 204.68) rotate(75)"/><ellipse cx="191.43" cy="265.98" rx="6.85" ry="7.14" fill="url(#g33)"/>
<ellipse rx="6.83" ry="3.17" fill="url(#g14)" transform="translate(140.5 134) rotate(56)"/>
</g>
<rect x="0" y="0" width="290.8" height="290.3" fill="none" stroke="#404040" stroke-width="1.15"/>
<path d="M0.48 290.3v3.9M0 289.81h-3.9M48.95 290.3v3.9M0 241.43h-3.9M97.42 290.3v3.9M0 193.05h-3.9M145.89 290.3v3.9M0 144.66h-3.9M194.35 290.3v3.9M0 96.28h-3.9M242.82 290.3v3.9M0 47.9h-3.9" stroke="#404040" stroke-width="1.05" fill="none"/>
<g font-size="10.4" text-anchor="middle">
<text x="0.48" y="306.9">0</text>
<text x="48.95" y="306.9">50</text>
<text x="97.42" y="306.9">100</text>
<text x="145.89" y="306.9">150</text>
<text x="194.35" y="306.9">200</text>
<text x="242.82" y="306.9">250</text>
</g>
<g font-size="10.4" text-anchor="end">
<text x="-9.1" y="293.71">0</text>
<text x="-9.1" y="245.33">50</text>
<text x="-9.1" y="196.95">100</text>
<text x="-9.1" y="148.56">150</text>
<text x="-9.1" y="100.18">200</text>
<text x="-9.1" y="51.8">250</text>
</g>
<text x="144.8" y="327.1" font-size="17.6" text-anchor="middle">arcsec</text>
<text font-size="17.6" text-anchor="middle" transform="translate(-36.7 146.05) rotate(-90)">arcsec</text>
<text x="145.4" y="-8.9" font-size="18.1" text-anchor="middle" letter-spacing="0.23">BH mass<tspan dx="4.6">∼</tspan><tspan dx="3.5">10</tspan><tspan font-size="12.67" dy="-6.6" dx="-0.6">10</tspan><tspan font-style="italic" dy="6.6" dx="1.2">M</tspan><tspan font-size="12.67" dy="2.9" dx="1.3">⊙</tspan><tspan dy="-2.9">, z=0.016</tspan></text>
<rect x="310.65" y="0" width="14" height="290.3" fill="url(#cbar)" stroke="#161616" stroke-width="0.95"/>
<path d="M325.05 258.35h3.9M325.05 213.1h3.9M325.05 167.85h3.9M325.05 122.6h3.9M325.05 77.35h3.9M325.05 32.1h3.9" stroke="#404040" stroke-width="1.05" fill="none"/>
<g font-size="13">
<text x="332.55" y="263.25">30</text>
<text x="332.55" y="218">40</text>
<text x="332.55" y="172.75">50</text>
<text x="332.55" y="127.5">60</text>
<text x="332.55" y="82.25">70</text>
<text x="332.55" y="37">80</text>
</g>
<text font-size="15.4" text-anchor="middle" transform="translate(366.25 144.25) rotate(-90)">Flux in <tspan font-style="italic">μ</tspan>Jy/beam</text>
</g>
<g transform="translate(1732.29 882.75)">
<g clip-path="url(#cc)">
<circle cx="147.05" cy="146.1" r="132.2" fill="#11006c"/>
<ellipse cx="232.61" cy="83.22" rx="1.48" ry="1.48" fill="url(#g2)"/><ellipse cx="41.43" cy="192.52" rx="1.48" ry="1.48" fill="url(#g2)"/><ellipse rx="1.85" ry="1.48" fill="url(#g2)" transform="translate(166.82 199.54) rotate(40)"/><ellipse rx="3.08" ry="1.48" fill="url(#g3)" transform="translate(203.13 144.05) rotate(80)"/><ellipse rx="3.45" ry="1.73" fill="url(#g4)" transform="translate(76.99 57.02) rotate(10)"/><ellipse rx="3.08" ry="2.22" fill="url(#g4)" transform="translate(72.97 71.25) rotate(40)"/><ellipse cx="117.7" cy="104" rx="6.16" ry="1.48" fill="url(#g4)"/><ellipse cx="267.7" cy="131.42" rx="2.22" ry="2.22" fill="url(#g4)"/><ellipse cx="158.68" cy="136.09" rx="1.85" ry="1.85" fill="url(#g4)"/><ellipse cx="117.51" cy="165.85" rx="2.71" ry="1.97" fill="url(#g4)"/><ellipse rx="3.7" ry="1.48" fill="url(#g4)" transform="translate(146.99 180.82) rotate(-60)"/><ellipse rx="4.93" ry="1.48" fill="url(#g4)" transform="translate(199.57 191.3) rotate(30)"/><ellipse rx="3.45" ry="1.85" fill="url(#g4)" transform="translate(261.33 188.31) rotate(90)"/><ellipse cx="209.68" cy="254.75" rx="2.47" ry="2.47" fill="url(#g4)"/><ellipse rx="9.86" ry="1.48" fill="url(#g5)" transform="translate(200.32 32.23) rotate(-33)"/><ellipse rx="8.63" ry="1.48" fill="url(#g5)" transform="translate(188.16 95.86) rotate(-65)"/><ellipse rx="5.55" ry="1.48" fill="url(#g5)" transform="translate(104.6 242.58) rotate(-60)"/><ellipse rx="11.3" ry="1.51" fill="url(#g5)" transform="translate(98.98 264.57) rotate(-35)"/><ellipse rx="4.93" ry="1.48" fill="url(#g5)" transform="translate(144.83 270.65) rotate(-60)"/><ellipse rx="4.69" ry="2.22" fill="url(#g6)" transform="translate(248.51 76.67) rotate(-35)"/><ellipse rx="4.32" ry="1.73" fill="url(#g6)" transform="translate(260.68 116.44) rotate(-35)"/><ellipse cx="243.37" cy="121.12" rx="2.71" ry="1.97" fill="url(#g6)"/><ellipse cx="236.82" cy="132.35" rx="2.47" ry="2.22" fill="url(#g6)"/><ellipse rx="2.47" ry="1.85" fill="url(#g6)" transform="translate(90.09 165.57) rotate(-20)"/><ellipse rx="3.45" ry="2.71" fill="url(#g6)" transform="translate(62.49 217.5) rotate(-60)"/><ellipse rx="3.45" ry="2.22" fill="url(#g6)" transform="translate(135.2 245.39) rotate(70)"/><ellipse rx="3.08" ry="1.85" fill="url(#g8)" transform="translate(45.18 64.51) rotate(-50)"/><ellipse rx="3.08" ry="2.22" fill="url(#g8)" transform="translate(244.3 60.3) rotate(30)"/><ellipse rx="3.7" ry="2.47" fill="url(#g8)" transform="translate(202.19 98.38) rotate(30)"/><ellipse rx="3.7" ry="1.85" fill="url(#g8)" transform="translate(118.63 273.46) rotate(-10)"/><ellipse rx="4.93" ry="1.85" fill="url(#g8)" transform="translate(173.65 156.96) rotate(-35)"/><ellipse rx="5.55" ry="2.71" fill="url(#g8)" transform="translate(261.61 161.64) rotate(80)"/><ellipse rx="4.32" ry="2.71" fill="url(#g9)" transform="translate(123.03 64.79) rotate(-20)"/><ellipse rx="6.16" ry="3.7" fill="url(#g9)" transform="translate(124.25 103.62) rotate(-15)"/><ellipse rx="4.32" ry="3.08" fill="url(#g9)" transform="translate(37.69 117.19) rotate(10)"/><ellipse rx="4.93" ry="3.45" fill="url(#g9)" transform="translate(31.14 130.67) rotate(70)"/><ellipse rx="3.7" ry="2.47" fill="url(#g9)" transform="translate(21.32 145.45) rotate(20)"/><ellipse rx="4.93" ry="3.7" fill="url(#g9)" transform="translate(150.26 53.28) rotate(40)"/><ellipse rx="6.78" ry="2.71" fill="url(#g9)" transform="translate(202.94 83.41) rotate(-20)"/><ellipse rx="4.93" ry="4.32" fill="url(#g9)" transform="translate(175.53 115.04) rotate(60)"/><ellipse rx="3.7" ry="3.08" fill="url(#g9)" transform="translate(93.65 151.07) rotate(30)"/><ellipse cx="108.81" cy="146.67" rx="3.7" ry="2.47" fill="url(#g9)"/><ellipse cx="234.01" cy="179.42" rx="3.7" ry="2.71" fill="url(#g9)"/><ellipse cx="235.41" cy="226.49" rx="3.95" ry="3.08" fill="url(#g9)"/><ellipse rx="4.32" ry="3.7" fill="url(#g9)" transform="translate(168.98 240.24) rotate(-20)"/><ellipse cx="145.58" cy="166.32" rx="4.36" ry="4.36" fill="url(#g10)"/><ellipse rx="3.77" ry="3.14" fill="url(#g11)" transform="translate(131.27 23.99) rotate(30)"/><ellipse rx="6.03" ry="3.14" fill="url(#g11)" transform="translate(121.44 34.38) rotate(30)"/><ellipse cx="145.02" cy="37.56" rx="3.77" ry="3.77" fill="url(#g11)"/><ellipse cx="55.19" cy="116.44" rx="2.76" ry="5.02" fill="url(#g11)"/><ellipse rx="4.77" ry="3.77" fill="url(#g11)" transform="translate(48.73 132.35) rotate(-10)"/><ellipse rx="6.91" ry="2.76" fill="url(#g11)" transform="translate(224.65 52.81) rotate(70)"/><ellipse rx="8.16" ry="3.77" fill="url(#g11)" transform="translate(177.87 124.87) rotate(-35)"/><ellipse rx="7.53" ry="4.4" fill="url(#g11)" transform="translate(185.82 143.11) rotate(85)"/><ellipse rx="5.02" ry="3.52" fill="url(#g11)" transform="translate(128.27 226.02) rotate(25)"/><ellipse cx="107.87" cy="236.5" rx="4.4" ry="4.02" fill="url(#g11)"/><ellipse rx="5.27" ry="3.52" fill="url(#g11)" transform="translate(153.72 150.69) rotate(5)"/><ellipse rx="6.03" ry="4.4" fill="url(#g11)" transform="translate(218.57 189.06) rotate(85)"/><ellipse cx="221.66" cy="237.44" rx="4.02" ry="3.52" fill="url(#g11)"/><ellipse rx="7.53" ry="1.76" fill="url(#g11)" transform="translate(142.31 270.65) rotate(-55)"/><ellipse rx="5.11" ry="3.58" fill="url(#g13)" transform="translate(102.54 35.31) rotate(40)"/><ellipse rx="7.1" ry="2.84" fill="url(#g13)" transform="translate(40.03 162.11) rotate(15)"/><ellipse cx="76.52" cy="176.14" rx="4.9" ry="4.13" fill="url(#g13)"/><ellipse rx="7.22" ry="3.94" fill="url(#g14)" transform="translate(64.83 48.13) rotate(80)"/><ellipse rx="5.51" ry="3.68" fill="url(#g14)" transform="translate(90.56 48.13) rotate(25)"/><ellipse rx="5.25" ry="3.68" fill="url(#g14)" transform="translate(127.71 50.94) rotate(-10)"/><ellipse rx="7.88" ry="4.99" fill="url(#g14)" transform="translate(134.07 93.8) rotate(-10)"/><ellipse cx="145.02" cy="111.86" rx="4.59" ry="5.25" fill="url(#g14)"/><ellipse rx="7.22" ry="3.68" fill="url(#g14)" transform="translate(157.28 83.69) rotate(35)"/><ellipse rx="4.59" ry="3.28" fill="url(#g14)" transform="translate(259.28 82.1) rotate(30)"/><ellipse rx="5.25" ry="3.28" fill="url(#g14)" transform="translate(249.73 108.02) rotate(5)"/><ellipse rx="5.25" ry="3.68" fill="url(#g14)" transform="translate(98.33 193.74) rotate(15)"/><ellipse rx="7.88" ry="1.97" fill="url(#g14)" transform="translate(186.75 213.57) rotate(50)"/><ellipse rx="4.99" ry="4.59" fill="url(#g14)" transform="translate(156.53 211.42) rotate(90)"/><ellipse rx="5.61" ry="4.01" fill="url(#g15)" transform="translate(61.08 81.17) rotate(30)"/><ellipse rx="5.34" ry="4.67" fill="url(#g15)" transform="translate(68.1 122.53) rotate(20)"/><ellipse cx="152.13" cy="17.25" rx="4.67" ry="4.67" fill="url(#g15)"/><ellipse cx="80.27" cy="214.98" rx="6.01" ry="4.27" fill="url(#g15)"/><ellipse rx="6.68" ry="3.74" fill="url(#g15)" transform="translate(123.31 239.03) rotate(-20)"/><ellipse rx="10.69" ry="2.4" fill="url(#g15)" transform="translate(180.67 192.52) rotate(50)"/><ellipse rx="6.16" ry="3.84" fill="url(#g16)" transform="translate(51.26 230.42) rotate(-70)"/><ellipse rx="6.85" ry="6.16" fill="url(#g16)" transform="translate(187.22 149.01) rotate(60)"/><ellipse rx="5.57" ry="6.27" fill="url(#g17)" transform="translate(55.47 110.83) rotate(90)"/><ellipse rx="5.29" ry="4.87" fill="url(#g17)" transform="translate(249.45 90.06) rotate(90)"/><ellipse rx="5.85" ry="3.9" fill="url(#g17)" transform="translate(120.32 195.14) rotate(10)"/><ellipse rx="6.96" ry="4.87" fill="url(#g17)" transform="translate(182.08 208.43) rotate(20)"/><ellipse rx="9.05" ry="5.29" fill="url(#g17)" transform="translate(200.51 242.11) rotate(30)"/><ellipse rx="8.28" ry="4.99" fill="url(#g19)" transform="translate(126.12 81.54) rotate(-25)"/><ellipse rx="9.28" ry="4.99" fill="url(#g19)" transform="translate(170.57 70.12) rotate(80)"/><ellipse rx="9.7" ry="4" fill="url(#g19)" transform="translate(72.31 158.55) rotate(-25)"/><ellipse rx="7.85" ry="6.42" fill="url(#g19)" transform="translate(142.03 185.5) rotate(20)"/><ellipse rx="7.14" ry="3.57" fill="url(#g19)" transform="translate(145.3 258.49) rotate(90)"/><ellipse rx="4.99" ry="4" fill="url(#g19)" transform="translate(200.32 207.49) rotate(25)"/><ellipse rx="5.42" ry="4.57" fill="url(#g19)" transform="translate(159.15 225.93) rotate(15)"/><ellipse rx="10.7" ry="4.28" fill="url(#g20)" transform="translate(48.45 164.45) rotate(22)"/><ellipse rx="7.85" ry="4" fill="url(#g20)" transform="translate(234.95 207.96) rotate(-10)"/><ellipse rx="12.13" ry="5.99" fill="url(#g20)" transform="translate(255.06 212.17) rotate(-45)"/><ellipse rx="5.99" ry="5.42" fill="url(#g21)" transform="translate(98.33 123.18) rotate(10)"/><ellipse rx="6.42" ry="4.99" fill="url(#g21)" transform="translate(78.4 135.16) rotate(80)"/><ellipse rx="4.99" ry="3.57" fill="url(#g21)" transform="translate(138.28 275.8) rotate(-20)"/><ellipse rx="7.14" ry="5.71" fill="url(#g21)" transform="translate(193.31 178.48) rotate(60)"/><ellipse rx="6.42" ry="4.99" fill="url(#g21)" transform="translate(184.88 197.2) rotate(70)"/><ellipse rx="7.14" ry="3.57" fill="url(#g21)" transform="translate(146.99 257.55) rotate(-50)"/><ellipse rx="10.27" ry="4.99" fill="url(#g23)" transform="translate(77.93 95.86) rotate(-22)"/><ellipse rx="5.71" ry="5.42" fill="url(#g23)" transform="translate(176.46 187.84) rotate(40)"/><ellipse rx="8.56" ry="4.99" fill="url(#g23)" transform="translate(153.07 252.87) rotate(-25)"/><ellipse rx="6.42" ry="5.99" fill="url(#g23)" transform="translate(41.9 86.97) rotate(-30)"/><ellipse rx="9.99" ry="4.28" fill="url(#g23)" transform="translate(192.37 220.12) rotate(50)"/><ellipse rx="7.85" ry="4.99" fill="url(#g23)" transform="translate(223.72 208.71) rotate(25)"/><ellipse rx="8.56" ry="5.42" fill="url(#g24)" transform="translate(24.12 150.41) rotate(50)"/><ellipse rx="8.56" ry="6.42" fill="url(#g24)" transform="translate(69.32 230.42) rotate(80)"/><ellipse rx="7.14" ry="4.28" fill="url(#g24)" transform="translate(180.39 230.88) rotate(85)"/><ellipse rx="5.99" ry="5.42" fill="url(#g24)" transform="translate(196.11 161.36) rotate(-20)"/><ellipse cx="24.59" cy="100.54" rx="4.99" ry="4.28" fill="url(#g25)"/><ellipse rx="7.85" ry="4.99" fill="url(#g25)" transform="translate(222.31 143.58) rotate(75)"/><ellipse cx="120.97" cy="181.95" rx="8.85" ry="5.42" fill="url(#g25)"/><ellipse rx="10.7" ry="4.99" fill="url(#g25)" transform="translate(209.21 174.09) rotate(-18)"/><ellipse rx="6.85" ry="5.99" fill="url(#g25)" transform="translate(161.49 179.61) rotate(-15)"/><ellipse rx="6.42" ry="5.42" fill="url(#g25)" transform="translate(246.92 192.52) rotate(80)"/><ellipse rx="12.84" ry="4.99" fill="url(#g26)" transform="translate(89.62 67.78) rotate(55)"/><ellipse cx="109.74" cy="256.62" rx="6.42" ry="6.42" fill="url(#g26)"/><ellipse rx="7.14" ry="5.99" fill="url(#g27)" transform="translate(182.26 49.26) rotate(25)"/><ellipse rx="5.99" ry="5.42" fill="url(#g27)" transform="translate(124.43 209.83) rotate(-10)"/><ellipse cx="172.53" cy="272.71" rx="5.71" ry="4.99" fill="url(#g27)"/><ellipse rx="8.56" ry="6.42" fill="url(#g27)" transform="translate(106 140.3) rotate(75)"/><ellipse cx="222.31" cy="64.98" rx="7.14" ry="7.14" fill="url(#g27)"/><ellipse rx="6.42" ry="5.42" fill="url(#g27)" transform="translate(263.02 97.92) rotate(-15)"/><ellipse rx="10.7" ry="6.42" fill="url(#g27)" transform="translate(216.23 104.28) rotate(-12)"/><ellipse cx="226.06" cy="119.25" rx="5.99" ry="5.99" fill="url(#g28)"/><ellipse cx="212.21" cy="223.12" rx="6.85" ry="6.85" fill="url(#g29)"/><ellipse rx="7.42" ry="6.42" fill="url(#g30)" transform="translate(42.84 211.7) rotate(80)"/><ellipse rx="7.85" ry="5.99" fill="url(#g31)" transform="translate(62.96 145.92) rotate(70)"/><ellipse rx="8.28" ry="6.42" fill="url(#g32)" transform="translate(140.15 204.68) rotate(75)"/><ellipse cx="191.43" cy="265.98" rx="6.85" ry="7.14" fill="url(#g33)"/>
<ellipse rx="6.83" ry="3.17" fill="url(#g14)" transform="translate(140.5 134) rotate(56)"/>
</g>
<rect x="0" y="0" width="290.8" height="290.3" fill="none" stroke="#404040" stroke-width="1.15"/>
<path d="M0.48 290.3v3.9M0 289.81h-3.9M48.95 290.3v3.9M0 241.43h-3.9M97.42 290.3v3.9M0 193.05h-3.9M145.89 290.3v3.9M0 144.66h-3.9M194.35 290.3v3.9M0 96.28h-3.9M242.82 290.3v3.9M0 47.9h-3.9" stroke="#404040" stroke-width="1.05" fill="none"/>
<g font-size="10.4" text-anchor="middle">
<text x="0.48" y="306.9">0</text>
<text x="48.95" y="306.9">50</text>
<text x="97.42" y="306.9">100</text>
<text x="145.89" y="306.9">150</text>
<text x="194.35" y="306.9">200</text>
<text x="242.82" y="306.9">250</text>
</g>
<g font-size="10.4" text-anchor="end">
<text x="-9.1" y="293.71">0</text>
<text x="-9.1" y="245.33">50</text>
<text x="-9.1" y="196.95">100</text>
<text x="-9.1" y="148.56">150</text>
<text x="-9.1" y="100.18">200</text>
<text x="-9.1" y="51.8">250</text>
</g>
<text x="144.8" y="327.1" font-size="17.6" text-anchor="middle">arcsec</text>
<text font-size="17.6" text-anchor="middle" transform="translate(-36.7 146.05) rotate(-90)">arcsec</text>
<text x="145.4" y="-8.9" font-size="18.1" text-anchor="middle" letter-spacing="0.23">BH mass<tspan dx="4.6">∼</tspan><tspan dx="3.5">10</tspan><tspan font-size="12.67" dy="-6.6" dx="-0.6">10</tspan><tspan font-style="italic" dy="6.6" dx="1.2">M</tspan><tspan font-size="12.67" dy="2.9" dx="1.3">⊙</tspan><tspan dy="-2.9">, z=0.016</tspan></text>
<rect x="310.65" y="0" width="14" height="290.3" fill="url(#cbar)" stroke="#161616" stroke-width="0.95"/>
<path d="M325.05 258.35h3.9M325.05 213.1h3.9M325.05 167.85h3.9M325.05 122.6h3.9M325.05 77.35h3.9M325.05 32.1h3.9" stroke="#404040" stroke-width="1.05" fill="none"/>
<g font-size="13">
<text x="332.55" y="263.25">30</text>
<text x="332.55" y="218">40</text>
<text x="332.55" y="172.75">50</text>
<text x="332.55" y="127.5">60</text>
<text x="332.55" y="82.25">70</text>
<text x="332.55" y="37">80</text>
</g>
<text font-size="15.4" text-anchor="middle" transform="translate(366.25 144.25) rotate(-90)">Flux in <tspan font-style="italic">μ</tspan>Jy/beam</text>
</g>
<g transform="translate(103.95 1273.7)">
<g clip-path="url(#cc)">
<circle cx="147.05" cy="146.1" r="132.2" fill="#11006c"/>
<ellipse cx="232.61" cy="83.22" rx="1.48" ry="1.48" fill="url(#g2)"/><ellipse cx="41.43" cy="192.52" rx="1.48" ry="1.48" fill="url(#g2)"/><ellipse rx="1.85" ry="1.48" fill="url(#g2)" transform="translate(166.82 199.54) rotate(40)"/><ellipse rx="3.08" ry="1.48" fill="url(#g3)" transform="translate(203.13 144.05) rotate(80)"/><ellipse rx="3.45" ry="1.73" fill="url(#g4)" transform="translate(76.99 57.02) rotate(10)"/><ellipse rx="3.08" ry="2.22" fill="url(#g4)" transform="translate(72.97 71.25) rotate(40)"/><ellipse cx="117.7" cy="104" rx="6.16" ry="1.48" fill="url(#g4)"/><ellipse cx="267.7" cy="131.42" rx="2.22" ry="2.22" fill="url(#g4)"/><ellipse cx="158.68" cy="136.09" rx="1.85" ry="1.85" fill="url(#g4)"/><ellipse cx="117.51" cy="165.85" rx="2.71" ry="1.97" fill="url(#g4)"/><ellipse rx="3.7" ry="1.48" fill="url(#g4)" transform="translate(146.99 180.82) rotate(-60)"/><ellipse rx="4.93" ry="1.48" fill="url(#g4)" transform="translate(199.57 191.3) rotate(30)"/><ellipse rx="3.45" ry="1.85" fill="url(#g4)" transform="translate(261.33 188.31) rotate(90)"/><ellipse cx="209.68" cy="254.75" rx="2.47" ry="2.47" fill="url(#g4)"/><ellipse rx="9.86" ry="1.48" fill="url(#g5)" transform="translate(200.32 32.23) rotate(-33)"/><ellipse rx="8.63" ry="1.48" fill="url(#g5)" transform="translate(188.16 95.86) rotate(-65)"/><ellipse rx="5.55" ry="1.48" fill="url(#g5)" transform="translate(104.6 242.58) rotate(-60)"/><ellipse rx="11.3" ry="1.51" fill="url(#g5)" transform="translate(98.98 264.57) rotate(-35)"/><ellipse rx="4.93" ry="1.48" fill="url(#g5)" transform="translate(144.83 270.65) rotate(-60)"/><ellipse rx="4.69" ry="2.22" fill="url(#g6)" transform="translate(248.51 76.67) rotate(-35)"/><ellipse rx="4.32" ry="1.73" fill="url(#g6)" transform="translate(260.68 116.44) rotate(-35)"/><ellipse cx="243.37" cy="121.12" rx="2.71" ry="1.97" fill="url(#g6)"/><ellipse cx="236.82" cy="132.35" rx="2.47" ry="2.22" fill="url(#g6)"/><ellipse rx="2.47" ry="1.85" fill="url(#g6)" transform="translate(90.09 165.57) rotate(-20)"/><ellipse rx="3.45" ry="2.71" fill="url(#g6)" transform="translate(62.49 217.5) rotate(-60)"/><ellipse rx="3.45" ry="2.22" fill="url(#g6)" transform="translate(135.2 245.39) rotate(70)"/><ellipse rx="3.08" ry="1.85" fill="url(#g8)" transform="translate(45.18 64.51) rotate(-50)"/><ellipse rx="3.08" ry="2.22" fill="url(#g8)" transform="translate(244.3 60.3) rotate(30)"/><ellipse rx="3.7" ry="2.47" fill="url(#g8)" transform="translate(202.19 98.38) rotate(30)"/><ellipse rx="3.7" ry="1.85" fill="url(#g8)" transform="translate(118.63 273.46) rotate(-10)"/><ellipse rx="4.93" ry="1.85" fill="url(#g8)" transform="translate(173.65 156.96) rotate(-35)"/><ellipse rx="5.55" ry="2.71" fill="url(#g8)" transform="translate(261.61 161.64) rotate(80)"/><ellipse rx="4.32" ry="2.71" fill="url(#g9)" transform="translate(123.03 64.79) rotate(-20)"/><ellipse rx="6.16" ry="3.7" fill="url(#g9)" transform="translate(124.25 103.62) rotate(-15)"/><ellipse rx="4.32" ry="3.08" fill="url(#g9)" transform="translate(37.69 117.19) rotate(10)"/><ellipse rx="4.93" ry="3.45" fill="url(#g9)" transform="translate(31.14 130.67) rotate(70)"/><ellipse rx="3.7" ry="2.47" fill="url(#g9)" transform="translate(21.32 145.45) rotate(20)"/><ellipse rx="4.93" ry="3.7" fill="url(#g9)" transform="translate(150.26 53.28) rotate(40)"/><ellipse rx="6.78" ry="2.71" fill="url(#g9)" transform="translate(202.94 83.41) rotate(-20)"/><ellipse rx="4.93" ry="4.32" fill="url(#g9)" transform="translate(175.53 115.04) rotate(60)"/><ellipse rx="3.7" ry="3.08" fill="url(#g9)" transform="translate(93.65 151.07) rotate(30)"/><ellipse cx="108.81" cy="146.67" rx="3.7" ry="2.47" fill="url(#g9)"/><ellipse cx="234.01" cy="179.42" rx="3.7" ry="2.71" fill="url(#g9)"/><ellipse cx="235.41" cy="226.49" rx="3.95" ry="3.08" fill="url(#g9)"/><ellipse rx="4.32" ry="3.7" fill="url(#g9)" transform="translate(168.98 240.24) rotate(-20)"/><ellipse cx="145.58" cy="166.32" rx="4.36" ry="4.36" fill="url(#g10)"/><ellipse rx="3.77" ry="3.14" fill="url(#g11)" transform="translate(131.27 23.99) rotate(30)"/><ellipse rx="6.03" ry="3.14" fill="url(#g11)" transform="translate(121.44 34.38) rotate(30)"/><ellipse cx="145.02" cy="37.56" rx="3.77" ry="3.77" fill="url(#g11)"/><ellipse cx="55.19" cy="116.44" rx="2.76" ry="5.02" fill="url(#g11)"/><ellipse rx="4.77" ry="3.77" fill="url(#g11)" transform="translate(48.73 132.35) rotate(-10)"/><ellipse rx="6.91" ry="2.76" fill="url(#g11)" transform="translate(224.65 52.81) rotate(70)"/><ellipse rx="8.16" ry="3.77" fill="url(#g11)" transform="translate(177.87 124.87) rotate(-35)"/><ellipse rx="7.53" ry="4.4" fill="url(#g11)" transform="translate(185.82 143.11) rotate(85)"/><ellipse rx="5.02" ry="3.52" fill="url(#g11)" transform="translate(128.27 226.02) rotate(25)"/><ellipse cx="107.87" cy="236.5" rx="4.4" ry="4.02" fill="url(#g11)"/><ellipse rx="5.27" ry="3.52" fill="url(#g11)" transform="translate(153.72 150.69) rotate(5)"/><ellipse rx="6.03" ry="4.4" fill="url(#g11)" transform="translate(218.57 189.06) rotate(85)"/><ellipse cx="221.66" cy="237.44" rx="4.02" ry="3.52" fill="url(#g11)"/><ellipse rx="7.53" ry="1.76" fill="url(#g11)" transform="translate(142.31 270.65) rotate(-55)"/><ellipse rx="5.11" ry="3.58" fill="url(#g13)" transform="translate(102.54 35.31) rotate(40)"/><ellipse rx="7.1" ry="2.84" fill="url(#g13)" transform="translate(40.03 162.11) rotate(15)"/><ellipse cx="76.52" cy="176.14" rx="4.9" ry="4.13" fill="url(#g13)"/><ellipse rx="7.22" ry="3.94" fill="url(#g14)" transform="translate(64.83 48.13) rotate(80)"/><ellipse rx="5.51" ry="3.68" fill="url(#g14)" transform="translate(90.56 48.13) rotate(25)"/><ellipse rx="5.25" ry="3.68" fill="url(#g14)" transform="translate(127.71 50.94) rotate(-10)"/><ellipse rx="7.88" ry="4.99" fill="url(#g14)" transform="translate(134.07 93.8) rotate(-10)"/><ellipse cx="145.02" cy="111.86" rx="4.59" ry="5.25" fill="url(#g14)"/><ellipse rx="7.22" ry="3.68" fill="url(#g14)" transform="translate(157.28 83.69) rotate(35)"/><ellipse rx="4.59" ry="3.28" fill="url(#g14)" transform="translate(259.28 82.1) rotate(30)"/><ellipse rx="5.25" ry="3.28" fill="url(#g14)" transform="translate(249.73 108.02) rotate(5)"/><ellipse rx="5.25" ry="3.68" fill="url(#g14)" transform="translate(98.33 193.74) rotate(15)"/><ellipse rx="7.88" ry="1.97" fill="url(#g14)" transform="translate(186.75 213.57) rotate(50)"/><ellipse rx="4.99" ry="4.59" fill="url(#g14)" transform="translate(156.53 211.42) rotate(90)"/><ellipse rx="5.61" ry="4.01" fill="url(#g15)" transform="translate(61.08 81.17) rotate(30)"/><ellipse rx="5.34" ry="4.67" fill="url(#g15)" transform="translate(68.1 122.53) rotate(20)"/><ellipse cx="152.13" cy="17.25" rx="4.67" ry="4.67" fill="url(#g15)"/><ellipse cx="80.27" cy="214.98" rx="6.01" ry="4.27" fill="url(#g15)"/><ellipse rx="6.68" ry="3.74" fill="url(#g15)" transform="translate(123.31 239.03) rotate(-20)"/><ellipse rx="10.69" ry="2.4" fill="url(#g15)" transform="translate(180.67 192.52) rotate(50)"/><ellipse rx="6.16" ry="3.84" fill="url(#g16)" transform="translate(51.26 230.42) rotate(-70)"/><ellipse rx="6.85" ry="6.16" fill="url(#g16)" transform="translate(187.22 149.01) rotate(60)"/><ellipse rx="5.57" ry="6.27" fill="url(#g17)" transform="translate(55.47 110.83) rotate(90)"/><ellipse rx="5.29" ry="4.87" fill="url(#g17)" transform="translate(249.45 90.06) rotate(90)"/><ellipse rx="5.85" ry="3.9" fill="url(#g17)" transform="translate(120.32 195.14) rotate(10)"/><ellipse rx="6.96" ry="4.87" fill="url(#g17)" transform="translate(182.08 208.43) rotate(20)"/><ellipse rx="9.05" ry="5.29" fill="url(#g17)" transform="translate(200.51 242.11) rotate(30)"/><ellipse rx="8.28" ry="4.99" fill="url(#g19)" transform="translate(126.12 81.54) rotate(-25)"/><ellipse rx="9.28" ry="4.99" fill="url(#g19)" transform="translate(170.57 70.12) rotate(80)"/><ellipse rx="9.7" ry="4" fill="url(#g19)" transform="translate(72.31 158.55) rotate(-25)"/><ellipse rx="7.85" ry="6.42" fill="url(#g19)" transform="translate(142.03 185.5) rotate(20)"/><ellipse rx="7.14" ry="3.57" fill="url(#g19)" transform="translate(145.3 258.49) rotate(90)"/><ellipse rx="4.99" ry="4" fill="url(#g19)" transform="translate(200.32 207.49) rotate(25)"/><ellipse rx="5.42" ry="4.57" fill="url(#g19)" transform="translate(159.15 225.93) rotate(15)"/><ellipse rx="10.7" ry="4.28" fill="url(#g20)" transform="translate(48.45 164.45) rotate(22)"/><ellipse rx="7.85" ry="4" fill="url(#g20)" transform="translate(234.95 207.96) rotate(-10)"/><ellipse rx="12.13" ry="5.99" fill="url(#g20)" transform="translate(255.06 212.17) rotate(-45)"/><ellipse rx="5.99" ry="5.42" fill="url(#g21)" transform="translate(98.33 123.18) rotate(10)"/><ellipse rx="6.42" ry="4.99" fill="url(#g21)" transform="translate(78.4 135.16) rotate(80)"/><ellipse rx="4.99" ry="3.57" fill="url(#g21)" transform="translate(138.28 275.8) rotate(-20)"/><ellipse rx="7.14" ry="5.71" fill="url(#g21)" transform="translate(193.31 178.48) rotate(60)"/><ellipse rx="6.42" ry="4.99" fill="url(#g21)" transform="translate(184.88 197.2) rotate(70)"/><ellipse rx="7.14" ry="3.57" fill="url(#g21)" transform="translate(146.99 257.55) rotate(-50)"/><ellipse rx="10.27" ry="4.99" fill="url(#g23)" transform="translate(77.93 95.86) rotate(-22)"/><ellipse rx="5.71" ry="5.42" fill="url(#g23)" transform="translate(176.46 187.84) rotate(40)"/><ellipse rx="8.56" ry="4.99" fill="url(#g23)" transform="translate(153.07 252.87) rotate(-25)"/><ellipse rx="6.42" ry="5.99" fill="url(#g23)" transform="translate(41.9 86.97) rotate(-30)"/><ellipse rx="9.99" ry="4.28" fill="url(#g23)" transform="translate(192.37 220.12) rotate(50)"/><ellipse rx="7.85" ry="4.99" fill="url(#g23)" transform="translate(223.72 208.71) rotate(25)"/><ellipse rx="8.56" ry="5.42" fill="url(#g24)" transform="translate(24.12 150.41) rotate(50)"/><ellipse rx="8.56" ry="6.42" fill="url(#g24)" transform="translate(69.32 230.42) rotate(80)"/><ellipse rx="7.14" ry="4.28" fill="url(#g24)" transform="translate(180.39 230.88) rotate(85)"/><ellipse rx="5.99" ry="5.42" fill="url(#g24)" transform="translate(196.11 161.36) rotate(-20)"/><ellipse cx="24.59" cy="100.54" rx="4.99" ry="4.28" fill="url(#g25)"/><ellipse rx="7.85" ry="4.99" fill="url(#g25)" transform="translate(222.31 143.58) rotate(75)"/><ellipse cx="120.97" cy="181.95" rx="8.85" ry="5.42" fill="url(#g25)"/><ellipse rx="10.7" ry="4.99" fill="url(#g25)" transform="translate(209.21 174.09) rotate(-18)"/><ellipse rx="6.85" ry="5.99" fill="url(#g25)" transform="translate(161.49 179.61) rotate(-15)"/><ellipse rx="6.42" ry="5.42" fill="url(#g25)" transform="translate(246.92 192.52) rotate(80)"/><ellipse rx="12.84" ry="4.99" fill="url(#g26)" transform="translate(89.62 67.78) rotate(55)"/><ellipse cx="109.74" cy="256.62" rx="6.42" ry="6.42" fill="url(#g26)"/><ellipse rx="7.14" ry="5.99" fill="url(#g27)" transform="translate(182.26 49.26) rotate(25)"/><ellipse rx="5.99" ry="5.42" fill="url(#g27)" transform="translate(124.43 209.83) rotate(-10)"/><ellipse cx="172.53" cy="272.71" rx="5.71" ry="4.99" fill="url(#g27)"/><ellipse rx="8.56" ry="6.42" fill="url(#g27)" transform="translate(106 140.3) rotate(75)"/><ellipse cx="222.31" cy="64.98" rx="7.14" ry="7.14" fill="url(#g27)"/><ellipse rx="6.42" ry="5.42" fill="url(#g27)" transform="translate(263.02 97.92) rotate(-15)"/><ellipse rx="10.7" ry="6.42" fill="url(#g27)" transform="translate(216.23 104.28) rotate(-12)"/><ellipse cx="226.06" cy="119.25" rx="5.99" ry="5.99" fill="url(#g28)"/><ellipse cx="212.21" cy="223.12" rx="6.85" ry="6.85" fill="url(#g29)"/><ellipse rx="7.42" ry="6.42" fill="url(#g30)" transform="translate(42.84 211.7) rotate(80)"/><ellipse rx="7.85" ry="5.99" fill="url(#g31)" transform="translate(62.96 145.92) rotate(70)"/><ellipse rx="8.28" ry="6.42" fill="url(#g32)" transform="translate(140.15 204.68) rotate(75)"/><ellipse cx="191.43" cy="265.98" rx="6.85" ry="7.14" fill="url(#g33)"/>
<ellipse rx="6.83" ry="3.17" fill="url(#g14)" transform="translate(140.5 134) rotate(56)"/>
</g>
<rect x="0" y="0" width="290.8" height="290.3" fill="none" stroke="#404040" stroke-width="1.15"/>
<path d="M0.48 290.3v3.9M0 289.81h-3.9M48.95 290.3v3.9M0 241.43h-3.9M97.42 290.3v3.9M0 193.05h-3.9M145.89 290.3v3.9M0 144.66h-3.9M194.35 290.3v3.9M0 96.28h-3.9M242.82 290.3v3.9M0 47.9h-3.9" stroke="#404040" stroke-width="1.05" fill="none"/>
<g font-size="10.4" text-anchor="middle">
<text x="0.48" y="306.9">0</text>
<text x="48.95" y="306.9">50</text>
<text x="97.42" y="306.9">100</text>
<text x="145.89" y="306.9">150</text>
<text x="194.35" y="306.9">200</text>
<text x="242.82" y="306.9">250</text>
</g>
<g font-size="10.4" text-anchor="end">
<text x="-9.1" y="293.71">0</text>
<text x="-9.1" y="245.33">50</text>
<text x="-9.1" y="196.95">100</text>
<text x="-9.1" y="148.56">150</text>
<text x="-9.1" y="100.18">200</text>
<text x="-9.1" y="51.8">250</text>
</g>
<text x="144.8" y="327.1" font-size="17.6" text-anchor="middle">arcsec</text>
<text font-size="17.6" text-anchor="middle" transform="translate(-36.7 146.05) rotate(-90)">arcsec</text>
<text x="145.4" y="-8.9" font-size="18.1" text-anchor="middle" letter-spacing="0.23">BH mass<tspan dx="4.6">∼</tspan><tspan dx="3.5">6</tspan><tspan font-style="italic">X</tspan>10<tspan font-size="12.67" dy="-6.6" dx="-0.6">9</tspan><tspan font-style="italic" dy="6.6" dx="1.2">M</tspan><tspan font-size="12.67" dy="2.9" dx="1.3">⊙</tspan><tspan dy="-2.9">, z=0.016</tspan></text>
<rect x="310.65" y="0" width="14" height="290.3" fill="url(#cbar)" stroke="#161616" stroke-width="0.95"/>
<path d="M325.05 258.35h3.9M325.05 213.1h3.9M325.05 167.85h3.9M325.05 122.6h3.9M325.05 77.35h3.9M325.05 32.1h3.9" stroke="#404040" stroke-width="1.05" fill="none"/>
<g font-size="13">
<text x="332.55" y="263.25">30</text>
<text x="332.55" y="218">40</text>
<text x="332.55" y="172.75">50</text>
<text x="332.55" y="127.5">60</text>
<text x="332.55" y="82.25">70</text>
<text x="332.55" y="37">80</text>
</g>
<text font-size="15.4" text-anchor="middle" transform="translate(366.25 144.25) rotate(-90)">Flux in <tspan font-style="italic">μ</tspan>Jy/beam</text>
</g>
<g transform="translate(646.73 1273.7)">
<g clip-path="url(#cc)">
<circle cx="147.05" cy="146.1" r="132.2" fill="#11006c"/>
<ellipse cx="232.61" cy="83.22" rx="1.48" ry="1.48" fill="url(#g2)"/><ellipse cx="41.43" cy="192.52" rx="1.48" ry="1.48" fill="url(#g2)"/><ellipse rx="1.85" ry="1.48" fill="url(#g2)" transform="translate(166.82 199.54) rotate(40)"/><ellipse rx="3.08" ry="1.48" fill="url(#g3)" transform="translate(203.13 144.05) rotate(80)"/><ellipse rx="3.45" ry="1.73" fill="url(#g4)" transform="translate(76.99 57.02) rotate(10)"/><ellipse rx="3.08" ry="2.22" fill="url(#g4)" transform="translate(72.97 71.25) rotate(40)"/><ellipse cx="117.7" cy="104" rx="6.16" ry="1.48" fill="url(#g4)"/><ellipse cx="267.7" cy="131.42" rx="2.22" ry="2.22" fill="url(#g4)"/><ellipse cx="158.68" cy="136.09" rx="1.85" ry="1.85" fill="url(#g4)"/><ellipse cx="117.51" cy="165.85" rx="2.71" ry="1.97" fill="url(#g4)"/><ellipse rx="3.7" ry="1.48" fill="url(#g4)" transform="translate(146.99 180.82) rotate(-60)"/><ellipse rx="4.93" ry="1.48" fill="url(#g4)" transform="translate(199.57 191.3) rotate(30)"/><ellipse rx="3.45" ry="1.85" fill="url(#g4)" transform="translate(261.33 188.31) rotate(90)"/><ellipse cx="209.68" cy="254.75" rx="2.47" ry="2.47" fill="url(#g4)"/><ellipse rx="9.86" ry="1.48" fill="url(#g5)" transform="translate(200.32 32.23) rotate(-33)"/><ellipse rx="8.63" ry="1.48" fill="url(#g5)" transform="translate(188.16 95.86) rotate(-65)"/><ellipse rx="5.55" ry="1.48" fill="url(#g5)" transform="translate(104.6 242.58) rotate(-60)"/><ellipse rx="11.3" ry="1.51" fill="url(#g5)" transform="translate(98.98 264.57) rotate(-35)"/><ellipse rx="4.93" ry="1.48" fill="url(#g5)" transform="translate(144.83 270.65) rotate(-60)"/><ellipse rx="4.69" ry="2.22" fill="url(#g6)" transform="translate(248.51 76.67) rotate(-35)"/><ellipse rx="4.32" ry="1.73" fill="url(#g6)" transform="translate(260.68 116.44) rotate(-35)"/><ellipse cx="243.37" cy="121.12" rx="2.71" ry="1.97" fill="url(#g6)"/><ellipse cx="236.82" cy="132.35" rx="2.47" ry="2.22" fill="url(#g6)"/><ellipse rx="2.47" ry="1.85" fill="url(#g6)" transform="translate(90.09 165.57) rotate(-20)"/><ellipse rx="3.45" ry="2.71" fill="url(#g6)" transform="translate(62.49 217.5) rotate(-60)"/><ellipse rx="3.45" ry="2.22" fill="url(#g6)" transform="translate(135.2 245.39) rotate(70)"/><ellipse rx="3.08" ry="1.85" fill="url(#g8)" transform="translate(45.18 64.51) rotate(-50)"/><ellipse rx="3.08" ry="2.22" fill="url(#g8)" transform="translate(244.3 60.3) rotate(30)"/><ellipse rx="3.7" ry="2.47" fill="url(#g8)" transform="translate(202.19 98.38) rotate(30)"/><ellipse rx="3.7" ry="1.85" fill="url(#g8)" transform="translate(118.63 273.46) rotate(-10)"/><ellipse rx="4.93" ry="1.85" fill="url(#g8)" transform="translate(173.65 156.96) rotate(-35)"/><ellipse rx="5.55" ry="2.71" fill="url(#g8)" transform="translate(261.61 161.64) rotate(80)"/><ellipse rx="4.32" ry="2.71" fill="url(#g9)" transform="translate(123.03 64.79) rotate(-20)"/><ellipse rx="6.16" ry="3.7" fill="url(#g9)" transform="translate(124.25 103.62) rotate(-15)"/><ellipse rx="4.32" ry="3.08" fill="url(#g9)" transform="translate(37.69 117.19) rotate(10)"/><ellipse rx="4.93" ry="3.45" fill="url(#g9)" transform="translate(31.14 130.67) rotate(70)"/><ellipse rx="3.7" ry="2.47" fill="url(#g9)" transform="translate(21.32 145.45) rotate(20)"/><ellipse rx="4.93" ry="3.7" fill="url(#g9)" transform="translate(150.26 53.28) rotate(40)"/><ellipse rx="6.78" ry="2.71" fill="url(#g9)" transform="translate(202.94 83.41) rotate(-20)"/><ellipse rx="4.93" ry="4.32" fill="url(#g9)" transform="translate(175.53 115.04) rotate(60)"/><ellipse rx="3.7" ry="3.08" fill="url(#g9)" transform="translate(93.65 151.07) rotate(30)"/><ellipse cx="108.81" cy="146.67" rx="3.7" ry="2.47" fill="url(#g9)"/><ellipse cx="234.01" cy="179.42" rx="3.7" ry="2.71" fill="url(#g9)"/><ellipse cx="235.41" cy="226.49" rx="3.95" ry="3.08" fill="url(#g9)"/><ellipse rx="4.32" ry="3.7" fill="url(#g9)" transform="translate(168.98 240.24) rotate(-20)"/><ellipse cx="145.58" cy="166.32" rx="4.36" ry="4.36" fill="url(#g10)"/><ellipse rx="3.77" ry="3.14" fill="url(#g11)" transform="translate(131.27 23.99) rotate(30)"/><ellipse rx="6.03" ry="3.14" fill="url(#g11)" transform="translate(121.44 34.38) rotate(30)"/><ellipse cx="145.02" cy="37.56" rx="3.77" ry="3.77" fill="url(#g11)"/><ellipse cx="55.19" cy="116.44" rx="2.76" ry="5.02" fill="url(#g11)"/><ellipse rx="4.77" ry="3.77" fill="url(#g11)" transform="translate(48.73 132.35) rotate(-10)"/><ellipse rx="6.91" ry="2.76" fill="url(#g11)" transform="translate(224.65 52.81) rotate(70)"/><ellipse rx="8.16" ry="3.77" fill="url(#g11)" transform="translate(177.87 124.87) rotate(-35)"/><ellipse rx="7.53" ry="4.4" fill="url(#g11)" transform="translate(185.82 143.11) rotate(85)"/><ellipse rx="5.02" ry="3.52" fill="url(#g11)" transform="translate(128.27 226.02) rotate(25)"/><ellipse cx="107.87" cy="236.5" rx="4.4" ry="4.02" fill="url(#g11)"/><ellipse rx="5.27" ry="3.52" fill="url(#g11)" transform="translate(153.72 150.69) rotate(5)"/><ellipse rx="6.03" ry="4.4" fill="url(#g11)" transform="translate(218.57 189.06) rotate(85)"/><ellipse cx="221.66" cy="237.44" rx="4.02" ry="3.52" fill="url(#g11)"/><ellipse rx="7.53" ry="1.76" fill="url(#g11)" transform="translate(142.31 270.65) rotate(-55)"/><ellipse rx="5.11" ry="3.58" fill="url(#g13)" transform="translate(102.54 35.31) rotate(40)"/><ellipse rx="7.1" ry="2.84" fill="url(#g13)" transform="translate(40.03 162.11) rotate(15)"/><ellipse cx="76.52" cy="176.14" rx="4.9" ry="4.13" fill="url(#g13)"/><ellipse rx="7.22" ry="3.94" fill="url(#g14)" transform="translate(64.83 48.13) rotate(80)"/><ellipse rx="5.51" ry="3.68" fill="url(#g14)" transform="translate(90.56 48.13) rotate(25)"/><ellipse rx="5.25" ry="3.68" fill="url(#g14)" transform="translate(127.71 50.94) rotate(-10)"/><ellipse rx="7.88" ry="4.99" fill="url(#g14)" transform="translate(134.07 93.8) rotate(-10)"/><ellipse cx="145.02" cy="111.86" rx="4.59" ry="5.25" fill="url(#g14)"/><ellipse rx="7.22" ry="3.68" fill="url(#g14)" transform="translate(157.28 83.69) rotate(35)"/><ellipse rx="4.59" ry="3.28" fill="url(#g14)" transform="translate(259.28 82.1) rotate(30)"/><ellipse rx="5.25" ry="3.28" fill="url(#g14)" transform="translate(249.73 108.02) rotate(5)"/><ellipse rx="5.25" ry="3.68" fill="url(#g14)" transform="translate(98.33 193.74) rotate(15)"/><ellipse rx="7.88" ry="1.97" fill="url(#g14)" transform="translate(186.75 213.57) rotate(50)"/><ellipse rx="4.99" ry="4.59" fill="url(#g14)" transform="translate(156.53 211.42) rotate(90)"/><ellipse rx="5.61" ry="4.01" fill="url(#g15)" transform="translate(61.08 81.17) rotate(30)"/><ellipse rx="5.34" ry="4.67" fill="url(#g15)" transform="translate(68.1 122.53) rotate(20)"/><ellipse cx="152.13" cy="17.25" rx="4.67" ry="4.67" fill="url(#g15)"/><ellipse cx="80.27" cy="214.98" rx="6.01" ry="4.27" fill="url(#g15)"/><ellipse rx="6.68" ry="3.74" fill="url(#g15)" transform="translate(123.31 239.03) rotate(-20)"/><ellipse rx="10.69" ry="2.4" fill="url(#g15)" transform="translate(180.67 192.52) rotate(50)"/><ellipse rx="6.16" ry="3.84" fill="url(#g16)" transform="translate(51.26 230.42) rotate(-70)"/><ellipse rx="6.85" ry="6.16" fill="url(#g16)" transform="translate(187.22 149.01) rotate(60)"/><ellipse rx="5.57" ry="6.27" fill="url(#g17)" transform="translate(55.47 110.83) rotate(90)"/><ellipse rx="5.29" ry="4.87" fill="url(#g17)" transform="translate(249.45 90.06) rotate(90)"/><ellipse rx="5.85" ry="3.9" fill="url(#g17)" transform="translate(120.32 195.14) rotate(10)"/><ellipse rx="6.96" ry="4.87" fill="url(#g17)" transform="translate(182.08 208.43) rotate(20)"/><ellipse rx="9.05" ry="5.29" fill="url(#g17)" transform="translate(200.51 242.11) rotate(30)"/><ellipse rx="8.28" ry="4.99" fill="url(#g19)" transform="translate(126.12 81.54) rotate(-25)"/><ellipse rx="9.28" ry="4.99" fill="url(#g19)" transform="translate(170.57 70.12) rotate(80)"/><ellipse rx="9.7" ry="4" fill="url(#g19)" transform="translate(72.31 158.55) rotate(-25)"/><ellipse rx="7.85" ry="6.42" fill="url(#g19)" transform="translate(142.03 185.5) rotate(20)"/><ellipse rx="7.14" ry="3.57" fill="url(#g19)" transform="translate(145.3 258.49) rotate(90)"/><ellipse rx="4.99" ry="4" fill="url(#g19)" transform="translate(200.32 207.49) rotate(25)"/><ellipse rx="5.42" ry="4.57" fill="url(#g19)" transform="translate(159.15 225.93) rotate(15)"/><ellipse rx="10.7" ry="4.28" fill="url(#g20)" transform="translate(48.45 164.45) rotate(22)"/><ellipse rx="7.85" ry="4" fill="url(#g20)" transform="translate(234.95 207.96) rotate(-10)"/><ellipse rx="12.13" ry="5.99" fill="url(#g20)" transform="translate(255.06 212.17) rotate(-45)"/><ellipse rx="5.99" ry="5.42" fill="url(#g21)" transform="translate(98.33 123.18) rotate(10)"/><ellipse rx="6.42" ry="4.99" fill="url(#g21)" transform="translate(78.4 135.16) rotate(80)"/><ellipse rx="4.99" ry="3.57" fill="url(#g21)" transform="translate(138.28 275.8) rotate(-20)"/><ellipse rx="7.14" ry="5.71" fill="url(#g21)" transform="translate(193.31 178.48) rotate(60)"/><ellipse rx="6.42" ry="4.99" fill="url(#g21)" transform="translate(184.88 197.2) rotate(70)"/><ellipse rx="7.14" ry="3.57" fill="url(#g21)" transform="translate(146.99 257.55) rotate(-50)"/><ellipse rx="10.27" ry="4.99" fill="url(#g23)" transform="translate(77.93 95.86) rotate(-22)"/><ellipse rx="5.71" ry="5.42" fill="url(#g23)" transform="translate(176.46 187.84) rotate(40)"/><ellipse rx="8.56" ry="4.99" fill="url(#g23)" transform="translate(153.07 252.87) rotate(-25)"/><ellipse rx="6.42" ry="5.99" fill="url(#g23)" transform="translate(41.9 86.97) rotate(-30)"/><ellipse rx="9.99" ry="4.28" fill="url(#g23)" transform="translate(192.37 220.12) rotate(50)"/><ellipse rx="7.85" ry="4.99" fill="url(#g23)" transform="translate(223.72 208.71) rotate(25)"/><ellipse rx="8.56" ry="5.42" fill="url(#g24)" transform="translate(24.12 150.41) rotate(50)"/><ellipse rx="8.56" ry="6.42" fill="url(#g24)" transform="translate(69.32 230.42) rotate(80)"/><ellipse rx="7.14" ry="4.28" fill="url(#g24)" transform="translate(180.39 230.88) rotate(85)"/><ellipse rx="5.99" ry="5.42" fill="url(#g24)" transform="translate(196.11 161.36) rotate(-20)"/><ellipse cx="24.59" cy="100.54" rx="4.99" ry="4.28" fill="url(#g25)"/><ellipse rx="7.85" ry="4.99" fill="url(#g25)" transform="translate(222.31 143.58) rotate(75)"/><ellipse cx="120.97" cy="181.95" rx="8.85" ry="5.42" fill="url(#g25)"/><ellipse rx="10.7" ry="4.99" fill="url(#g25)" transform="translate(209.21 174.09) rotate(-18)"/><ellipse rx="6.85" ry="5.99" fill="url(#g25)" transform="translate(161.49 179.61) rotate(-15)"/><ellipse rx="6.42" ry="5.42" fill="url(#g25)" transform="translate(246.92 192.52) rotate(80)"/><ellipse rx="12.84" ry="4.99" fill="url(#g26)" transform="translate(89.62 67.78) rotate(55)"/><ellipse cx="109.74" cy="256.62" rx="6.42" ry="6.42" fill="url(#g26)"/><ellipse rx="7.14" ry="5.99" fill="url(#g27)" transform="translate(182.26 49.26) rotate(25)"/><ellipse rx="5.99" ry="5.42" fill="url(#g27)" transform="translate(124.43 209.83) rotate(-10)"/><ellipse cx="172.53" cy="272.71" rx="5.71" ry="4.99" fill="url(#g27)"/><ellipse rx="8.56" ry="6.42" fill="url(#g27)" transform="translate(106 140.3) rotate(75)"/><ellipse cx="222.31" cy="64.98" rx="7.14" ry="7.14" fill="url(#g27)"/><ellipse rx="6.42" ry="5.42" fill="url(#g27)" transform="translate(263.02 97.92) rotate(-15)"/><ellipse rx="10.7" ry="6.42" fill="url(#g27)" transform="translate(216.23 104.28) rotate(-12)"/><ellipse cx="226.06" cy="119.25" rx="5.99" ry="5.99" fill="url(#g28)"/><ellipse cx="212.21" cy="223.12" rx="6.85" ry="6.85" fill="url(#g29)"/><ellipse rx="7.42" ry="6.42" fill="url(#g30)" transform="translate(42.84 211.7) rotate(80)"/><ellipse rx="7.85" ry="5.99" fill="url(#g31)" transform="translate(62.96 145.92) rotate(70)"/><ellipse rx="8.28" ry="6.42" fill="url(#g32)" transform="translate(140.15 204.68) rotate(75)"/><ellipse cx="191.43" cy="265.98" rx="6.85" ry="7.14" fill="url(#g33)"/><ellipse rx="6.83" ry="3.17" fill="url(#g14)" transform="translate(140.5 134) rotate(56)"/>
</g>
<rect x="0" y="0" width="290.8" height="290.3" fill="none" stroke="#404040" stroke-width="1.15"/>
<path d="M0.48 290.3v3.9M0 289.81h-3.9M48.95 290.3v3.9M0 241.43h-3.9M97.42 290.3v3.9M0 193.05h-3.9M145.89 290.3v3.9M0 144.66h-3.9M194.35 290.3v3.9M0 96.28h-3.9M242.82 290.3v3.9M0 47.9h-3.9" stroke="#404040" stroke-width="1.05" fill="none"/>
<g font-size="10.4" text-anchor="middle">
<text x="0.48" y="306.9">0</text>
<text x="48.95" y="306.9">50</text>
<text x="97.42" y="306.9">100</text>
<text x="145.89" y="306.9">150</text>
<text x="194.35" y="306.9">200</text>
<text x="242.82" y="306.9">250</text>
</g>
<g font-size="10.4" text-anchor="end">
<text x="-9.1" y="293.71">0</text>
<text x="-9.1" y="245.33">50</text>
<text x="-9.1" y="196.95">100</text>
<text x="-9.1" y="148.56">150</text>
<text x="-9.1" y="100.18">200</text>
<text x="-9.1" y="51.8">250</text>
</g>
<text x="144.8" y="327.1" font-size="17.6" text-anchor="middle">arcsec</text>
<text font-size="17.6" text-anchor="middle" transform="translate(-36.7 146.05) rotate(-90)">arcsec</text>
<text x="145.4" y="-8.9" font-size="18.1" text-anchor="middle" letter-spacing="0.23">BH mass<tspan dx="4.6">∼</tspan><tspan dx="3.5">5</tspan><tspan font-style="italic">X</tspan>10<tspan font-size="12.67" dy="-6.6" dx="-0.6">9</tspan><tspan font-style="italic" dy="6.6" dx="1.2">M</tspan><tspan font-size="12.67" dy="2.9" dx="1.3">⊙</tspan><tspan dy="-2.9">, z=0.016</tspan></text>
<rect x="310.65" y="0" width="14" height="290.3" fill="url(#cbar)" stroke="#161616" stroke-width="0.95"/>
<path d="M325.05 258.2h3.9M325.05 212.6h3.9M325.05 167h3.9M325.05 121.4h3.9M325.05 75.8h3.9M325.05 30.2h3.9" stroke="#404040" stroke-width="1.05" fill="none"/>
<g font-size="13">
<text x="332.55" y="263.1">30</text>
<text x="332.55" y="217.5">40</text>
<text x="332.55" y="171.9">50</text>
<text x="332.55" y="126.3">60</text>
<text x="332.55" y="80.7">70</text>
<text x="332.55" y="35.1">80</text>
</g>
<text font-size="15.4" text-anchor="middle" transform="translate(366.25 144.25) rotate(-90)">Flux in <tspan font-style="italic">μ</tspan>Jy/beam</text>
</g>
<g transform="translate(1189.51 1273.7)">
<g clip-path="url(#cc)">
<circle cx="147.05" cy="146.1" r="132.2" fill="#11006c"/>
<ellipse cx="232.61" cy="83.22" rx="1.48" ry="1.48" fill="url(#g2)"/><ellipse cx="41.43" cy="192.52" rx="1.48" ry="1.48" fill="url(#g2)"/><ellipse rx="1.85" ry="1.48" fill="url(#g2)" transform="translate(166.82 199.54) rotate(40)"/><ellipse rx="3.08" ry="1.48" fill="url(#g3)" transform="translate(203.13 144.05) rotate(80)"/><ellipse rx="3.45" ry="1.73" fill="url(#g4)" transform="translate(76.99 57.02) rotate(10)"/><ellipse rx="3.08" ry="2.22" fill="url(#g4)" transform="translate(72.97 71.25) rotate(40)"/><ellipse cx="117.7" cy="104" rx="6.16" ry="1.48" fill="url(#g4)"/><ellipse cx="267.7" cy="131.42" rx="2.22" ry="2.22" fill="url(#g4)"/><ellipse cx="158.68" cy="136.09" rx="1.85" ry="1.85" fill="url(#g4)"/><ellipse cx="117.51" cy="165.85" rx="2.71" ry="1.97" fill="url(#g4)"/><ellipse rx="3.7" ry="1.48" fill="url(#g4)" transform="translate(146.99 180.82) rotate(-60)"/><ellipse rx="4.93" ry="1.48" fill="url(#g4)" transform="translate(199.57 191.3) rotate(30)"/><ellipse rx="3.45" ry="1.85" fill="url(#g4)" transform="translate(261.33 188.31) rotate(90)"/><ellipse cx="209.68" cy="254.75" rx="2.47" ry="2.47" fill="url(#g4)"/><ellipse rx="9.86" ry="1.48" fill="url(#g5)" transform="translate(200.32 32.23) rotate(-33)"/><ellipse rx="8.63" ry="1.48" fill="url(#g5)" transform="translate(188.16 95.86) rotate(-65)"/><ellipse rx="5.55" ry="1.48" fill="url(#g5)" transform="translate(104.6 242.58) rotate(-60)"/><ellipse rx="11.3" ry="1.51" fill="url(#g5)" transform="translate(98.98 264.57) rotate(-35)"/><ellipse rx="4.93" ry="1.48" fill="url(#g5)" transform="translate(144.83 270.65) rotate(-60)"/><ellipse rx="4.69" ry="2.22" fill="url(#g6)" transform="translate(248.51 76.67) rotate(-35)"/><ellipse rx="4.32" ry="1.73" fill="url(#g6)" transform="translate(260.68 116.44) rotate(-35)"/><ellipse cx="243.37" cy="121.12" rx="2.71" ry="1.97" fill="url(#g6)"/><ellipse cx="236.82" cy="132.35" rx="2.47" ry="2.22" fill="url(#g6)"/><ellipse rx="2.47" ry="1.85" fill="url(#g6)" transform="translate(90.09 165.57) rotate(-20)"/><ellipse rx="3.45" ry="2.71" fill="url(#g6)" transform="translate(62.49 217.5) rotate(-60)"/><ellipse rx="3.45" ry="2.22" fill="url(#g6)" transform="translate(135.2 245.39) rotate(70)"/><ellipse rx="3.08" ry="1.85" fill="url(#g8)" transform="translate(45.18 64.51) rotate(-50)"/><ellipse rx="3.08" ry="2.22" fill="url(#g8)" transform="translate(244.3 60.3) rotate(30)"/><ellipse rx="3.7" ry="2.47" fill="url(#g8)" transform="translate(202.19 98.38) rotate(30)"/><ellipse rx="3.7" ry="1.85" fill="url(#g8)" transform="translate(118.63 273.46) rotate(-10)"/><ellipse rx="4.93" ry="1.85" fill="url(#g8)" transform="translate(173.65 156.96) rotate(-35)"/><ellipse rx="5.55" ry="2.71" fill="url(#g8)" transform="translate(261.61 161.64) rotate(80)"/><ellipse rx="4.32" ry="2.71" fill="url(#g9)" transform="translate(123.03 64.79) rotate(-20)"/><ellipse rx="6.16" ry="3.7" fill="url(#g9)" transform="translate(124.25 103.62) rotate(-15)"/><ellipse rx="4.32" ry="3.08" fill="url(#g9)" transform="translate(37.69 117.19) rotate(10)"/><ellipse rx="4.93" ry="3.45" fill="url(#g9)" transform="translate(31.14 130.67) rotate(70)"/><ellipse rx="3.7" ry="2.47" fill="url(#g9)" transform="translate(21.32 145.45) rotate(20)"/><ellipse rx="4.93" ry="3.7" fill="url(#g9)" transform="translate(150.26 53.28) rotate(40)"/><ellipse rx="6.78" ry="2.71" fill="url(#g9)" transform="translate(202.94 83.41) rotate(-20)"/><ellipse rx="4.93" ry="4.32" fill="url(#g9)" transform="translate(175.53 115.04) rotate(60)"/><ellipse rx="3.7" ry="3.08" fill="url(#g9)" transform="translate(93.65 151.07) rotate(30)"/><ellipse cx="108.81" cy="146.67" rx="3.7" ry="2.47" fill="url(#g9)"/><ellipse cx="234.01" cy="179.42" rx="3.7" ry="2.71" fill="url(#g9)"/><ellipse cx="235.41" cy="226.49" rx="3.95" ry="3.08" fill="url(#g9)"/><ellipse rx="4.32" ry="3.7" fill="url(#g9)" transform="translate(168.98 240.24) rotate(-20)"/><ellipse cx="145.58" cy="166.32" rx="4.36" ry="4.36" fill="url(#g10)"/><ellipse rx="3.77" ry="3.14" fill="url(#g11)" transform="translate(131.27 23.99) rotate(30)"/><ellipse rx="6.03" ry="3.14" fill="url(#g11)" transform="translate(121.44 34.38) rotate(30)"/><ellipse cx="145.02" cy="37.56" rx="3.77" ry="3.77" fill="url(#g11)"/><ellipse cx="55.19" cy="116.44" rx="2.76" ry="5.02" fill="url(#g11)"/><ellipse rx="4.77" ry="3.77" fill="url(#g11)" transform="translate(48.73 132.35) rotate(-10)"/><ellipse rx="6.91" ry="2.76" fill="url(#g11)" transform="translate(224.65 52.81) rotate(70)"/><ellipse rx="8.16" ry="3.77" fill="url(#g11)" transform="translate(177.87 124.87) rotate(-35)"/><ellipse rx="7.53" ry="4.4" fill="url(#g11)" transform="translate(185.82 143.11) rotate(85)"/><ellipse rx="5.02" ry="3.52" fill="url(#g11)" transform="translate(128.27 226.02) rotate(25)"/><ellipse cx="107.87" cy="236.5" rx="4.4" ry="4.02" fill="url(#g11)"/><ellipse rx="5.27" ry="3.52" fill="url(#g11)" transform="translate(153.72 150.69) rotate(5)"/><ellipse rx="6.03" ry="4.4" fill="url(#g11)" transform="translate(218.57 189.06) rotate(85)"/><ellipse cx="221.66" cy="237.44" rx="4.02" ry="3.52" fill="url(#g11)"/><ellipse rx="7.53" ry="1.76" fill="url(#g11)" transform="translate(142.31 270.65) rotate(-55)"/><ellipse rx="5.11" ry="3.58" fill="url(#g13)" transform="translate(102.54 35.31) rotate(40)"/><ellipse rx="7.1" ry="2.84" fill="url(#g13)" transform="translate(40.03 162.11) rotate(15)"/><ellipse cx="76.52" cy="176.14" rx="4.9" ry="4.13" fill="url(#g13)"/><ellipse rx="7.22" ry="3.94" fill="url(#g14)" transform="translate(64.83 48.13) rotate(80)"/><ellipse rx="5.51" ry="3.68" fill="url(#g14)" transform="translate(90.56 48.13) rotate(25)"/><ellipse rx="5.25" ry="3.68" fill="url(#g14)" transform="translate(127.71 50.94) rotate(-10)"/><ellipse rx="7.88" ry="4.99" fill="url(#g14)" transform="translate(134.07 93.8) rotate(-10)"/><ellipse cx="145.02" cy="111.86" rx="4.59" ry="5.25" fill="url(#g14)"/><ellipse rx="7.22" ry="3.68" fill="url(#g14)" transform="translate(157.28 83.69) rotate(35)"/><ellipse rx="4.59" ry="3.28" fill="url(#g14)" transform="translate(259.28 82.1) rotate(30)"/><ellipse rx="5.25" ry="3.28" fill="url(#g14)" transform="translate(249.73 108.02) rotate(5)"/><ellipse rx="5.25" ry="3.68" fill="url(#g14)" transform="translate(98.33 193.74) rotate(15)"/><ellipse rx="7.88" ry="1.97" fill="url(#g14)" transform="translate(186.75 213.57) rotate(50)"/><ellipse rx="4.99" ry="4.59" fill="url(#g14)" transform="translate(156.53 211.42) rotate(90)"/><ellipse rx="5.61" ry="4.01" fill="url(#g15)" transform="translate(61.08 81.17) rotate(30)"/><ellipse rx="5.34" ry="4.67" fill="url(#g15)" transform="translate(68.1 122.53) rotate(20)"/><ellipse cx="152.13" cy="17.25" rx="4.67" ry="4.67" fill="url(#g15)"/><ellipse cx="80.27" cy="214.98" rx="6.01" ry="4.27" fill="url(#g15)"/><ellipse rx="6.68" ry="3.74" fill="url(#g15)" transform="translate(123.31 239.03) rotate(-20)"/><ellipse rx="10.69" ry="2.4" fill="url(#g15)" transform="translate(180.67 192.52) rotate(50)"/><ellipse rx="6.16" ry="3.84" fill="url(#g16)" transform="translate(51.26 230.42) rotate(-70)"/><ellipse rx="6.85" ry="6.16" fill="url(#g16)" transform="translate(187.22 149.01) rotate(60)"/><ellipse rx="5.57" ry="6.27" fill="url(#g17)" transform="translate(55.47 110.83) rotate(90)"/><ellipse rx="5.29" ry="4.87" fill="url(#g17)" transform="translate(249.45 90.06) rotate(90)"/><ellipse rx="5.85" ry="3.9" fill="url(#g17)" transform="translate(120.32 195.14) rotate(10)"/><ellipse rx="6.96" ry="4.87" fill="url(#g17)" transform="translate(182.08 208.43) rotate(20)"/><ellipse rx="9.05" ry="5.29" fill="url(#g17)" transform="translate(200.51 242.11) rotate(30)"/><ellipse rx="8.28" ry="4.99" fill="url(#g19)" transform="translate(126.12 81.54) rotate(-25)"/><ellipse rx="9.28" ry="4.99" fill="url(#g19)" transform="translate(170.57 70.12) rotate(80)"/><ellipse rx="9.7" ry="4" fill="url(#g19)" transform="translate(72.31 158.55) rotate(-25)"/><ellipse rx="7.85" ry="6.42" fill="url(#g19)" transform="translate(142.03 185.5) rotate(20)"/><ellipse rx="7.14" ry="3.57" fill="url(#g19)" transform="translate(145.3 258.49) rotate(90)"/><ellipse rx="4.99" ry="4" fill="url(#g19)" transform="translate(200.32 207.49) rotate(25)"/><ellipse rx="5.42" ry="4.57" fill="url(#g19)" transform="translate(159.15 225.93) rotate(15)"/><ellipse rx="10.7" ry="4.28" fill="url(#g20)" transform="translate(48.45 164.45) rotate(22)"/><ellipse rx="7.85" ry="4" fill="url(#g20)" transform="translate(234.95 207.96) rotate(-10)"/><ellipse rx="12.13" ry="5.99" fill="url(#g20)" transform="translate(255.06 212.17) rotate(-45)"/><ellipse rx="5.99" ry="5.42" fill="url(#g21)" transform="translate(98.33 123.18) rotate(10)"/><ellipse rx="6.42" ry="4.99" fill="url(#g21)" transform="translate(78.4 135.16) rotate(80)"/><ellipse rx="4.99" ry="3.57" fill="url(#g21)" transform="translate(138.28 275.8) rotate(-20)"/><ellipse rx="7.14" ry="5.71" fill="url(#g21)" transform="translate(193.31 178.48) rotate(60)"/><ellipse rx="6.42" ry="4.99" fill="url(#g21)" transform="translate(184.88 197.2) rotate(70)"/><ellipse rx="7.14" ry="3.57" fill="url(#g21)" transform="translate(146.99 257.55) rotate(-50)"/><ellipse rx="10.27" ry="4.99" fill="url(#g23)" transform="translate(77.93 95.86) rotate(-22)"/><ellipse rx="5.71" ry="5.42" fill="url(#g23)" transform="translate(176.46 187.84) rotate(40)"/><ellipse rx="8.56" ry="4.99" fill="url(#g23)" transform="translate(153.07 252.87) rotate(-25)"/><ellipse rx="6.42" ry="5.99" fill="url(#g23)" transform="translate(41.9 86.97) rotate(-30)"/><ellipse rx="9.99" ry="4.28" fill="url(#g23)" transform="translate(192.37 220.12) rotate(50)"/><ellipse rx="7.85" ry="4.99" fill="url(#g23)" transform="translate(223.72 208.71) rotate(25)"/><ellipse rx="8.56" ry="5.42" fill="url(#g24)" transform="translate(24.12 150.41) rotate(50)"/><ellipse rx="8.56" ry="6.42" fill="url(#g24)" transform="translate(69.32 230.42) rotate(80)"/><ellipse rx="7.14" ry="4.28" fill="url(#g24)" transform="translate(180.39 230.88) rotate(85)"/><ellipse rx="5.99" ry="5.42" fill="url(#g24)" transform="translate(196.11 161.36) rotate(-20)"/><ellipse cx="24.59" cy="100.54" rx="4.99" ry="4.28" fill="url(#g25)"/><ellipse rx="7.85" ry="4.99" fill="url(#g25)" transform="translate(222.31 143.58) rotate(75)"/><ellipse cx="120.97" cy="181.95" rx="8.85" ry="5.42" fill="url(#g25)"/><ellipse rx="10.7" ry="4.99" fill="url(#g25)" transform="translate(209.21 174.09) rotate(-18)"/><ellipse rx="6.85" ry="5.99" fill="url(#g25)" transform="translate(161.49 179.61) rotate(-15)"/><ellipse rx="6.42" ry="5.42" fill="url(#g25)" transform="translate(246.92 192.52) rotate(80)"/><ellipse rx="12.84" ry="4.99" fill="url(#g26)" transform="translate(89.62 67.78) rotate(55)"/><ellipse cx="109.74" cy="256.62" rx="6.42" ry="6.42" fill="url(#g26)"/><ellipse rx="7.14" ry="5.99" fill="url(#g27)" transform="translate(182.26 49.26) rotate(25)"/><ellipse rx="5.99" ry="5.42" fill="url(#g27)" transform="translate(124.43 209.83) rotate(-10)"/><ellipse cx="172.53" cy="272.71" rx="5.71" ry="4.99" fill="url(#g27)"/><ellipse rx="8.56" ry="6.42" fill="url(#g27)" transform="translate(106 140.3) rotate(75)"/><ellipse cx="222.31" cy="64.98" rx="7.14" ry="7.14" fill="url(#g27)"/><ellipse rx="6.42" ry="5.42" fill="url(#g27)" transform="translate(263.02 97.92) rotate(-15)"/><ellipse rx="10.7" ry="6.42" fill="url(#g27)" transform="translate(216.23 104.28) rotate(-12)"/><ellipse cx="226.06" cy="119.25" rx="5.99" ry="5.99" fill="url(#g28)"/><ellipse cx="212.21" cy="223.12" rx="6.85" ry="6.85" fill="url(#g29)"/><ellipse rx="7.42" ry="6.42" fill="url(#g30)" transform="translate(42.84 211.7) rotate(80)"/><ellipse rx="7.85" ry="5.99" fill="url(#g31)" transform="translate(62.96 145.92) rotate(70)"/><ellipse rx="8.28" ry="6.42" fill="url(#g32)" transform="translate(140.15 204.68) rotate(75)"/><ellipse cx="191.43" cy="265.98" rx="6.85" ry="7.14" fill="url(#g33)"/>
<ellipse rx="6.83" ry="3.17" fill="url(#g14)" transform="translate(140.5 134) rotate(56)"/>
</g>
<rect x="0" y="0" width="290.8" height="290.3" fill="none" stroke="#404040" stroke-width="1.15"/>
<path d="M0.48 290.3v3.9M0 289.81h-3.9M48.95 290.3v3.9M0 241.43h-3.9M97.42 290.3v3.9M0 193.05h-3.9M145.89 290.3v3.9M0 144.66h-3.9M194.35 290.3v3.9M0 96.28h-3.9M242.82 290.3v3.9M0 47.9h-3.9" stroke="#404040" stroke-width="1.05" fill="none"/>
<g font-size="10.4" text-anchor="middle">
<text x="0.48" y="306.9">0</text>
<text x="48.95" y="306.9">50</text>
<text x="97.42" y="306.9">100</text>
<text x="145.89" y="306.9">150</text>
<text x="194.35" y="306.9">200</text>
<text x="242.82" y="306.9">250</text>
</g>
<g font-size="10.4" text-anchor="end">
<text x="-9.1" y="293.71">0</text>
<text x="-9.1" y="245.33">50</text>
<text x="-9.1" y="196.95">100</text>
<text x="-9.1" y="148.56">150</text>
<text x="-9.1" y="100.18">200</text>
<text x="-9.1" y="51.8">250</text>
</g>
<text x="144.8" y="327.1" font-size="17.6" text-anchor="middle">arcsec</text>
<text font-size="17.6" text-anchor="middle" transform="translate(-36.7 146.05) rotate(-90)">arcsec</text>
<text x="145.4" y="-8.9" font-size="18.1" text-anchor="middle" letter-spacing="0.23">BH mass<tspan dx="4.6">∼</tspan><tspan dx="3.5">10</tspan><tspan font-size="12.67" dy="-6.6" dx="-0.6">9</tspan><tspan font-style="italic" dy="6.6" dx="1.2">M</tspan><tspan font-size="12.67" dy="2.9" dx="1.3">⊙</tspan><tspan dy="-2.9">, z=0.016</tspan></text>
<rect x="310.65" y="0" width="14" height="290.3" fill="url(#cbar)" stroke="#161616" stroke-width="0.95"/>
<path d="M325.05 258.35h3.9M325.05 213.1h3.9M325.05 167.85h3.9M325.05 122.6h3.9M325.05 77.35h3.9M325.05 32.1h3.9" stroke="#404040" stroke-width="1.05" fill="none"/>
<g font-size="13">
<text x="332.55" y="263.25">30</text>
<text x="332.55" y="218">40</text>
<text x="332.55" y="172.75">50</text>
<text x="332.55" y="127.5">60</text>
<text x="332.55" y="82.25">70</text>
<text x="332.55" y="37">80</text>
</g>
<text font-size="15.4" text-anchor="middle" transform="translate(366.25 144.25) rotate(-90)">Flux in <tspan font-style="italic">μ</tspan>Jy/beam</text>
</g>
<g transform="translate(1732.29 1273.7)">
<g clip-path="url(#cc)">
<circle cx="147.05" cy="146.1" r="132.2" fill="#11006c"/>
<ellipse cx="232.61" cy="83.22" rx="1.48" ry="1.48" fill="url(#g2)"/><ellipse cx="41.43" cy="192.52" rx="1.48" ry="1.48" fill="url(#g2)"/><ellipse rx="1.85" ry="1.48" fill="url(#g2)" transform="translate(166.82 199.54) rotate(40)"/><ellipse rx="3.08" ry="1.48" fill="url(#g3)" transform="translate(203.13 144.05) rotate(80)"/><ellipse rx="3.45" ry="1.73" fill="url(#g4)" transform="translate(76.99 57.02) rotate(10)"/><ellipse rx="3.08" ry="2.22" fill="url(#g4)" transform="translate(72.97 71.25) rotate(40)"/><ellipse cx="117.7" cy="104" rx="6.16" ry="1.48" fill="url(#g4)"/><ellipse cx="267.7" cy="131.42" rx="2.22" ry="2.22" fill="url(#g4)"/><ellipse cx="158.68" cy="136.09" rx="1.85" ry="1.85" fill="url(#g4)"/><ellipse cx="117.51" cy="165.85" rx="2.71" ry="1.97" fill="url(#g4)"/><ellipse rx="3.7" ry="1.48" fill="url(#g4)" transform="translate(146.99 180.82) rotate(-60)"/><ellipse rx="4.93" ry="1.48" fill="url(#g4)" transform="translate(199.57 191.3) rotate(30)"/><ellipse rx="3.45" ry="1.85" fill="url(#g4)" transform="translate(261.33 188.31) rotate(90)"/><ellipse cx="209.68" cy="254.75" rx="2.47" ry="2.47" fill="url(#g4)"/><ellipse rx="9.86" ry="1.48" fill="url(#g5)" transform="translate(200.32 32.23) rotate(-33)"/><ellipse rx="8.63" ry="1.48" fill="url(#g5)" transform="translate(188.16 95.86) rotate(-65)"/><ellipse rx="5.55" ry="1.48" fill="url(#g5)" transform="translate(104.6 242.58) rotate(-60)"/><ellipse rx="11.3" ry="1.51" fill="url(#g5)" transform="translate(98.98 264.57) rotate(-35)"/><ellipse rx="4.93" ry="1.48" fill="url(#g5)" transform="translate(144.83 270.65) rotate(-60)"/><ellipse rx="4.69" ry="2.22" fill="url(#g6)" transform="translate(248.51 76.67) rotate(-35)"/><ellipse rx="4.32" ry="1.73" fill="url(#g6)" transform="translate(260.68 116.44) rotate(-35)"/><ellipse cx="243.37" cy="121.12" rx="2.71" ry="1.97" fill="url(#g6)"/><ellipse cx="236.82" cy="132.35" rx="2.47" ry="2.22" fill="url(#g6)"/><ellipse rx="2.47" ry="1.85" fill="url(#g6)" transform="translate(90.09 165.57) rotate(-20)"/><ellipse rx="3.45" ry="2.71" fill="url(#g6)" transform="translate(62.49 217.5) rotate(-60)"/><ellipse rx="3.45" ry="2.22" fill="url(#g6)" transform="translate(135.2 245.39) rotate(70)"/><ellipse rx="3.08" ry="1.85" fill="url(#g8)" transform="translate(45.18 64.51) rotate(-50)"/><ellipse rx="3.08" ry="2.22" fill="url(#g8)" transform="translate(244.3 60.3) rotate(30)"/><ellipse rx="3.7" ry="2.47" fill="url(#g8)" transform="translate(202.19 98.38) rotate(30)"/><ellipse rx="3.7" ry="1.85" fill="url(#g8)" transform="translate(118.63 273.46) rotate(-10)"/><ellipse rx="4.93" ry="1.85" fill="url(#g8)" transform="translate(173.65 156.96) rotate(-35)"/><ellipse rx="5.55" ry="2.71" fill="url(#g8)" transform="translate(261.61 161.64) rotate(80)"/><ellipse rx="4.32" ry="2.71" fill="url(#g9)" transform="translate(123.03 64.79) rotate(-20)"/><ellipse rx="6.16" ry="3.7" fill="url(#g9)" transform="translate(124.25 103.62) rotate(-15)"/><ellipse rx="4.32" ry="3.08" fill="url(#g9)" transform="translate(37.69 117.19) rotate(10)"/><ellipse rx="4.93" ry="3.45" fill="url(#g9)" transform="translate(31.14 130.67) rotate(70)"/><ellipse rx="3.7" ry="2.47" fill="url(#g9)" transform="translate(21.32 145.45) rotate(20)"/><ellipse rx="4.93" ry="3.7" fill="url(#g9)" transform="translate(150.26 53.28) rotate(40)"/><ellipse rx="6.78" ry="2.71" fill="url(#g9)" transform="translate(202.94 83.41) rotate(-20)"/><ellipse rx="4.93" ry="4.32" fill="url(#g9)" transform="translate(175.53 115.04) rotate(60)"/><ellipse rx="3.7" ry="3.08" fill="url(#g9)" transform="translate(93.65 151.07) rotate(30)"/><ellipse cx="108.81" cy="146.67" rx="3.7" ry="2.47" fill="url(#g9)"/><ellipse cx="234.01" cy="179.42" rx="3.7" ry="2.71" fill="url(#g9)"/><ellipse cx="235.41" cy="226.49" rx="3.95" ry="3.08" fill="url(#g9)"/><ellipse rx="4.32" ry="3.7" fill="url(#g9)" transform="translate(168.98 240.24) rotate(-20)"/><ellipse cx="145.58" cy="166.32" rx="4.36" ry="4.36" fill="url(#g10)"/><ellipse rx="3.77" ry="3.14" fill="url(#g11)" transform="translate(131.27 23.99) rotate(30)"/><ellipse rx="6.03" ry="3.14" fill="url(#g11)" transform="translate(121.44 34.38) rotate(30)"/><ellipse cx="145.02" cy="37.56" rx="3.77" ry="3.77" fill="url(#g11)"/><ellipse cx="55.19" cy="116.44" rx="2.76" ry="5.02" fill="url(#g11)"/><ellipse rx="4.77" ry="3.77" fill="url(#g11)" transform="translate(48.73 132.35) rotate(-10)"/><ellipse rx="6.91" ry="2.76" fill="url(#g11)" transform="translate(224.65 52.81) rotate(70)"/><ellipse rx="8.16" ry="3.77" fill="url(#g11)" transform="translate(177.87 124.87) rotate(-35)"/><ellipse rx="7.53" ry="4.4" fill="url(#g11)" transform="translate(185.82 143.11) rotate(85)"/><ellipse rx="5.02" ry="3.52" fill="url(#g11)" transform="translate(128.27 226.02) rotate(25)"/><ellipse cx="107.87" cy="236.5" rx="4.4" ry="4.02" fill="url(#g11)"/><ellipse rx="5.27" ry="3.52" fill="url(#g11)" transform="translate(153.72 150.69) rotate(5)"/><ellipse rx="6.03" ry="4.4" fill="url(#g11)" transform="translate(218.57 189.06) rotate(85)"/><ellipse cx="221.66" cy="237.44" rx="4.02" ry="3.52" fill="url(#g11)"/><ellipse rx="7.53" ry="1.76" fill="url(#g11)" transform="translate(142.31 270.65) rotate(-55)"/><ellipse rx="5.11" ry="3.58" fill="url(#g13)" transform="translate(102.54 35.31) rotate(40)"/><ellipse rx="7.1" ry="2.84" fill="url(#g13)" transform="translate(40.03 162.11) rotate(15)"/><ellipse cx="76.52" cy="176.14" rx="4.9" ry="4.13" fill="url(#g13)"/><ellipse rx="7.22" ry="3.94" fill="url(#g14)" transform="translate(64.83 48.13) rotate(80)"/><ellipse rx="5.51" ry="3.68" fill="url(#g14)" transform="translate(90.56 48.13) rotate(25)"/><ellipse rx="5.25" ry="3.68" fill="url(#g14)" transform="translate(127.71 50.94) rotate(-10)"/><ellipse rx="7.88" ry="4.99" fill="url(#g14)" transform="translate(134.07 93.8) rotate(-10)"/><ellipse cx="145.02" cy="111.86" rx="4.59" ry="5.25" fill="url(#g14)"/><ellipse rx="7.22" ry="3.68" fill="url(#g14)" transform="translate(157.28 83.69) rotate(35)"/><ellipse rx="4.59" ry="3.28" fill="url(#g14)" transform="translate(259.28 82.1) rotate(30)"/><ellipse rx="5.25" ry="3.28" fill="url(#g14)" transform="translate(249.73 108.02) rotate(5)"/><ellipse rx="5.25" ry="3.68" fill="url(#g14)" transform="translate(98.33 193.74) rotate(15)"/><ellipse rx="7.88" ry="1.97" fill="url(#g14)" transform="translate(186.75 213.57) rotate(50)"/><ellipse rx="4.99" ry="4.59" fill="url(#g14)" transform="translate(156.53 211.42) rotate(90)"/><ellipse rx="5.61" ry="4.01" fill="url(#g15)" transform="translate(61.08 81.17) rotate(30)"/><ellipse rx="5.34" ry="4.67" fill="url(#g15)" transform="translate(68.1 122.53) rotate(20)"/><ellipse cx="152.13" cy="17.25" rx="4.67" ry="4.67" fill="url(#g15)"/><ellipse cx="80.27" cy="214.98" rx="6.01" ry="4.27" fill="url(#g15)"/><ellipse rx="6.68" ry="3.74" fill="url(#g15)" transform="translate(123.31 239.03) rotate(-20)"/><ellipse rx="10.69" ry="2.4" fill="url(#g15)" transform="translate(180.67 192.52) rotate(50)"/><ellipse rx="6.16" ry="3.84" fill="url(#g16)" transform="translate(51.26 230.42) rotate(-70)"/><ellipse rx="6.85" ry="6.16" fill="url(#g16)" transform="translate(187.22 149.01) rotate(60)"/><ellipse rx="5.57" ry="6.27" fill="url(#g17)" transform="translate(55.47 110.83) rotate(90)"/><ellipse rx="5.29" ry="4.87" fill="url(#g17)" transform="translate(249.45 90.06) rotate(90)"/><ellipse rx="5.85" ry="3.9" fill="url(#g17)" transform="translate(120.32 195.14) rotate(10)"/><ellipse rx="6.96" ry="4.87" fill="url(#g17)" transform="translate(182.08 208.43) rotate(20)"/><ellipse rx="9.05" ry="5.29" fill="url(#g17)" transform="translate(200.51 242.11) rotate(30)"/><ellipse rx="8.28" ry="4.99" fill="url(#g19)" transform="translate(126.12 81.54) rotate(-25)"/><ellipse rx="9.28" ry="4.99" fill="url(#g19)" transform="translate(170.57 70.12) rotate(80)"/><ellipse rx="9.7" ry="4" fill="url(#g19)" transform="translate(72.31 158.55) rotate(-25)"/><ellipse rx="7.85" ry="6.42" fill="url(#g19)" transform="translate(142.03 185.5) rotate(20)"/><ellipse rx="7.14" ry="3.57" fill="url(#g19)" transform="translate(145.3 258.49) rotate(90)"/><ellipse rx="4.99" ry="4" fill="url(#g19)" transform="translate(200.32 207.49) rotate(25)"/><ellipse rx="5.42" ry="4.57" fill="url(#g19)" transform="translate(159.15 225.93) rotate(15)"/><ellipse rx="10.7" ry="4.28" fill="url(#g20)" transform="translate(48.45 164.45) rotate(22)"/><ellipse rx="7.85" ry="4" fill="url(#g20)" transform="translate(234.95 207.96) rotate(-10)"/><ellipse rx="12.13" ry="5.99" fill="url(#g20)" transform="translate(255.06 212.17) rotate(-45)"/><ellipse rx="5.99" ry="5.42" fill="url(#g21)" transform="translate(98.33 123.18) rotate(10)"/><ellipse rx="6.42" ry="4.99" fill="url(#g21)" transform="translate(78.4 135.16) rotate(80)"/><ellipse rx="4.99" ry="3.57" fill="url(#g21)" transform="translate(138.28 275.8) rotate(-20)"/><ellipse rx="7.14" ry="5.71" fill="url(#g21)" transform="translate(193.31 178.48) rotate(60)"/><ellipse rx="6.42" ry="4.99" fill="url(#g21)" transform="translate(184.88 197.2) rotate(70)"/><ellipse rx="7.14" ry="3.57" fill="url(#g21)" transform="translate(146.99 257.55) rotate(-50)"/><ellipse rx="10.27" ry="4.99" fill="url(#g23)" transform="translate(77.93 95.86) rotate(-22)"/><ellipse rx="5.71" ry="5.42" fill="url(#g23)" transform="translate(176.46 187.84) rotate(40)"/><ellipse rx="8.56" ry="4.99" fill="url(#g23)" transform="translate(153.07 252.87) rotate(-25)"/><ellipse rx="6.42" ry="5.99" fill="url(#g23)" transform="translate(41.9 86.97) rotate(-30)"/><ellipse rx="9.99" ry="4.28" fill="url(#g23)" transform="translate(192.37 220.12) rotate(50)"/><ellipse rx="7.85" ry="4.99" fill="url(#g23)" transform="translate(223.72 208.71) rotate(25)"/><ellipse rx="8.56" ry="5.42" fill="url(#g24)" transform="translate(24.12 150.41) rotate(50)"/><ellipse rx="8.56" ry="6.42" fill="url(#g24)" transform="translate(69.32 230.42) rotate(80)"/><ellipse rx="7.14" ry="4.28" fill="url(#g24)" transform="translate(180.39 230.88) rotate(85)"/><ellipse rx="5.99" ry="5.42" fill="url(#g24)" transform="translate(196.11 161.36) rotate(-20)"/><ellipse cx="24.59" cy="100.54" rx="4.99" ry="4.28" fill="url(#g25)"/><ellipse rx="7.85" ry="4.99" fill="url(#g25)" transform="translate(222.31 143.58) rotate(75)"/><ellipse cx="120.97" cy="181.95" rx="8.85" ry="5.42" fill="url(#g25)"/><ellipse rx="10.7" ry="4.99" fill="url(#g25)" transform="translate(209.21 174.09) rotate(-18)"/><ellipse rx="6.85" ry="5.99" fill="url(#g25)" transform="translate(161.49 179.61) rotate(-15)"/><ellipse rx="6.42" ry="5.42" fill="url(#g25)" transform="translate(246.92 192.52) rotate(80)"/><ellipse rx="12.84" ry="4.99" fill="url(#g26)" transform="translate(89.62 67.78) rotate(55)"/><ellipse cx="109.74" cy="256.62" rx="6.42" ry="6.42" fill="url(#g26)"/><ellipse rx="7.14" ry="5.99" fill="url(#g27)" transform="translate(182.26 49.26) rotate(25)"/><ellipse rx="5.99" ry="5.42" fill="url(#g27)" transform="translate(124.43 209.83) rotate(-10)"/><ellipse cx="172.53" cy="272.71" rx="5.71" ry="4.99" fill="url(#g27)"/><ellipse rx="8.56" ry="6.42" fill="url(#g27)" transform="translate(106 140.3) rotate(75)"/><ellipse cx="222.31" cy="64.98" rx="7.14" ry="7.14" fill="url(#g27)"/><ellipse rx="6.42" ry="5.42" fill="url(#g27)" transform="translate(263.02 97.92) rotate(-15)"/><ellipse rx="10.7" ry="6.42" fill="url(#g27)" transform="translate(216.23 104.28) rotate(-12)"/><ellipse cx="226.06" cy="119.25" rx="5.99" ry="5.99" fill="url(#g28)"/><ellipse cx="212.21" cy="223.12" rx="6.85" ry="6.85" fill="url(#g29)"/><ellipse rx="7.42" ry="6.42" fill="url(#g30)" transform="translate(42.84 211.7) rotate(80)"/><ellipse rx="7.85" ry="5.99" fill="url(#g31)" transform="translate(62.96 145.92) rotate(70)"/><ellipse rx="8.28" ry="6.42" fill="url(#g32)" transform="translate(140.15 204.68) rotate(75)"/><ellipse cx="191.43" cy="265.98" rx="6.85" ry="7.14" fill="url(#g33)"/>
<ellipse rx="6.83" ry="3.17" fill="url(#g14)" transform="translate(140.5 134) rotate(56)"/>
</g>
<rect x="0" y="0" width="290.8" height="290.3" fill="none" stroke="#404040" stroke-width="1.15"/>
<path d="M0.48 290.3v3.9M0 289.81h-3.9M48.95 290.3v3.9M0 241.43h-3.9M97.42 290.3v3.9M0 193.05h-3.9M145.89 290.3v3.9M0 144.66h-3.9M194.35 290.3v3.9M0 96.28h-3.9M242.82 290.3v3.9M0 47.9h-3.9" stroke="#404040" stroke-width="1.05" fill="none"/>
<g font-size="10.4" text-anchor="middle">
<text x="0.48" y="306.9">0</text>
<text x="48.95" y="306.9">50</text>
<text x="97.42" y="306.9">100</text>
<text x="145.89" y="306.9">150</text>
<text x="194.35" y="306.9">200</text>
<text x="242.82" y="306.9">250</text>
</g>
<g font-size="10.4" text-anchor="end">
<text x="-9.1" y="293.71">0</text>
<text x="-9.1" y="245.33">50</text>
<text x="-9.1" y="196.95">100</text>
<text x="-9.1" y="148.56">150</text>
<text x="-9.1" y="100.18">200</text>
<text x="-9.1" y="51.8">250</text>
</g>
<text x="144.8" y="327.1" font-size="17.6" text-anchor="middle">arcsec</text>
<text font-size="17.6" text-anchor="middle" transform="translate(-36.7 146.05) rotate(-90)">arcsec</text>
<text x="145.4" y="-8.9" font-size="18.1" text-anchor="middle" letter-spacing="0.23">BH mass<tspan dx="4.6">∼</tspan><tspan dx="3.5">5</tspan><tspan font-style="italic">X</tspan>10<tspan font-size="12.67" dy="-6.6" dx="-0.6">9</tspan><tspan font-style="italic" dy="6.6" dx="1.2">M</tspan><tspan font-size="12.67" dy="2.9" dx="1.3">⊙</tspan><tspan dy="-2.9">, z=0.016</tspan></text>
<rect x="310.65" y="0" width="14" height="290.3" fill="url(#cbar)" stroke="#161616" stroke-width="0.95"/>
<path d="M325.05 258.35h3.9M325.05 213.1h3.9M325.05 167.85h3.9M325.05 122.6h3.9M325.05 77.35h3.9M325.05 32.1h3.9" stroke="#404040" stroke-width="1.05" fill="none"/>
<g font-size="13">
<text x="332.55" y="263.25">30</text>
<text x="332.55" y="218">40</text>
<text x="332.55" y="172.75">50</text>
<text x="332.55" y="127.5">60</text>
<text x="332.55" y="82.25">70</text>
<text x="332.55" y="37">80</text>
</g>
<text font-size="15.4" text-anchor="middle" transform="translate(366.25 144.25) rotate(-90)">Flux in <tspan font-style="italic">μ</tspan>Jy/beam</text>
</g>
</svg></body></html>
